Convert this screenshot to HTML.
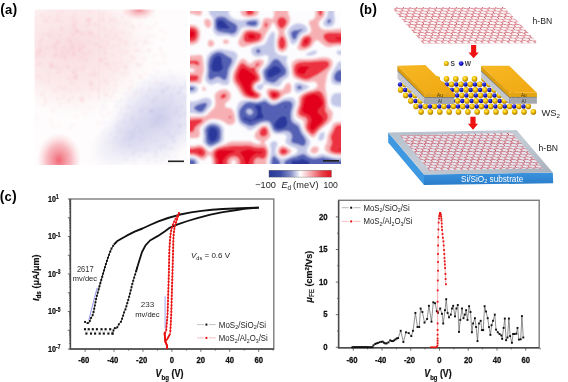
<!DOCTYPE html>
<html><head><meta charset="utf-8"><title>Figure</title>
<style>html,body{margin:0;padding:0;background:#fff;} svg{display:block;}</style></head>
<body><svg width="568" height="382" viewBox="0 0 568 382" font-family="'Liberation Sans', Arial, sans-serif">
<defs>
<linearGradient id="cbar" x1="0" x2="1" y1="0" y2="0">
 <stop offset="0" stop-color="#283896"/>
 <stop offset="0.18" stop-color="#3a4aa4"/>
 <stop offset="0.35" stop-color="#8890c8"/>
 <stop offset="0.5" stop-color="#ffffff"/>
 <stop offset="0.68" stop-color="#f4a4a8"/>
 <stop offset="0.85" stop-color="#e84048"/>
 <stop offset="1" stop-color="#e0101c"/>
</linearGradient>
<radialGradient id="lmRed1" cx="0.5" cy="0.5" r="0.5">
 <stop offset="0" stop-color="#ec3446" stop-opacity="0.75"/>
 <stop offset="0.55" stop-color="#f06070" stop-opacity="0.42"/>
 <stop offset="1" stop-color="#f6a0a8" stop-opacity="0"/>
</radialGradient>
<radialGradient id="lmRed2" cx="0.5" cy="0.5" r="0.5">
 <stop offset="0" stop-color="#e84050" stop-opacity="0.6"/>
 <stop offset="1" stop-color="#f6a0a8" stop-opacity="0"/>
</radialGradient>
<radialGradient id="lmBlue" cx="0.5" cy="0.5" r="0.5">
 <stop offset="0" stop-color="#b0b0e0" stop-opacity="0.62"/>
 <stop offset="0.6" stop-color="#c6c6ea" stop-opacity="0.4"/>
 <stop offset="1" stop-color="#d8d8f0" stop-opacity="0"/>
</radialGradient>
<radialGradient id="lmPinkR" cx="0.5" cy="0.5" r="0.5">
 <stop offset="0" stop-color="#f8d6da" stop-opacity="0.85"/>
 <stop offset="0.6" stop-color="#fadfe2" stop-opacity="0.6"/>
 <stop offset="1" stop-color="#fdf0f0" stop-opacity="0"/>
</radialGradient>
<linearGradient id="lmPink" x1="0" y1="0" x2="1" y2="1">
 <stop offset="0" stop-color="#f8d8dc"/>
 <stop offset="0.45" stop-color="#fcecee"/>
 <stop offset="0.6" stop-color="#ffffff" stop-opacity="0"/>
</linearGradient>
<filter id="blur2" x="-5%" y="-5%" width="110%" height="110%"><feGaussianBlur stdDeviation="3.2"/></filter>
<filter id="blurM" x="-5%" y="-5%" width="110%" height="110%"><feGaussianBlur stdDeviation="0.9"/></filter>
<filter id="blur1"><feGaussianBlur stdDeviation="1"/></filter>
<clipPath id="rmClip"><rect x="190" y="11" width="151" height="153"/></clipPath>
<clipPath id="lmClip"><rect x="34.5" y="9.5" width="152" height="155.5"/></clipPath>

<pattern id="hexTop" patternUnits="userSpaceOnUse" width="6.6" height="5.4" patternTransform="translate(394 8) skewX(40)">
 <rect width="6.6" height="5.4" fill="#fbf4f5"/>
 <path d="M0,0.9 L3.3,0 L6.6,0.9 M0,0.9 L0,2.7 M6.6,0.9 L6.6,2.7 M0,2.7 L3.3,3.6 L6.6,2.7 M3.3,3.6 L3.3,5.4" fill="none" stroke="#c43444" stroke-width="0.6"/>
</pattern>
<pattern id="hexSub" patternUnits="userSpaceOnUse" width="6.6" height="5.4" patternTransform="translate(400 135) skewX(40)">
 <rect width="6.6" height="5.4" fill="#e6e4ec"/>
 <path d="M0,0.9 L3.3,0 L6.6,0.9 M0,0.9 L0,2.7 M6.6,0.9 L6.6,2.7 M0,2.7 L3.3,3.6 L6.6,2.7 M3.3,3.6 L3.3,5.4" fill="none" stroke="#bc3040" stroke-width="0.6"/>
</pattern>
<radialGradient id="ballS" cx="0.4" cy="0.35" r="0.65">
 <stop offset="0" stop-color="#fff27a"/>
 <stop offset="0.45" stop-color="#f5c400"/>
 <stop offset="1" stop-color="#a87800"/>
</radialGradient>
<radialGradient id="ballW" cx="0.4" cy="0.35" r="0.65">
 <stop offset="0" stop-color="#6060ff"/>
 <stop offset="0.5" stop-color="#1a1ad0"/>
 <stop offset="1" stop-color="#080870"/>
</radialGradient>
<linearGradient id="goldTop" x1="0" y1="0" x2="1" y2="1">
 <stop offset="0" stop-color="#f7b824"/>
 <stop offset="1" stop-color="#f0a812"/>
</linearGradient>
<linearGradient id="subTop" x1="0" y1="0" x2="1" y2="1">
 <stop offset="0" stop-color="#b4c0cc"/>
 <stop offset="0.5" stop-color="#c4ccd6"/>
 <stop offset="1" stop-color="#a8b0bc"/>
</linearGradient>
<linearGradient id="subFront" x1="0" y1="0" x2="0" y2="1">
 <stop offset="0" stop-color="#3a94e0"/>
 <stop offset="1" stop-color="#2a7cc8"/>
</linearGradient>
</defs>
<rect width="568" height="382" fill="#fff"/>
<text x="0.2" y="14.2" font-size="13" font-weight="bold"><tspan font-size="14.1">(</tspan>a<tspan font-size="14.1" dx="0.3">)</tspan></text>
<text x="359.4" y="13.8" font-size="13" font-weight="bold"><tspan font-size="14.1">(</tspan>b<tspan font-size="14.1" dx="0.3">)</tspan></text>
<text x="-0.3" y="201.3" font-size="13" font-weight="bold"><tspan font-size="14.1">(</tspan>c<tspan font-size="14.1" dx="0.3">)</tspan></text>
<g clip-path="url(#lmClip)">
<rect x="34.5" y="9.5" width="153.0" height="155.5" fill="#fefcfc"/>
<ellipse cx="72" cy="48" rx="85" ry="70" fill="url(#lmPinkR)"/>
<ellipse cx="158" cy="118" rx="56" ry="44" fill="url(#lmBlue)" transform="rotate(-40 158 118)"/>
<ellipse cx="125" cy="140" rx="40" ry="26" fill="url(#lmBlue)" opacity="0.55" transform="rotate(-35 125 140)"/>
<g filter="url(#blur1)"><rect x="84.0" y="33.0" width="3" height="3" fill="#f09aa2" opacity="0.09"/><rect x="116.5" y="66.4" width="3" height="3" fill="#f09aa2" opacity="0.12"/><rect x="40.2" y="76.9" width="3" height="3" fill="#f09aa2" opacity="0.09"/><rect x="53.4" y="44.2" width="3" height="3" fill="#f09aa2" opacity="0.20"/><rect x="78.8" y="31.9" width="3" height="3" fill="#f09aa2" opacity="0.12"/><rect x="44.1" y="18.8" width="3" height="3" fill="#f09aa2" opacity="0.14"/><rect x="99.9" y="58.3" width="3" height="3" fill="#f09aa2" opacity="0.13"/><rect x="57.8" y="85.5" width="3" height="3" fill="#f09aa2" opacity="0.13"/><rect x="107.0" y="112.8" width="3" height="3" fill="#f09aa2" opacity="0.09"/><rect x="60.2" y="27.7" width="3" height="3" fill="#f09aa2" opacity="0.17"/><rect x="54.3" y="48.0" width="3" height="3" fill="#f09aa2" opacity="0.19"/><rect x="46.8" y="79.3" width="3" height="3" fill="#f09aa2" opacity="0.15"/><rect x="159.8" y="143.8" width="2.5" height="2.5" fill="#a8a8dc" opacity="0.13"/><rect x="61.5" y="45.6" width="3" height="3" fill="#f09aa2" opacity="0.15"/><rect x="124.6" y="50.4" width="3" height="3" fill="#f09aa2" opacity="0.11"/><rect x="140.1" y="89.7" width="2.5" height="2.5" fill="#a8a8dc" opacity="0.10"/><rect x="156.6" y="70.5" width="2.5" height="2.5" fill="#a8a8dc" opacity="0.10"/><rect x="44.0" y="20.0" width="3" height="3" fill="#f09aa2" opacity="0.09"/><rect x="86.5" y="17.7" width="3" height="3" fill="#f09aa2" opacity="0.09"/><rect x="50.0" y="66.0" width="3" height="3" fill="#f09aa2" opacity="0.17"/><rect x="128.5" y="32.6" width="3" height="3" fill="#f09aa2" opacity="0.10"/><rect x="186.4" y="82.0" width="2.5" height="2.5" fill="#a8a8dc" opacity="0.10"/><rect x="50.1" y="62.8" width="3" height="3" fill="#f09aa2" opacity="0.17"/><rect x="115.3" y="32.3" width="3" height="3" fill="#f09aa2" opacity="0.08"/><rect x="166.6" y="117.8" width="2.5" height="2.5" fill="#a8a8dc" opacity="0.15"/><rect x="116.0" y="130.6" width="2.5" height="2.5" fill="#a8a8dc" opacity="0.11"/><rect x="69.2" y="90.0" width="3" height="3" fill="#f09aa2" opacity="0.08"/><rect x="38.8" y="52.9" width="3" height="3" fill="#f09aa2" opacity="0.15"/><rect x="185.7" y="158.0" width="2.5" height="2.5" fill="#a8a8dc" opacity="0.10"/><rect x="69.2" y="40.1" width="3" height="3" fill="#f09aa2" opacity="0.17"/><rect x="172.2" y="140.2" width="2.5" height="2.5" fill="#a8a8dc" opacity="0.15"/><rect x="145.4" y="35.9" width="3" height="3" fill="#f09aa2" opacity="0.09"/><rect x="172.9" y="134.9" width="2.5" height="2.5" fill="#a8a8dc" opacity="0.17"/><rect x="184.5" y="111.7" width="2.5" height="2.5" fill="#a8a8dc" opacity="0.14"/><rect x="133.9" y="91.4" width="2.5" height="2.5" fill="#a8a8dc" opacity="0.14"/><rect x="79.3" y="46.9" width="3" height="3" fill="#f09aa2" opacity="0.12"/><rect x="88.6" y="80.7" width="3" height="3" fill="#f09aa2" opacity="0.16"/><rect x="111.3" y="92.2" width="2.5" height="2.5" fill="#a8a8dc" opacity="0.10"/><rect x="119.6" y="60.2" width="3" height="3" fill="#f09aa2" opacity="0.12"/><rect x="72.5" y="52.6" width="3" height="3" fill="#f09aa2" opacity="0.16"/><rect x="102.3" y="104.7" width="2.5" height="2.5" fill="#a8a8dc" opacity="0.10"/><rect x="103.7" y="92.4" width="3" height="3" fill="#f09aa2" opacity="0.13"/><rect x="163.0" y="30.8" width="3" height="3" fill="#f09aa2" opacity="0.08"/><rect x="45.6" y="46.9" width="3" height="3" fill="#f09aa2" opacity="0.16"/><rect x="154.4" y="149.0" width="2.5" height="2.5" fill="#a8a8dc" opacity="0.14"/><rect x="113.4" y="62.2" width="3" height="3" fill="#f09aa2" opacity="0.11"/><rect x="101.9" y="12.3" width="3" height="3" fill="#f09aa2" opacity="0.13"/><rect x="155.1" y="160.6" width="2.5" height="2.5" fill="#a8a8dc" opacity="0.11"/><rect x="75.9" y="29.6" width="3" height="3" fill="#f09aa2" opacity="0.19"/><rect x="159.8" y="49.7" width="3" height="3" fill="#f09aa2" opacity="0.09"/><rect x="121.8" y="118.4" width="2.5" height="2.5" fill="#a8a8dc" opacity="0.10"/><rect x="139.8" y="75.6" width="3" height="3" fill="#f09aa2" opacity="0.11"/><rect x="131.6" y="134.2" width="2.5" height="2.5" fill="#a8a8dc" opacity="0.16"/><rect x="103.9" y="62.2" width="3" height="3" fill="#f09aa2" opacity="0.17"/><rect x="75.5" y="29.6" width="3" height="3" fill="#f09aa2" opacity="0.11"/><rect x="51.2" y="34.6" width="3" height="3" fill="#f09aa2" opacity="0.10"/><rect x="82.2" y="56.9" width="3" height="3" fill="#f09aa2" opacity="0.12"/><rect x="111.0" y="37.2" width="3" height="3" fill="#f09aa2" opacity="0.08"/><rect x="118.8" y="39.0" width="3" height="3" fill="#f09aa2" opacity="0.15"/><rect x="161.8" y="119.4" width="2.5" height="2.5" fill="#a8a8dc" opacity="0.16"/><rect x="87.7" y="18.0" width="3" height="3" fill="#f09aa2" opacity="0.09"/><rect x="147.9" y="49.2" width="3" height="3" fill="#f09aa2" opacity="0.08"/><rect x="163.2" y="144.9" width="2.5" height="2.5" fill="#a8a8dc" opacity="0.12"/><rect x="71.6" y="55.1" width="3" height="3" fill="#f09aa2" opacity="0.10"/><rect x="183.3" y="94.6" width="2.5" height="2.5" fill="#a8a8dc" opacity="0.15"/><rect x="81.9" y="64.9" width="3" height="3" fill="#f09aa2" opacity="0.13"/><rect x="107.1" y="87.7" width="3" height="3" fill="#f09aa2" opacity="0.11"/><rect x="35.3" y="50.6" width="3" height="3" fill="#f09aa2" opacity="0.12"/><rect x="40.9" y="13.0" width="3" height="3" fill="#f09aa2" opacity="0.10"/><rect x="124.1" y="91.8" width="2.5" height="2.5" fill="#a8a8dc" opacity="0.12"/><rect x="169.0" y="70.1" width="2.5" height="2.5" fill="#a8a8dc" opacity="0.10"/><rect x="139.0" y="117.3" width="2.5" height="2.5" fill="#a8a8dc" opacity="0.10"/><rect x="54.9" y="65.6" width="3" height="3" fill="#f09aa2" opacity="0.18"/><rect x="120.0" y="107.1" width="2.5" height="2.5" fill="#a8a8dc" opacity="0.12"/><rect x="149.0" y="87.7" width="2.5" height="2.5" fill="#a8a8dc" opacity="0.10"/><rect x="147.2" y="48.7" width="3" height="3" fill="#f09aa2" opacity="0.09"/><rect x="183.8" y="86.3" width="2.5" height="2.5" fill="#a8a8dc" opacity="0.12"/><rect x="139.1" y="128.8" width="2.5" height="2.5" fill="#a8a8dc" opacity="0.16"/><rect x="46.4" y="32.4" width="3" height="3" fill="#f09aa2" opacity="0.16"/><rect x="81.1" y="97.8" width="3" height="3" fill="#f09aa2" opacity="0.08"/><rect x="105.6" y="82.0" width="3" height="3" fill="#f09aa2" opacity="0.14"/><rect x="103.3" y="51.3" width="3" height="3" fill="#f09aa2" opacity="0.18"/><rect x="66.7" y="99.9" width="3" height="3" fill="#f09aa2" opacity="0.11"/><rect x="108.9" y="13.4" width="3" height="3" fill="#f09aa2" opacity="0.11"/><rect x="103.5" y="56.5" width="3" height="3" fill="#f09aa2" opacity="0.12"/><rect x="143.6" y="149.7" width="2.5" height="2.5" fill="#a8a8dc" opacity="0.12"/><rect x="124.6" y="65.6" width="3" height="3" fill="#f09aa2" opacity="0.10"/><rect x="72.6" y="50.8" width="3" height="3" fill="#f09aa2" opacity="0.11"/><rect x="169.8" y="135.8" width="2.5" height="2.5" fill="#a8a8dc" opacity="0.18"/><rect x="149.7" y="109.7" width="2.5" height="2.5" fill="#a8a8dc" opacity="0.11"/><rect x="106.7" y="62.9" width="3" height="3" fill="#f09aa2" opacity="0.15"/><rect x="94.8" y="35.5" width="3" height="3" fill="#f09aa2" opacity="0.10"/><rect x="173.1" y="86.8" width="2.5" height="2.5" fill="#a8a8dc" opacity="0.14"/><rect x="187.0" y="79.5" width="2.5" height="2.5" fill="#a8a8dc" opacity="0.10"/><rect x="48.4" y="62.7" width="3" height="3" fill="#f09aa2" opacity="0.11"/><rect x="149.2" y="73.7" width="2.5" height="2.5" fill="#a8a8dc" opacity="0.11"/><rect x="86.2" y="19.2" width="3" height="3" fill="#f09aa2" opacity="0.17"/><rect x="72.5" y="71.7" width="3" height="3" fill="#f09aa2" opacity="0.19"/><rect x="164.3" y="145.2" width="2.5" height="2.5" fill="#a8a8dc" opacity="0.10"/><rect x="143.1" y="148.8" width="2.5" height="2.5" fill="#a8a8dc" opacity="0.13"/><rect x="72.5" y="26.5" width="3" height="3" fill="#f09aa2" opacity="0.14"/><rect x="133.5" y="128.4" width="2.5" height="2.5" fill="#a8a8dc" opacity="0.14"/><rect x="133.3" y="56.7" width="3" height="3" fill="#f09aa2" opacity="0.09"/><rect x="131.9" y="118.1" width="2.5" height="2.5" fill="#a8a8dc" opacity="0.11"/><rect x="114.7" y="100.1" width="2.5" height="2.5" fill="#a8a8dc" opacity="0.12"/><rect x="36.1" y="56.4" width="3" height="3" fill="#f09aa2" opacity="0.17"/><rect x="133.1" y="146.9" width="2.5" height="2.5" fill="#a8a8dc" opacity="0.11"/><rect x="142.3" y="57.3" width="3" height="3" fill="#f09aa2" opacity="0.10"/><rect x="137.7" y="74.8" width="3" height="3" fill="#f09aa2" opacity="0.10"/><rect x="39.7" y="62.1" width="3" height="3" fill="#f09aa2" opacity="0.15"/><rect x="147.6" y="88.0" width="3" height="3" fill="#f09aa2" opacity="0.09"/><rect x="69.8" y="43.9" width="3" height="3" fill="#f09aa2" opacity="0.12"/><rect x="180.1" y="86.6" width="2.5" height="2.5" fill="#a8a8dc" opacity="0.11"/><rect x="56.9" y="70.7" width="3" height="3" fill="#f09aa2" opacity="0.19"/><rect x="56.2" y="17.6" width="3" height="3" fill="#f09aa2" opacity="0.12"/><rect x="187.1" y="154.4" width="2.5" height="2.5" fill="#a8a8dc" opacity="0.10"/><rect x="177.7" y="125.6" width="2.5" height="2.5" fill="#a8a8dc" opacity="0.16"/><rect x="92.4" y="67.6" width="3" height="3" fill="#f09aa2" opacity="0.10"/><rect x="34.9" y="53.0" width="3" height="3" fill="#f09aa2" opacity="0.17"/><rect x="66.2" y="65.0" width="3" height="3" fill="#f09aa2" opacity="0.18"/><rect x="100.7" y="17.2" width="3" height="3" fill="#f09aa2" opacity="0.11"/><rect x="151.8" y="15.8" width="3" height="3" fill="#f09aa2" opacity="0.08"/><rect x="148.8" y="149.2" width="2.5" height="2.5" fill="#a8a8dc" opacity="0.11"/><rect x="181.0" y="105.4" width="2.5" height="2.5" fill="#a8a8dc" opacity="0.16"/><rect x="82.9" y="52.4" width="3" height="3" fill="#f09aa2" opacity="0.19"/><rect x="38.2" y="45.9" width="3" height="3" fill="#f09aa2" opacity="0.18"/><rect x="72.9" y="76.4" width="3" height="3" fill="#f09aa2" opacity="0.18"/><rect x="127.4" y="60.5" width="3" height="3" fill="#f09aa2" opacity="0.10"/><rect x="154.2" y="21.8" width="3" height="3" fill="#f09aa2" opacity="0.09"/><rect x="72.3" y="19.6" width="3" height="3" fill="#f09aa2" opacity="0.14"/><rect x="169.7" y="163.1" width="2.5" height="2.5" fill="#a8a8dc" opacity="0.10"/><rect x="102.9" y="45.9" width="3" height="3" fill="#f09aa2" opacity="0.15"/><rect x="79.4" y="97.7" width="3" height="3" fill="#f09aa2" opacity="0.12"/><rect x="65.0" y="48.0" width="3" height="3" fill="#f09aa2" opacity="0.10"/><rect x="169.8" y="99.4" width="2.5" height="2.5" fill="#a8a8dc" opacity="0.13"/><rect x="186.3" y="88.4" width="2.5" height="2.5" fill="#a8a8dc" opacity="0.13"/><rect x="134.5" y="163.6" width="2.5" height="2.5" fill="#a8a8dc" opacity="0.10"/><rect x="40.7" y="55.2" width="3" height="3" fill="#f09aa2" opacity="0.10"/><rect x="125.7" y="105.9" width="3" height="3" fill="#f09aa2" opacity="0.08"/><rect x="56.1" y="41.2" width="3" height="3" fill="#f09aa2" opacity="0.16"/><rect x="134.2" y="41.1" width="3" height="3" fill="#f09aa2" opacity="0.10"/><rect x="138.3" y="38.3" width="3" height="3" fill="#f09aa2" opacity="0.09"/><rect x="156.2" y="94.7" width="2.5" height="2.5" fill="#a8a8dc" opacity="0.11"/><rect x="48.4" y="35.0" width="3" height="3" fill="#f09aa2" opacity="0.13"/><rect x="82.3" y="97.6" width="3" height="3" fill="#f09aa2" opacity="0.10"/><rect x="166.7" y="164.5" width="2.5" height="2.5" fill="#a8a8dc" opacity="0.10"/><rect x="145.9" y="41.2" width="3" height="3" fill="#f09aa2" opacity="0.11"/><rect x="105.0" y="34.8" width="3" height="3" fill="#f09aa2" opacity="0.13"/><rect x="132.5" y="151.0" width="2.5" height="2.5" fill="#a8a8dc" opacity="0.12"/><rect x="91.2" y="87.9" width="3" height="3" fill="#f09aa2" opacity="0.10"/><rect x="183.8" y="84.6" width="2.5" height="2.5" fill="#a8a8dc" opacity="0.13"/><rect x="129.4" y="137.7" width="2.5" height="2.5" fill="#a8a8dc" opacity="0.14"/><rect x="161.4" y="38.0" width="3" height="3" fill="#f09aa2" opacity="0.08"/><rect x="113.7" y="69.1" width="3" height="3" fill="#f09aa2" opacity="0.10"/><rect x="145.4" y="149.0" width="2.5" height="2.5" fill="#a8a8dc" opacity="0.13"/><rect x="130.4" y="57.1" width="3" height="3" fill="#f09aa2" opacity="0.11"/><rect x="99.6" y="112.0" width="2.5" height="2.5" fill="#a8a8dc" opacity="0.10"/><rect x="129.2" y="85.6" width="3" height="3" fill="#f09aa2" opacity="0.11"/><rect x="153.8" y="80.8" width="3" height="3" fill="#f09aa2" opacity="0.08"/><rect x="50.9" y="29.5" width="3" height="3" fill="#f09aa2" opacity="0.09"/><rect x="102.1" y="88.8" width="3" height="3" fill="#f09aa2" opacity="0.12"/><rect x="112.8" y="17.9" width="3" height="3" fill="#f09aa2" opacity="0.11"/><rect x="155.1" y="154.2" width="2.5" height="2.5" fill="#a8a8dc" opacity="0.11"/><rect x="66.4" y="50.4" width="3" height="3" fill="#f09aa2" opacity="0.13"/><rect x="40.1" y="37.8" width="3" height="3" fill="#f09aa2" opacity="0.18"/><rect x="138.5" y="148.7" width="2.5" height="2.5" fill="#a8a8dc" opacity="0.14"/><rect x="119.4" y="99.7" width="2.5" height="2.5" fill="#a8a8dc" opacity="0.14"/><rect x="124.1" y="112.7" width="2.5" height="2.5" fill="#a8a8dc" opacity="0.10"/><rect x="112.9" y="148.8" width="2.5" height="2.5" fill="#a8a8dc" opacity="0.10"/><rect x="134.4" y="13.0" width="3" height="3" fill="#f09aa2" opacity="0.09"/><rect x="50.8" y="65.0" width="3" height="3" fill="#f09aa2" opacity="0.14"/><rect x="71.8" y="32.7" width="3" height="3" fill="#f09aa2" opacity="0.16"/><rect x="167.8" y="131.1" width="2.5" height="2.5" fill="#a8a8dc" opacity="0.13"/><rect x="177.9" y="123.6" width="2.5" height="2.5" fill="#a8a8dc" opacity="0.19"/><rect x="41.2" y="92.2" width="3" height="3" fill="#f09aa2" opacity="0.09"/><rect x="56.3" y="40.5" width="3" height="3" fill="#f09aa2" opacity="0.15"/><rect x="132.7" y="136.0" width="2.5" height="2.5" fill="#a8a8dc" opacity="0.12"/><rect x="154.3" y="120.7" width="2.5" height="2.5" fill="#a8a8dc" opacity="0.22"/><rect x="148.5" y="81.8" width="2.5" height="2.5" fill="#a8a8dc" opacity="0.11"/><rect x="50.6" y="45.6" width="3" height="3" fill="#f09aa2" opacity="0.12"/><rect x="101.2" y="132.1" width="2.5" height="2.5" fill="#a8a8dc" opacity="0.10"/><rect x="132.7" y="159.6" width="2.5" height="2.5" fill="#a8a8dc" opacity="0.11"/><rect x="36.8" y="50.0" width="3" height="3" fill="#f09aa2" opacity="0.15"/><rect x="179.0" y="125.5" width="2.5" height="2.5" fill="#a8a8dc" opacity="0.18"/><rect x="131.0" y="117.2" width="2.5" height="2.5" fill="#a8a8dc" opacity="0.18"/><rect x="106.3" y="140.1" width="2.5" height="2.5" fill="#a8a8dc" opacity="0.10"/><rect x="101.4" y="122.2" width="2.5" height="2.5" fill="#a8a8dc" opacity="0.10"/><rect x="56.6" y="13.7" width="3" height="3" fill="#f09aa2" opacity="0.16"/><rect x="87.3" y="31.6" width="3" height="3" fill="#f09aa2" opacity="0.08"/><rect x="140.5" y="108.1" width="2.5" height="2.5" fill="#a8a8dc" opacity="0.17"/><rect x="44.6" y="101.3" width="3" height="3" fill="#f09aa2" opacity="0.12"/><rect x="159.9" y="148.1" width="2.5" height="2.5" fill="#a8a8dc" opacity="0.15"/><rect x="174.4" y="156.3" width="2.5" height="2.5" fill="#a8a8dc" opacity="0.11"/><rect x="131.1" y="54.2" width="3" height="3" fill="#f09aa2" opacity="0.09"/><rect x="150.4" y="41.4" width="3" height="3" fill="#f09aa2" opacity="0.09"/><rect x="37.7" y="49.4" width="3" height="3" fill="#f09aa2" opacity="0.15"/><rect x="111.6" y="141.9" width="2.5" height="2.5" fill="#a8a8dc" opacity="0.10"/><rect x="60.6" y="9.7" width="3" height="3" fill="#f09aa2" opacity="0.14"/><rect x="62.7" y="86.4" width="3" height="3" fill="#f09aa2" opacity="0.15"/><rect x="77.9" y="42.9" width="3" height="3" fill="#f09aa2" opacity="0.15"/><rect x="51.3" y="108.5" width="3" height="3" fill="#f09aa2" opacity="0.11"/><rect x="141.2" y="131.9" width="2.5" height="2.5" fill="#a8a8dc" opacity="0.13"/><rect x="38.4" y="41.6" width="3" height="3" fill="#f09aa2" opacity="0.17"/><rect x="70.2" y="81.2" width="3" height="3" fill="#f09aa2" opacity="0.15"/><rect x="149.7" y="110.0" width="2.5" height="2.5" fill="#a8a8dc" opacity="0.14"/><rect x="135.8" y="124.9" width="2.5" height="2.5" fill="#a8a8dc" opacity="0.14"/><rect x="152.8" y="99.6" width="2.5" height="2.5" fill="#a8a8dc" opacity="0.14"/><rect x="63.8" y="56.4" width="3" height="3" fill="#f09aa2" opacity="0.20"/><rect x="58.2" y="33.8" width="3" height="3" fill="#f09aa2" opacity="0.12"/><rect x="114.4" y="34.5" width="3" height="3" fill="#f09aa2" opacity="0.10"/><rect x="183.7" y="122.8" width="2.5" height="2.5" fill="#a8a8dc" opacity="0.18"/><rect x="156.1" y="123.5" width="2.5" height="2.5" fill="#a8a8dc" opacity="0.13"/><rect x="132.1" y="26.1" width="3" height="3" fill="#f09aa2" opacity="0.10"/><rect x="140.6" y="87.3" width="2.5" height="2.5" fill="#a8a8dc" opacity="0.11"/><rect x="173.4" y="76.4" width="2.5" height="2.5" fill="#a8a8dc" opacity="0.11"/><rect x="98.9" y="45.0" width="3" height="3" fill="#f09aa2" opacity="0.18"/><rect x="138.5" y="109.3" width="2.5" height="2.5" fill="#a8a8dc" opacity="0.13"/><rect x="130.6" y="24.7" width="3" height="3" fill="#f09aa2" opacity="0.12"/><rect x="143.6" y="107.4" width="2.5" height="2.5" fill="#a8a8dc" opacity="0.14"/><rect x="104.1" y="106.2" width="2.5" height="2.5" fill="#a8a8dc" opacity="0.11"/><rect x="40.3" y="94.0" width="3" height="3" fill="#f09aa2" opacity="0.12"/><rect x="178.4" y="90.2" width="2.5" height="2.5" fill="#a8a8dc" opacity="0.13"/><rect x="117.3" y="121.0" width="2.5" height="2.5" fill="#a8a8dc" opacity="0.13"/><rect x="161.3" y="90.6" width="2.5" height="2.5" fill="#a8a8dc" opacity="0.16"/><rect x="88.9" y="18.3" width="3" height="3" fill="#f09aa2" opacity="0.12"/><rect x="36.5" y="74.6" width="3" height="3" fill="#f09aa2" opacity="0.14"/><rect x="88.4" y="50.7" width="3" height="3" fill="#f09aa2" opacity="0.18"/><rect x="178.3" y="91.5" width="2.5" height="2.5" fill="#a8a8dc" opacity="0.14"/><rect x="94.5" y="42.5" width="3" height="3" fill="#f09aa2" opacity="0.17"/><rect x="158.4" y="108.1" width="2.5" height="2.5" fill="#a8a8dc" opacity="0.17"/><rect x="159.4" y="82.3" width="2.5" height="2.5" fill="#a8a8dc" opacity="0.12"/><rect x="75.4" y="68.0" width="3" height="3" fill="#f09aa2" opacity="0.13"/><rect x="77.5" y="47.6" width="3" height="3" fill="#f09aa2" opacity="0.15"/><rect x="100.1" y="108.6" width="2.5" height="2.5" fill="#a8a8dc" opacity="0.10"/><rect x="131.4" y="11.8" width="3" height="3" fill="#f09aa2" opacity="0.11"/><rect x="134.9" y="48.4" width="3" height="3" fill="#f09aa2" opacity="0.09"/><rect x="127.6" y="131.0" width="2.5" height="2.5" fill="#a8a8dc" opacity="0.16"/><rect x="155.1" y="139.9" width="2.5" height="2.5" fill="#a8a8dc" opacity="0.16"/><rect x="115.7" y="124.9" width="2.5" height="2.5" fill="#a8a8dc" opacity="0.14"/><rect x="119.4" y="50.6" width="3" height="3" fill="#f09aa2" opacity="0.09"/><rect x="109.9" y="18.6" width="3" height="3" fill="#f09aa2" opacity="0.09"/><rect x="163.1" y="82.3" width="2.5" height="2.5" fill="#a8a8dc" opacity="0.13"/><rect x="132.0" y="108.4" width="3" height="3" fill="#f09aa2" opacity="0.08"/><rect x="138.9" y="154.3" width="2.5" height="2.5" fill="#a8a8dc" opacity="0.13"/><rect x="90.5" y="83.3" width="3" height="3" fill="#f09aa2" opacity="0.14"/><rect x="66.7" y="77.2" width="3" height="3" fill="#f09aa2" opacity="0.14"/><rect x="96.3" y="87.8" width="3" height="3" fill="#f09aa2" opacity="0.12"/><rect x="85.1" y="58.8" width="3" height="3" fill="#f09aa2" opacity="0.16"/><rect x="131.6" y="131.4" width="2.5" height="2.5" fill="#a8a8dc" opacity="0.15"/><rect x="170.0" y="94.3" width="2.5" height="2.5" fill="#a8a8dc" opacity="0.12"/><rect x="128.1" y="105.4" width="2.5" height="2.5" fill="#a8a8dc" opacity="0.14"/><rect x="104.6" y="128.1" width="2.5" height="2.5" fill="#a8a8dc" opacity="0.10"/><rect x="174.4" y="111.5" width="2.5" height="2.5" fill="#a8a8dc" opacity="0.19"/><rect x="154.8" y="96.9" width="2.5" height="2.5" fill="#a8a8dc" opacity="0.13"/><rect x="99.0" y="59.0" width="3" height="3" fill="#f09aa2" opacity="0.15"/><rect x="121.3" y="15.6" width="3" height="3" fill="#f09aa2" opacity="0.12"/><rect x="122.5" y="152.3" width="2.5" height="2.5" fill="#a8a8dc" opacity="0.10"/><rect x="184.6" y="83.4" width="2.5" height="2.5" fill="#a8a8dc" opacity="0.10"/><rect x="133.1" y="42.5" width="3" height="3" fill="#f09aa2" opacity="0.08"/><rect x="35.2" y="115.8" width="3" height="3" fill="#f09aa2" opacity="0.09"/><rect x="71.6" y="123.6" width="3" height="3" fill="#f09aa2" opacity="0.08"/><rect x="143.0" y="81.1" width="2.5" height="2.5" fill="#a8a8dc" opacity="0.13"/><rect x="144.2" y="11.3" width="3" height="3" fill="#f09aa2" opacity="0.09"/><rect x="108.9" y="18.8" width="3" height="3" fill="#f09aa2" opacity="0.12"/><rect x="101.6" y="114.8" width="3" height="3" fill="#f09aa2" opacity="0.09"/><rect x="179.1" y="131.5" width="2.5" height="2.5" fill="#a8a8dc" opacity="0.12"/><rect x="142.1" y="138.2" width="2.5" height="2.5" fill="#a8a8dc" opacity="0.15"/><rect x="184.0" y="138.8" width="2.5" height="2.5" fill="#a8a8dc" opacity="0.12"/><rect x="171.6" y="135.1" width="2.5" height="2.5" fill="#a8a8dc" opacity="0.10"/><rect x="74.7" y="75.2" width="3" height="3" fill="#f09aa2" opacity="0.17"/><rect x="87.6" y="22.7" width="3" height="3" fill="#f09aa2" opacity="0.16"/><rect x="105.7" y="41.6" width="3" height="3" fill="#f09aa2" opacity="0.16"/><rect x="155.6" y="81.0" width="3" height="3" fill="#f09aa2" opacity="0.08"/><rect x="171.7" y="147.1" width="2.5" height="2.5" fill="#a8a8dc" opacity="0.13"/><rect x="124.7" y="38.9" width="3" height="3" fill="#f09aa2" opacity="0.09"/><rect x="96.1" y="89.9" width="3" height="3" fill="#f09aa2" opacity="0.08"/><rect x="58.4" y="102.4" width="3" height="3" fill="#f09aa2" opacity="0.11"/><rect x="167.0" y="85.1" width="2.5" height="2.5" fill="#a8a8dc" opacity="0.11"/><rect x="159.8" y="159.3" width="2.5" height="2.5" fill="#a8a8dc" opacity="0.10"/><rect x="65.3" y="37.6" width="3" height="3" fill="#f09aa2" opacity="0.09"/><rect x="119.8" y="144.9" width="2.5" height="2.5" fill="#a8a8dc" opacity="0.12"/><rect x="126.0" y="71.3" width="3" height="3" fill="#f09aa2" opacity="0.14"/><rect x="180.8" y="113.6" width="2.5" height="2.5" fill="#a8a8dc" opacity="0.14"/><rect x="40.4" y="49.3" width="3" height="3" fill="#f09aa2" opacity="0.18"/><rect x="172.9" y="139.7" width="2.5" height="2.5" fill="#a8a8dc" opacity="0.16"/><rect x="178.2" y="114.8" width="2.5" height="2.5" fill="#a8a8dc" opacity="0.16"/><rect x="73.8" y="28.8" width="3" height="3" fill="#f09aa2" opacity="0.10"/><rect x="71.0" y="31.8" width="3" height="3" fill="#f09aa2" opacity="0.08"/><rect x="144.2" y="39.8" width="3" height="3" fill="#f09aa2" opacity="0.11"/><rect x="167.1" y="147.7" width="2.5" height="2.5" fill="#a8a8dc" opacity="0.13"/><rect x="163.4" y="107.2" width="2.5" height="2.5" fill="#a8a8dc" opacity="0.14"/><rect x="160.4" y="83.8" width="2.5" height="2.5" fill="#a8a8dc" opacity="0.11"/><rect x="75.3" y="73.5" width="3" height="3" fill="#f09aa2" opacity="0.11"/><rect x="163.0" y="61.5" width="3" height="3" fill="#f09aa2" opacity="0.08"/><rect x="78.3" y="49.6" width="3" height="3" fill="#f09aa2" opacity="0.13"/><rect x="158.0" y="62.5" width="3" height="3" fill="#f09aa2" opacity="0.08"/><rect x="161.8" y="91.4" width="2.5" height="2.5" fill="#a8a8dc" opacity="0.13"/><rect x="121.9" y="31.0" width="3" height="3" fill="#f09aa2" opacity="0.13"/><rect x="143.4" y="40.1" width="3" height="3" fill="#f09aa2" opacity="0.08"/><rect x="127.6" y="86.5" width="3" height="3" fill="#f09aa2" opacity="0.09"/><rect x="123.7" y="41.0" width="3" height="3" fill="#f09aa2" opacity="0.13"/><rect x="96.9" y="121.7" width="3" height="3" fill="#f09aa2" opacity="0.09"/><rect x="166.8" y="86.2" width="2.5" height="2.5" fill="#a8a8dc" opacity="0.15"/><rect x="75.2" y="38.4" width="3" height="3" fill="#f09aa2" opacity="0.13"/><rect x="59.5" y="67.2" width="3" height="3" fill="#f09aa2" opacity="0.08"/><rect x="114.0" y="78.8" width="3" height="3" fill="#f09aa2" opacity="0.09"/><rect x="180.5" y="86.4" width="2.5" height="2.5" fill="#a8a8dc" opacity="0.12"/><rect x="68.7" y="37.9" width="3" height="3" fill="#f09aa2" opacity="0.11"/><rect x="49.3" y="118.2" width="3" height="3" fill="#f09aa2" opacity="0.08"/><rect x="144.2" y="16.5" width="3" height="3" fill="#f09aa2" opacity="0.09"/><rect x="111.1" y="53.0" width="3" height="3" fill="#f09aa2" opacity="0.12"/><rect x="153.4" y="62.1" width="3" height="3" fill="#f09aa2" opacity="0.09"/><rect x="115.7" y="20.3" width="3" height="3" fill="#f09aa2" opacity="0.11"/><rect x="153.3" y="155.2" width="2.5" height="2.5" fill="#a8a8dc" opacity="0.13"/><rect x="169.8" y="147.1" width="2.5" height="2.5" fill="#a8a8dc" opacity="0.14"/><rect x="75.2" y="115.0" width="3" height="3" fill="#f09aa2" opacity="0.09"/><rect x="175.9" y="106.1" width="2.5" height="2.5" fill="#a8a8dc" opacity="0.15"/><rect x="78.5" y="57.0" width="3" height="3" fill="#f09aa2" opacity="0.10"/><rect x="125.4" y="158.2" width="2.5" height="2.5" fill="#a8a8dc" opacity="0.10"/><rect x="105.9" y="92.5" width="3" height="3" fill="#f09aa2" opacity="0.09"/><rect x="54.6" y="55.2" width="3" height="3" fill="#f09aa2" opacity="0.12"/><rect x="71.7" y="23.2" width="3" height="3" fill="#f09aa2" opacity="0.17"/><rect x="127.8" y="98.2" width="2.5" height="2.5" fill="#a8a8dc" opacity="0.14"/><rect x="105.0" y="94.7" width="2.5" height="2.5" fill="#a8a8dc" opacity="0.10"/><rect x="71.6" y="44.0" width="3" height="3" fill="#f09aa2" opacity="0.14"/><rect x="124.1" y="11.3" width="3" height="3" fill="#f09aa2" opacity="0.12"/><rect x="71.0" y="96.1" width="3" height="3" fill="#f09aa2" opacity="0.10"/><rect x="152.6" y="34.2" width="3" height="3" fill="#f09aa2" opacity="0.10"/><rect x="101.8" y="19.1" width="3" height="3" fill="#f09aa2" opacity="0.12"/><rect x="147.0" y="26.5" width="3" height="3" fill="#f09aa2" opacity="0.11"/><rect x="147.5" y="33.5" width="3" height="3" fill="#f09aa2" opacity="0.09"/><rect x="151.6" y="100.6" width="2.5" height="2.5" fill="#a8a8dc" opacity="0.19"/><rect x="168.0" y="103.9" width="2.5" height="2.5" fill="#a8a8dc" opacity="0.15"/><rect x="104.6" y="121.9" width="2.5" height="2.5" fill="#a8a8dc" opacity="0.11"/><rect x="164.5" y="87.2" width="2.5" height="2.5" fill="#a8a8dc" opacity="0.11"/><rect x="81.0" y="32.0" width="3" height="3" fill="#f09aa2" opacity="0.15"/><rect x="162.7" y="158.6" width="2.5" height="2.5" fill="#a8a8dc" opacity="0.11"/><rect x="175.3" y="129.8" width="2.5" height="2.5" fill="#a8a8dc" opacity="0.19"/><rect x="113.7" y="89.9" width="2.5" height="2.5" fill="#a8a8dc" opacity="0.10"/><rect x="138.0" y="91.2" width="3" height="3" fill="#f09aa2" opacity="0.09"/><rect x="169.1" y="159.5" width="2.5" height="2.5" fill="#a8a8dc" opacity="0.11"/><rect x="160.9" y="89.2" width="2.5" height="2.5" fill="#a8a8dc" opacity="0.16"/><rect x="170.4" y="74.9" width="2.5" height="2.5" fill="#a8a8dc" opacity="0.10"/><rect x="112.8" y="88.0" width="3" height="3" fill="#f09aa2" opacity="0.09"/><rect x="124.2" y="113.4" width="3" height="3" fill="#f09aa2" opacity="0.08"/><rect x="122.4" y="73.4" width="3" height="3" fill="#f09aa2" opacity="0.09"/><rect x="150.7" y="26.1" width="3" height="3" fill="#f09aa2" opacity="0.08"/><rect x="114.4" y="137.5" width="2.5" height="2.5" fill="#a8a8dc" opacity="0.12"/><rect x="60.4" y="51.0" width="3" height="3" fill="#f09aa2" opacity="0.21"/><rect x="123.6" y="63.8" width="3" height="3" fill="#f09aa2" opacity="0.11"/><rect x="123.6" y="158.7" width="2.5" height="2.5" fill="#a8a8dc" opacity="0.10"/><rect x="71.7" y="70.1" width="3" height="3" fill="#f09aa2" opacity="0.11"/><rect x="108.6" y="132.8" width="2.5" height="2.5" fill="#a8a8dc" opacity="0.10"/><rect x="79.0" y="96.8" width="3" height="3" fill="#f09aa2" opacity="0.11"/><rect x="93.5" y="72.2" width="3" height="3" fill="#f09aa2" opacity="0.09"/><rect x="63.8" y="53.6" width="3" height="3" fill="#f09aa2" opacity="0.08"/><rect x="136.1" y="62.6" width="3" height="3" fill="#f09aa2" opacity="0.11"/><rect x="111.7" y="44.8" width="3" height="3" fill="#f09aa2" opacity="0.09"/><rect x="124.4" y="66.7" width="3" height="3" fill="#f09aa2" opacity="0.12"/><rect x="53.3" y="89.3" width="3" height="3" fill="#f09aa2" opacity="0.10"/><rect x="152.6" y="69.3" width="2.5" height="2.5" fill="#a8a8dc" opacity="0.10"/><rect x="94.2" y="22.9" width="3" height="3" fill="#f09aa2" opacity="0.16"/><rect x="83.6" y="112.6" width="3" height="3" fill="#f09aa2" opacity="0.10"/><rect x="89.8" y="87.3" width="3" height="3" fill="#f09aa2" opacity="0.09"/><rect x="82.1" y="44.7" width="3" height="3" fill="#f09aa2" opacity="0.18"/><rect x="54.7" y="52.5" width="3" height="3" fill="#f09aa2" opacity="0.17"/><rect x="136.0" y="64.1" width="3" height="3" fill="#f09aa2" opacity="0.11"/><rect x="88.4" y="107.3" width="3" height="3" fill="#f09aa2" opacity="0.08"/><rect x="40.7" y="15.7" width="3" height="3" fill="#f09aa2" opacity="0.10"/><rect x="80.9" y="68.7" width="3" height="3" fill="#f09aa2" opacity="0.12"/><rect x="121.7" y="120.9" width="2.5" height="2.5" fill="#a8a8dc" opacity="0.13"/><rect x="139.2" y="63.8" width="3" height="3" fill="#f09aa2" opacity="0.12"/><rect x="153.3" y="54.0" width="3" height="3" fill="#f09aa2" opacity="0.10"/><rect x="127.4" y="16.9" width="3" height="3" fill="#f09aa2" opacity="0.09"/><rect x="161.3" y="53.2" width="3" height="3" fill="#f09aa2" opacity="0.09"/><rect x="130.6" y="79.9" width="3" height="3" fill="#f09aa2" opacity="0.11"/><rect x="132.0" y="94.1" width="3" height="3" fill="#f09aa2" opacity="0.08"/><rect x="89.2" y="73.5" width="3" height="3" fill="#f09aa2" opacity="0.11"/><rect x="70.9" y="47.1" width="3" height="3" fill="#f09aa2" opacity="0.15"/><rect x="56.2" y="97.1" width="3" height="3" fill="#f09aa2" opacity="0.13"/><rect x="118.4" y="127.8" width="2.5" height="2.5" fill="#a8a8dc" opacity="0.13"/><rect x="52.0" y="54.5" width="3" height="3" fill="#f09aa2" opacity="0.11"/><rect x="43.7" y="53.2" width="3" height="3" fill="#f09aa2" opacity="0.16"/><rect x="103.0" y="27.1" width="3" height="3" fill="#f09aa2" opacity="0.12"/><rect x="90.0" y="35.6" width="3" height="3" fill="#f09aa2" opacity="0.08"/><rect x="186.3" y="126.2" width="2.5" height="2.5" fill="#a8a8dc" opacity="0.15"/><rect x="184.5" y="97.1" width="2.5" height="2.5" fill="#a8a8dc" opacity="0.13"/><rect x="100.9" y="39.0" width="3" height="3" fill="#f09aa2" opacity="0.08"/><rect x="175.2" y="109.7" width="2.5" height="2.5" fill="#a8a8dc" opacity="0.19"/><rect x="134.3" y="48.6" width="3" height="3" fill="#f09aa2" opacity="0.09"/><rect x="163.0" y="55.6" width="3" height="3" fill="#f09aa2" opacity="0.08"/><rect x="163.9" y="153.6" width="2.5" height="2.5" fill="#a8a8dc" opacity="0.13"/><rect x="161.6" y="124.9" width="2.5" height="2.5" fill="#a8a8dc" opacity="0.12"/><rect x="71.1" y="15.9" width="3" height="3" fill="#f09aa2" opacity="0.14"/><rect x="179.1" y="86.4" width="2.5" height="2.5" fill="#a8a8dc" opacity="0.11"/><rect x="80.3" y="99.9" width="3" height="3" fill="#f09aa2" opacity="0.12"/><rect x="48.2" y="15.7" width="3" height="3" fill="#f09aa2" opacity="0.10"/><rect x="165.4" y="131.9" width="2.5" height="2.5" fill="#a8a8dc" opacity="0.13"/><rect x="135.7" y="89.5" width="2.5" height="2.5" fill="#a8a8dc" opacity="0.12"/><rect x="59.7" y="55.5" width="3" height="3" fill="#f09aa2" opacity="0.16"/><rect x="87.8" y="39.9" width="3" height="3" fill="#f09aa2" opacity="0.12"/><rect x="108.1" y="110.2" width="3" height="3" fill="#f09aa2" opacity="0.09"/><rect x="120.9" y="71.1" width="3" height="3" fill="#f09aa2" opacity="0.09"/><rect x="170.7" y="94.7" width="2.5" height="2.5" fill="#a8a8dc" opacity="0.16"/><rect x="73.3" y="24.3" width="3" height="3" fill="#f09aa2" opacity="0.11"/><rect x="109.4" y="95.7" width="3" height="3" fill="#f09aa2" opacity="0.11"/><rect x="46.8" y="72.9" width="3" height="3" fill="#f09aa2" opacity="0.12"/><rect x="120.6" y="130.0" width="2.5" height="2.5" fill="#a8a8dc" opacity="0.14"/><rect x="43.3" y="46.3" width="3" height="3" fill="#f09aa2" opacity="0.08"/><rect x="125.4" y="42.6" width="3" height="3" fill="#f09aa2" opacity="0.13"/><rect x="129.5" y="145.1" width="2.5" height="2.5" fill="#a8a8dc" opacity="0.14"/><rect x="138.6" y="137.9" width="2.5" height="2.5" fill="#a8a8dc" opacity="0.13"/><rect x="41.2" y="103.4" width="3" height="3" fill="#f09aa2" opacity="0.10"/><rect x="137.8" y="49.1" width="3" height="3" fill="#f09aa2" opacity="0.10"/><rect x="162.7" y="99.9" width="2.5" height="2.5" fill="#a8a8dc" opacity="0.10"/><rect x="62.8" y="95.7" width="3" height="3" fill="#f09aa2" opacity="0.12"/><rect x="36.6" y="62.7" width="3" height="3" fill="#f09aa2" opacity="0.13"/><rect x="168.1" y="134.0" width="2.5" height="2.5" fill="#a8a8dc" opacity="0.12"/><rect x="159.7" y="115.2" width="2.5" height="2.5" fill="#a8a8dc" opacity="0.17"/><rect x="128.0" y="21.3" width="3" height="3" fill="#f09aa2" opacity="0.09"/><rect x="171.3" y="101.1" width="2.5" height="2.5" fill="#a8a8dc" opacity="0.12"/><rect x="89.7" y="82.2" width="3" height="3" fill="#f09aa2" opacity="0.11"/><rect x="88.6" y="10.4" width="3" height="3" fill="#f09aa2" opacity="0.11"/><rect x="41.4" y="32.2" width="3" height="3" fill="#f09aa2" opacity="0.11"/><rect x="76.3" y="87.3" width="3" height="3" fill="#f09aa2" opacity="0.13"/><rect x="153.0" y="107.9" width="2.5" height="2.5" fill="#a8a8dc" opacity="0.14"/><rect x="168.0" y="155.5" width="2.5" height="2.5" fill="#a8a8dc" opacity="0.11"/><rect x="151.3" y="124.5" width="2.5" height="2.5" fill="#a8a8dc" opacity="0.18"/><rect x="88.1" y="95.1" width="3" height="3" fill="#f09aa2" opacity="0.08"/><rect x="108.2" y="66.6" width="3" height="3" fill="#f09aa2" opacity="0.10"/><rect x="87.9" y="30.6" width="3" height="3" fill="#f09aa2" opacity="0.18"/><rect x="103.8" y="78.8" width="3" height="3" fill="#f09aa2" opacity="0.10"/><rect x="60.3" y="19.8" width="3" height="3" fill="#f09aa2" opacity="0.11"/><rect x="145.7" y="95.2" width="2.5" height="2.5" fill="#a8a8dc" opacity="0.17"/><rect x="123.8" y="21.9" width="3" height="3" fill="#f09aa2" opacity="0.11"/><rect x="153.0" y="76.1" width="2.5" height="2.5" fill="#a8a8dc" opacity="0.11"/><rect x="73.9" y="13.1" width="3" height="3" fill="#f09aa2" opacity="0.10"/><rect x="142.3" y="43.4" width="3" height="3" fill="#f09aa2" opacity="0.09"/><rect x="126.7" y="143.9" width="2.5" height="2.5" fill="#a8a8dc" opacity="0.11"/><rect x="146.8" y="159.3" width="2.5" height="2.5" fill="#a8a8dc" opacity="0.10"/><rect x="158.3" y="145.6" width="2.5" height="2.5" fill="#a8a8dc" opacity="0.11"/><rect x="132.4" y="153.0" width="2.5" height="2.5" fill="#a8a8dc" opacity="0.11"/><rect x="149.1" y="110.4" width="2.5" height="2.5" fill="#a8a8dc" opacity="0.18"/><rect x="86.2" y="18.4" width="3" height="3" fill="#f09aa2" opacity="0.08"/><rect x="126.0" y="49.5" width="3" height="3" fill="#f09aa2" opacity="0.08"/><rect x="84.9" y="24.0" width="3" height="3" fill="#f09aa2" opacity="0.10"/><rect x="119.4" y="111.7" width="2.5" height="2.5" fill="#a8a8dc" opacity="0.14"/><rect x="184.0" y="80.0" width="2.5" height="2.5" fill="#a8a8dc" opacity="0.11"/><rect x="69.4" y="127.1" width="3" height="3" fill="#f09aa2" opacity="0.08"/><rect x="55.0" y="18.9" width="3" height="3" fill="#f09aa2" opacity="0.13"/><rect x="90.4" y="32.7" width="3" height="3" fill="#f09aa2" opacity="0.17"/><rect x="51.0" y="123.5" width="3" height="3" fill="#f09aa2" opacity="0.08"/><rect x="43.7" y="97.2" width="3" height="3" fill="#f09aa2" opacity="0.13"/><rect x="179.1" y="107.0" width="2.5" height="2.5" fill="#a8a8dc" opacity="0.12"/><rect x="74.6" y="77.0" width="3" height="3" fill="#f09aa2" opacity="0.10"/><rect x="150.7" y="109.4" width="2.5" height="2.5" fill="#a8a8dc" opacity="0.22"/><rect x="67.6" y="98.1" width="3" height="3" fill="#f09aa2" opacity="0.13"/><rect x="149.5" y="137.5" width="2.5" height="2.5" fill="#a8a8dc" opacity="0.13"/><rect x="103.8" y="99.6" width="2.5" height="2.5" fill="#a8a8dc" opacity="0.10"/><rect x="166.7" y="164.2" width="2.5" height="2.5" fill="#a8a8dc" opacity="0.10"/><rect x="57.6" y="124.0" width="3" height="3" fill="#f09aa2" opacity="0.08"/><rect x="139.0" y="23.5" width="3" height="3" fill="#f09aa2" opacity="0.11"/><rect x="69.9" y="76.4" width="3" height="3" fill="#f09aa2" opacity="0.08"/><rect x="109.1" y="30.6" width="3" height="3" fill="#f09aa2" opacity="0.10"/><rect x="111.1" y="27.0" width="3" height="3" fill="#f09aa2" opacity="0.12"/><rect x="169.6" y="123.2" width="2.5" height="2.5" fill="#a8a8dc" opacity="0.12"/><rect x="75.0" y="20.2" width="3" height="3" fill="#f09aa2" opacity="0.13"/><rect x="96.9" y="96.1" width="3" height="3" fill="#f09aa2" opacity="0.08"/><rect x="139.8" y="111.1" width="2.5" height="2.5" fill="#a8a8dc" opacity="0.15"/><rect x="144.3" y="71.6" width="3" height="3" fill="#f09aa2" opacity="0.09"/><rect x="93.5" y="73.3" width="3" height="3" fill="#f09aa2" opacity="0.18"/><rect x="73.5" y="104.5" width="3" height="3" fill="#f09aa2" opacity="0.09"/><rect x="154.4" y="150.8" width="2.5" height="2.5" fill="#a8a8dc" opacity="0.14"/><rect x="165.1" y="88.8" width="2.5" height="2.5" fill="#a8a8dc" opacity="0.16"/><rect x="115.0" y="104.8" width="2.5" height="2.5" fill="#a8a8dc" opacity="0.12"/><rect x="117.6" y="44.2" width="3" height="3" fill="#f09aa2" opacity="0.10"/><rect x="114.4" y="83.6" width="3" height="3" fill="#f09aa2" opacity="0.09"/><rect x="176.4" y="91.7" width="2.5" height="2.5" fill="#a8a8dc" opacity="0.13"/><rect x="158.9" y="46.6" width="3" height="3" fill="#f09aa2" opacity="0.09"/><rect x="159.6" y="28.6" width="3" height="3" fill="#f09aa2" opacity="0.08"/></g>
<rect x="98.5" y="9.5" width="1.5" height="90" fill="#f2b8bc" opacity="0.1"/>
<ellipse cx="59" cy="160" rx="22" ry="27" fill="url(#lmRed1)"/>
<ellipse cx="139" cy="10" rx="18" ry="10.5" fill="url(#lmRed2)"/>
</g>
<rect x="168" y="160.5" width="16" height="1.6" fill="#222"/>
<g clip-path="url(#rmClip)">
<rect x="180" y="1" width="171" height="173" fill="#fcfcfe"/>
<g filter="url(#blurM)"><path d="M219.1 19.4L220.4 19.3L221.6 19.5L222.8 19.9L222.9 19.9L224.2 20.8L224.6 21.1L225.4 22.1L225.8 22.4L226.7 23.6L226.8 23.7L227.9 25.0L228.0 25.2L229.2 26.3L229.3 26.4L230.5 27.5L230.6 27.6L230.8 28.9L230.5 29.0L229.3 29.3L228.0 29.3L226.7 29.3L225.4 29.3L224.2 29.4L222.9 29.5L221.6 29.4L220.4 29.2L219.4 28.9L219.1 28.8L217.8 27.9L217.6 27.6L216.9 26.3L216.5 25.3L216.5 25.0L216.4 23.7L216.5 22.4L216.5 22.2L217.0 21.1L217.8 20.1L218.2 19.9ZM215.3 55.9L216.5 55.2L217.8 54.9L219.1 55.1L220.4 55.6L220.8 55.9L221.6 57.0L221.8 57.2L222.3 58.5L222.6 59.8L222.7 61.1L222.7 62.4L222.8 63.7L222.9 65.0L222.9 65.5L223.0 66.2L223.0 67.5L223.0 68.8L222.9 69.3L222.7 70.1L221.7 71.4L221.6 71.4L220.4 71.8L219.1 71.9L217.8 72.0L216.5 72.3L215.3 72.6L214.6 72.7L214.0 72.8L213.5 72.7L212.7 72.5L211.8 71.4L211.5 70.5L211.4 70.1L211.2 68.8L211.0 67.5L211.0 66.2L211.1 65.0L211.2 63.7L211.5 62.4L211.5 62.4L211.9 61.1L212.4 59.8L212.7 59.1L213.0 58.5L213.9 57.2L214.0 57.1L215.2 55.9ZM273.8 65.5L275.0 65.1L276.3 65.2L277.6 65.7L278.4 66.2L278.9 66.5L280.1 67.5L280.1 67.6L281.2 68.8L281.4 69.1L281.9 70.1L282.0 71.4L281.4 72.6L281.4 72.7L280.1 73.6L279.6 74.0L278.9 74.4L277.6 75.0L277.0 75.3L276.3 75.6L275.0 76.2L274.5 76.5L273.8 76.9L272.5 77.6L272.0 77.8L271.2 78.1L270.0 78.3L268.7 78.0L268.4 77.8L267.4 77.0L267.1 76.5L266.5 75.3L266.3 74.0L266.5 72.7L267.1 71.4L267.4 71.0L268.2 70.1L268.7 69.7L269.6 68.8L270.0 68.5L271.0 67.5L271.2 67.3L272.5 66.3L272.5 66.2ZM256.0 104.9L257.2 104.8L258.5 104.8L259.8 104.9L260.1 104.9L261.0 105.1L262.3 105.9L262.6 106.2L262.6 107.5L262.3 108.8L262.3 108.8L262.0 110.0L261.8 111.3L262.2 112.6L262.3 112.8L263.1 113.9L263.6 114.6L264.1 115.2L264.7 116.5L264.3 117.8L263.6 118.2L262.3 118.9L262.0 119.1L261.0 119.3L259.8 119.6L258.5 120.0L257.3 120.4L257.2 120.4L256.0 120.6L254.7 121.0L253.4 121.4L252.7 121.6L252.1 121.7L250.9 121.9L249.6 121.9L248.3 121.7L248.0 121.6L247.1 121.3L245.8 120.9L244.6 120.4L244.5 120.3L243.2 119.2L243.2 119.1L242.7 117.8L242.7 116.5L243.2 115.8L244.5 116.3L244.7 116.5L245.8 117.3L246.8 117.8L247.1 118.0L248.3 118.6L249.6 118.9L250.9 118.9L252.1 118.7L253.4 118.2L254.0 117.8L254.7 117.2L255.3 116.5L256.0 115.4L256.1 115.2L256.6 113.9L256.9 112.6L256.8 111.3L256.3 110.0L256.0 109.6L255.4 108.8L254.7 107.8L254.4 107.5L253.5 106.2L254.7 105.0L255.3 104.9ZM285.2 104.9L285.4 104.9L286.5 105.4L287.2 106.2L287.1 107.5L286.5 108.2L285.2 108.1L284.2 107.5L283.9 107.2L283.3 106.2L283.9 105.4L285.0 104.9ZM281.4 116.1L282.7 115.7L283.9 115.4L285.2 115.4L286.5 116.3L286.6 116.5L287.1 117.8L287.4 119.1L287.7 120.4L287.8 120.8L287.9 121.6L287.9 122.9L287.8 124.2L287.8 124.5L287.5 125.5L286.7 126.8L286.5 127.0L285.2 128.0L285.1 128.1L283.9 128.6L282.7 129.1L281.8 129.4L281.4 129.5L280.1 129.7L278.9 129.8L277.6 129.7L276.5 129.4L276.3 129.3L275.0 128.4L274.8 128.1L274.2 126.8L273.9 125.5L273.9 124.2L274.2 122.9L274.9 121.6L275.0 121.4L275.8 120.4L276.3 119.7L277.0 119.1L277.6 118.4L278.4 117.8L278.9 117.4L280.1 116.7L280.6 116.5ZM212.7 126.8L213.0 126.8L214.0 127.0L215.3 127.4L216.3 128.1L216.5 128.3L217.4 129.4L217.8 130.2L218.0 130.7L218.2 132.0L218.3 133.2L218.3 134.5L218.1 135.8L217.9 137.1L217.8 137.6L217.6 138.4L216.9 139.7L216.5 140.1L215.7 141.0L215.3 141.3L214.0 142.1L213.5 142.3L212.7 142.5L211.5 142.7L210.2 142.4L210.0 142.3L208.9 141.0L208.9 141.0L208.5 139.7L208.2 138.4L208.1 137.1L207.9 135.8L207.8 134.5L207.6 133.4L207.6 133.2L207.6 132.0L207.6 131.1L207.7 130.7L208.1 129.4L208.9 128.1L209.0 128.1L210.2 127.3L211.5 126.9L212.3 126.8ZM300.5 159.0L301.7 158.9L303.0 158.9L304.3 159.0L304.3 159.0L305.6 159.4L306.8 159.9L307.8 160.3L308.1 160.5L309.4 161.2L310.1 161.6L310.6 162.7L310.7 162.9L310.6 163.0L309.8 164.2L309.4 164.6L308.5 165.4L308.1 166.0L307.5 166.7L307.1 168.0L306.8 168.0L305.6 168.0L304.3 168.0L303.0 168.0L301.7 168.0L300.5 168.0L299.2 168.0L297.9 168.0L296.7 168.0L295.4 168.0L294.1 168.0L293.7 168.0L292.9 166.7L292.8 166.7L291.6 165.4L291.6 165.4L290.6 164.2L290.3 163.6L290.1 162.9L290.3 161.9L290.4 161.6L291.6 160.8L292.5 160.3L292.8 160.2L294.1 159.9L295.4 159.8L296.7 159.6L297.9 159.4L299.2 159.2L300.3 159.0Z" fill="#2a389c" fill-rule="evenodd"/><path d="M217.8 16.7L219.1 16.4L220.4 16.3L221.6 16.3L222.9 16.4L224.2 16.7L225.3 17.3L225.4 17.3L226.7 18.2L227.2 18.6L228.0 19.2L228.8 19.9L229.3 20.2L230.5 21.0L230.8 21.1L231.8 21.7L233.1 22.3L233.4 22.4L234.3 22.9L235.6 23.7L235.7 23.7L236.9 24.8L237.1 25.0L237.6 26.3L237.7 27.6L237.6 28.9L237.2 30.2L236.9 30.9L236.6 31.5L235.6 32.7L235.6 32.7L234.3 33.6L233.1 34.0L232.7 34.0L231.8 34.1L231.3 34.0L230.5 34.0L229.3 33.7L228.0 33.5L226.7 33.2L225.4 33.0L224.2 32.9L222.9 32.7L222.8 32.7L221.6 32.6L220.4 32.4L219.1 32.1L217.8 31.5L217.7 31.5L216.5 30.5L216.3 30.2L215.5 28.9L215.3 28.4L215.0 27.6L214.8 26.3L214.7 25.0L214.6 23.7L214.6 22.4L214.8 21.1L215.0 19.9L215.3 19.1L215.5 18.6L216.5 17.4L216.7 17.3ZM218.2 19.9L217.8 20.1L217.0 21.1L216.5 22.2L216.5 22.4L216.4 23.7L216.5 25.0L216.5 25.3L216.9 26.3L217.6 27.6L217.8 27.9L219.1 28.8L219.4 28.9L220.4 29.2L221.6 29.4L222.9 29.5L224.2 29.4L225.4 29.3L226.7 29.3L228.0 29.3L229.3 29.3L230.5 29.0L230.8 28.9L230.6 27.6L230.5 27.5L229.3 26.4L229.2 26.3L228.0 25.2L227.9 25.0L226.8 23.7L226.7 23.6L225.8 22.4L225.4 22.1L224.6 21.1L224.2 20.8L222.9 19.9L222.8 19.9L221.6 19.5L220.4 19.3L219.1 19.4ZM329.7 18.4L330.0 18.6L331.0 19.7L331.0 19.9L331.1 21.1L331.0 21.7L330.7 22.4L329.7 23.4L328.6 23.7L328.4 23.7L328.4 23.7L327.2 22.9L326.9 22.4L327.1 21.1L327.2 21.0L327.9 19.9L328.4 19.1L329.4 18.6ZM248.3 21.1L249.6 20.8L250.9 20.6L252.1 20.4L253.4 20.3L254.7 20.3L256.0 20.6L257.0 21.1L257.2 21.4L257.7 22.4L257.7 23.7L257.2 24.8L257.1 25.0L256.0 25.8L254.7 26.2L253.8 26.3L253.4 26.3L253.0 26.3L252.1 26.2L250.9 26.1L249.6 25.8L248.3 25.4L247.1 25.0L247.1 25.0L245.8 24.0L245.5 23.7L245.8 22.7L245.9 22.4L247.1 21.7L248.2 21.1ZM300.5 28.8L301.7 28.7L302.4 28.9L303.0 29.7L303.1 30.2L303.0 30.3L301.7 31.1L301.1 31.5L300.5 31.7L299.2 32.7L299.2 32.8L298.3 34.0L297.9 34.9L297.7 35.3L297.2 36.6L296.7 37.8L296.6 37.9L295.6 39.2L295.4 39.4L294.1 39.9L292.8 39.4L292.7 39.2L291.9 37.9L291.6 37.2L291.4 36.6L291.1 35.3L290.9 34.0L290.9 32.7L291.5 31.5L291.6 31.4L292.8 30.5L294.0 30.2L294.1 30.1L295.4 30.0L296.7 30.0L297.9 29.8L299.2 29.4L300.3 28.9ZM271.2 43.1L271.3 44.3L271.2 45.6L271.2 45.6L270.0 45.6L270.0 45.6L270.0 45.6L270.1 44.3ZM257.2 49.1L258.5 49.0L259.8 49.3L260.2 49.5L260.9 50.8L260.6 52.1L259.8 52.9L258.9 53.4L258.5 53.5L257.2 53.4L257.1 53.4L256.0 52.3L255.8 52.1L255.6 50.8L256.0 50.1L256.5 49.5ZM216.5 52.0L217.8 51.8L219.1 51.7L220.4 51.9L221.2 52.1L221.6 52.2L222.9 52.7L224.1 53.4L224.2 53.4L225.4 54.4L225.9 54.6L226.7 55.3L227.7 55.9L228.0 56.1L229.3 56.8L230.3 57.2L230.5 57.3L231.8 58.3L232.0 58.5L232.5 59.8L232.5 61.1L232.2 62.4L231.8 63.6L231.8 63.7L231.0 65.0L230.5 65.8L230.3 66.2L229.6 67.5L229.3 68.3L229.0 68.8L228.6 70.1L228.3 71.4L228.1 72.7L228.0 73.4L227.9 74.0L227.7 75.3L227.4 76.5L227.1 77.8L226.7 79.1L226.7 79.1L225.4 80.4L225.2 80.4L224.2 80.4L224.1 80.4L222.9 79.9L221.8 79.1L221.6 79.0L220.4 78.2L219.7 77.8L219.1 77.5L217.8 77.3L216.5 77.5L215.7 77.8L215.3 78.0L214.0 78.8L213.5 79.1L212.7 79.6L211.5 80.1L210.2 80.2L208.9 79.4L208.7 79.1L208.1 77.8L208.0 76.5L208.0 75.3L208.1 74.0L208.1 72.7L208.2 71.4L208.2 70.1L208.2 68.8L208.2 67.5L208.1 66.2L208.2 65.0L208.2 63.7L208.4 62.4L208.6 61.1L208.9 60.0L209.0 59.8L209.4 58.5L210.1 57.2L210.2 57.0L210.9 55.9L211.5 55.2L212.0 54.6L212.7 54.0L213.6 53.4L214.0 53.1L215.3 52.5L216.4 52.1ZM215.2 55.9L214.0 57.1L213.9 57.2L213.0 58.5L212.7 59.1L212.4 59.8L211.9 61.1L211.5 62.4L211.5 62.4L211.2 63.7L211.1 65.0L211.0 66.2L211.0 67.5L211.2 68.8L211.4 70.1L211.5 70.5L211.8 71.4L212.7 72.5L213.5 72.7L214.0 72.8L214.6 72.7L215.3 72.6L216.5 72.3L217.8 72.0L219.1 71.9L220.4 71.8L221.6 71.4L221.7 71.4L222.7 70.1L222.9 69.3L223.0 68.8L223.0 67.5L223.0 66.2L222.9 65.5L222.9 65.0L222.8 63.7L222.7 62.4L222.7 61.1L222.6 59.8L222.3 58.5L221.8 57.2L221.6 57.0L220.8 55.9L220.4 55.6L219.1 55.1L217.8 54.9L216.5 55.2L215.3 55.9ZM273.8 59.2L275.0 58.8L276.3 58.8L277.6 59.1L278.9 59.8L278.9 59.8L280.1 60.9L280.3 61.1L281.3 62.4L281.4 62.5L282.2 63.7L282.7 64.1L283.3 65.0L283.9 65.7L284.4 66.2L285.2 67.4L285.3 67.5L286.0 68.8L286.4 70.1L286.5 70.3L286.6 71.4L286.5 72.7L286.5 72.8L286.0 74.0L285.2 75.0L285.0 75.3L283.9 76.0L283.1 76.5L282.7 76.8L281.4 77.5L280.9 77.8L280.1 78.3L279.0 79.1L278.9 79.2L277.7 80.4L277.6 80.5L276.5 81.7L276.3 81.9L275.0 82.6L273.8 82.9L272.5 82.9L271.2 82.7L270.0 82.4L268.7 82.1L267.7 81.7L267.4 81.6L266.1 80.7L265.9 80.4L265.1 79.1L264.9 78.7L264.6 77.8L264.2 76.5L263.8 75.3L263.6 74.1L263.6 74.0L263.5 72.7L263.6 72.1L263.7 71.4L264.4 70.1L264.9 69.5L265.5 68.8L266.1 68.1L266.7 67.5L267.4 66.8L267.9 66.2L268.7 65.3L269.0 65.0L270.0 63.7L270.0 63.7L270.9 62.4L271.2 61.9L271.9 61.1L272.5 60.3L273.1 59.8ZM272.5 66.2L272.5 66.3L271.2 67.3L271.0 67.5L270.0 68.5L269.6 68.8L268.7 69.7L268.2 70.1L267.4 71.0L267.1 71.4L266.5 72.7L266.3 74.0L266.5 75.3L267.1 76.5L267.4 77.0L268.4 77.8L268.7 78.0L270.0 78.3L271.2 78.1L272.0 77.8L272.5 77.6L273.8 76.9L274.5 76.5L275.0 76.2L276.3 75.6L277.0 75.3L277.6 75.0L278.9 74.4L279.6 74.0L280.1 73.6L281.4 72.7L281.4 72.6L282.0 71.4L281.9 70.1L281.4 69.1L281.2 68.8L280.1 67.6L280.1 67.5L278.9 66.5L278.4 66.2L277.6 65.7L276.3 65.2L275.0 65.1L273.8 65.5ZM338.6 69.9L339.9 69.8L341.2 70.0L341.6 70.1L342.4 70.3L343.7 70.6L345.0 70.8L345.0 71.4L345.0 72.7L345.0 74.0L345.0 75.3L345.0 76.5L345.0 77.8L345.0 79.1L345.0 80.4L345.0 81.7L345.0 81.9L343.7 82.0L342.4 82.1L341.2 82.2L339.9 82.2L338.6 82.2L337.3 82.0L336.3 81.7L336.1 81.6L334.8 80.6L334.6 80.4L334.0 79.1L333.8 77.8L333.8 76.5L334.1 75.3L334.6 74.0L334.8 73.6L335.4 72.7L336.1 71.7L336.4 71.4L337.3 70.5L338.3 70.1ZM297.9 85.4L299.2 85.2L300.5 85.4L300.8 85.6L301.7 86.2L302.6 86.9L302.4 88.1L301.7 88.7L300.5 89.4L300.5 89.4L299.2 89.7L298.0 89.4L297.9 89.4L297.0 88.1L296.9 86.9L297.7 85.6ZM188.6 86.8L189.8 86.6L191.1 86.6L192.4 86.6L193.5 86.9L193.7 86.9L194.9 88.1L194.7 89.4L193.7 90.3L192.6 90.7L192.4 90.8L191.1 90.8L189.8 90.8L189.6 90.7L188.6 90.5L187.3 90.2L186.0 90.1L186.0 89.4L186.0 88.1L186.0 87.2L187.3 87.0L187.9 86.9ZM263.6 100.8L264.9 100.7L265.9 101.0L266.1 101.1L267.4 102.1L267.7 102.3L268.7 103.1L269.6 103.6L270.0 103.9L271.2 104.4L272.5 104.6L273.8 104.7L275.0 104.5L276.3 104.2L277.6 103.6L277.6 103.6L278.9 103.1L280.1 102.4L280.3 102.3L281.4 101.8L282.7 101.2L283.3 101.0L283.9 100.8L285.2 100.5L286.5 100.4L287.8 100.4L289.0 100.6L290.3 100.9L290.5 101.0L291.6 101.7L292.1 102.3L292.8 103.6L292.8 104.2L292.9 104.9L292.8 105.4L292.8 106.2L292.5 107.5L292.1 108.8L291.8 110.0L291.6 111.3L291.6 111.3L291.3 112.6L291.2 113.9L291.1 115.2L291.1 116.5L291.2 117.8L291.4 119.1L291.6 119.6L291.8 120.4L292.5 121.6L292.8 122.0L293.9 122.9L294.1 123.0L295.4 123.7L296.3 124.2L296.7 124.4L297.9 125.3L298.2 125.5L299.1 126.8L299.2 126.9L299.7 128.1L300.2 129.4L300.5 130.1L300.7 130.7L301.2 132.0L301.7 133.0L301.9 133.2L302.8 134.5L303.0 134.9L303.7 135.8L304.3 136.6L304.6 137.1L305.4 138.4L305.6 138.8L305.9 139.7L306.2 141.0L306.3 142.3L306.0 143.5L305.6 144.5L305.3 144.8L304.3 145.9L303.6 146.1L303.0 146.4L301.7 146.2L301.5 146.1L300.5 145.7L299.2 145.2L298.3 144.8L297.9 144.7L296.7 144.3L295.4 144.0L294.1 143.7L293.3 143.5L292.8 143.4L291.6 142.6L291.1 142.3L290.7 141.0L291.0 139.7L291.4 138.4L291.6 137.7L291.7 137.1L291.7 135.8L291.6 135.4L291.3 134.5L290.6 133.2L290.3 132.8L289.3 132.0L289.0 131.7L287.8 131.3L286.5 131.3L285.2 131.3L283.9 131.5L282.7 131.6L281.4 131.8L280.1 131.9L279.4 132.0L278.9 132.0L277.6 132.0L277.3 132.0L276.3 131.8L275.0 131.4L274.0 130.7L273.8 130.5L272.9 129.4L272.5 128.6L272.3 128.1L271.8 126.8L271.4 125.5L271.2 124.9L270.9 124.2L270.2 122.9L270.0 122.6L268.7 121.8L268.2 121.6L267.4 121.5L266.1 121.4L264.9 121.5L263.7 121.6L263.6 121.7L262.3 121.9L261.0 122.2L259.8 122.7L259.2 122.9L258.5 123.3L257.2 123.9L256.7 124.2L256.0 124.6L254.7 125.3L254.1 125.5L253.4 125.8L252.1 126.2L250.9 126.3L249.6 126.2L248.3 125.8L247.6 125.5L247.1 125.3L245.8 124.7L244.8 124.2L244.5 124.1L243.2 123.4L242.6 122.9L242.0 122.5L241.1 121.6L240.7 121.2L240.2 120.4L239.7 119.1L239.4 118.3L239.3 117.8L239.1 116.5L238.9 115.2L238.9 113.9L238.9 112.6L239.0 111.3L239.3 110.0L239.4 109.8L239.9 108.8L240.7 107.5L240.7 107.5L241.8 106.2L242.0 106.0L243.0 104.9L243.2 104.6L244.2 103.6L244.5 103.4L245.8 102.7L246.8 102.3L247.1 102.2L248.3 102.1L249.6 102.0L250.9 102.1L252.1 102.2L253.4 102.3L253.9 102.3L254.7 102.4L256.0 102.5L257.2 102.5L258.5 102.3L258.5 102.3L259.8 102.1L261.0 101.7L262.3 101.3L263.0 101.0ZM255.3 104.9L254.7 105.0L253.5 106.2L254.4 107.5L254.7 107.8L255.4 108.8L256.0 109.6L256.3 110.0L256.8 111.3L256.9 112.6L256.6 113.9L256.1 115.2L256.0 115.4L255.3 116.5L254.7 117.2L254.0 117.8L253.4 118.2L252.1 118.7L250.9 118.9L249.6 118.9L248.3 118.6L247.1 118.0L246.8 117.8L245.8 117.3L244.7 116.5L244.5 116.3L243.2 115.8L242.7 116.5L242.7 117.8L243.2 119.1L243.2 119.2L244.5 120.3L244.6 120.4L245.8 120.9L247.1 121.3L248.0 121.6L248.3 121.7L249.6 121.9L250.9 121.9L252.1 121.7L252.7 121.6L253.4 121.4L254.7 121.0L256.0 120.6L257.2 120.4L257.3 120.4L258.5 120.0L259.8 119.6L261.0 119.3L262.0 119.1L262.3 118.9L263.6 118.2L264.3 117.8L264.7 116.5L264.1 115.2L263.6 114.6L263.1 113.9L262.3 112.8L262.2 112.6L261.8 111.3L262.0 110.0L262.3 108.8L262.3 108.8L262.6 107.5L262.6 106.2L262.3 105.9L261.0 105.1L260.1 104.9L259.8 104.9L258.5 104.8L257.2 104.8L256.0 104.9ZM285.0 104.9L283.9 105.4L283.3 106.2L283.9 107.2L284.2 107.5L285.2 108.1L286.5 108.2L287.1 107.5L287.2 106.2L286.5 105.4L285.4 104.9L285.2 104.9ZM246.8 110.0L246.4 111.3L246.8 112.6L247.1 112.9L248.0 113.9L248.3 114.2L249.6 114.6L250.9 114.5L251.8 113.9L252.1 113.5L252.6 112.6L252.5 111.3L252.1 110.8L251.5 110.0L250.9 109.6L249.6 109.1L248.3 109.1L247.1 109.7ZM280.6 116.5L280.1 116.7L278.9 117.4L278.4 117.8L277.6 118.4L277.0 119.1L276.3 119.7L275.8 120.4L275.0 121.4L274.9 121.6L274.2 122.9L273.9 124.2L273.9 125.5L274.2 126.8L274.8 128.1L275.0 128.4L276.3 129.3L276.5 129.4L277.6 129.7L278.9 129.8L280.1 129.7L281.4 129.5L281.8 129.4L282.7 129.1L283.9 128.6L285.1 128.1L285.2 128.0L286.5 127.0L286.7 126.8L287.5 125.5L287.8 124.5L287.8 124.2L287.9 122.9L287.9 121.6L287.8 120.8L287.7 120.4L287.4 119.1L287.1 117.8L286.6 116.5L286.5 116.3L285.2 115.4L283.9 115.4L282.7 115.7L281.4 116.1ZM201.3 103.3L202.6 102.9L203.8 102.6L205.1 102.4L206.4 102.6L207.3 103.6L207.2 104.9L206.7 106.2L206.4 106.7L206.0 107.5L205.3 108.8L205.1 109.0L204.4 110.0L203.8 110.7L203.1 111.3L202.6 111.7L201.3 112.1L200.0 112.1L198.7 111.9L197.5 111.5L197.0 111.3L196.2 110.8L195.1 110.0L194.9 109.8L193.9 108.8L193.7 107.5L194.7 106.2L194.9 106.1L196.2 105.3L196.9 104.9L197.5 104.6L198.7 104.1L200.0 103.7L200.2 103.6ZM187.3 107.3L187.7 107.5L187.3 107.9L186.0 108.7L186.0 107.5L186.0 107.1ZM208.9 125.1L210.2 124.6L211.5 124.3L212.7 124.2L214.0 124.3L215.3 124.6L216.5 125.0L217.5 125.5L217.8 125.7L219.1 126.6L219.3 126.8L220.2 128.1L220.4 128.4L220.7 129.4L221.0 130.7L221.1 132.0L221.1 133.2L221.1 134.5L221.0 135.8L221.0 137.1L220.8 138.4L220.5 139.7L220.4 140.0L219.8 141.0L219.1 141.8L218.6 142.3L217.8 142.8L216.7 143.5L216.5 143.6L215.3 144.2L214.0 144.8L214.0 144.9L212.7 145.3L211.5 145.7L210.2 145.8L208.9 145.4L208.1 144.8L207.6 144.5L206.8 143.5L206.4 142.9L206.0 142.3L205.7 141.0L205.5 139.7L205.5 138.4L205.5 137.1L205.5 135.8L205.4 134.5L205.2 133.2L205.1 132.2L205.1 132.0L205.0 130.7L205.1 130.2L205.2 129.4L205.7 128.1L206.4 127.2L206.7 126.8L207.6 126.0L208.3 125.5ZM212.3 126.8L211.5 126.9L210.2 127.3L209.0 128.1L208.9 128.1L208.1 129.4L207.7 130.7L207.6 131.1L207.6 132.0L207.6 133.2L207.6 133.4L207.8 134.5L207.9 135.8L208.1 137.1L208.2 138.4L208.5 139.7L208.9 141.0L208.9 141.0L210.0 142.3L210.2 142.4L211.5 142.7L212.7 142.5L213.5 142.3L214.0 142.1L215.3 141.3L215.7 141.0L216.5 140.1L216.9 139.7L217.6 138.4L217.8 137.6L217.9 137.1L218.1 135.8L218.3 134.5L218.3 133.2L218.2 132.0L218.0 130.7L217.8 130.2L217.4 129.4L216.5 128.3L216.3 128.1L215.3 127.4L214.0 127.0L213.0 126.8L212.7 126.8ZM303.0 153.7L303.6 153.9L304.3 154.0L305.6 154.7L306.1 155.1L306.8 155.7L308.0 156.4L308.1 156.5L309.4 157.1L310.6 157.6L311.0 157.7L311.9 158.0L313.2 158.2L314.5 158.3L315.7 158.2L317.0 158.1L318.3 157.8L318.7 157.7L319.5 157.5L320.8 157.3L322.1 157.1L323.4 157.1L324.6 157.2L325.9 157.4L327.2 157.7L327.4 157.7L328.4 157.9L329.7 158.2L331.0 158.5L332.3 158.7L333.5 159.0L333.7 159.0L334.8 159.3L336.1 159.5L337.3 159.7L338.6 159.8L339.9 159.8L341.2 159.8L342.4 159.8L343.7 159.7L345.0 159.7L345.0 160.3L345.0 161.6L345.0 162.9L345.0 164.2L345.0 165.4L345.0 166.7L345.0 168.0L343.7 168.0L342.4 168.0L341.2 168.0L339.9 168.0L338.6 168.0L337.3 168.0L336.1 168.0L334.8 168.0L333.5 168.0L332.3 168.0L331.0 168.0L329.7 168.0L328.4 168.0L327.2 168.0L325.9 168.0L324.6 168.0L323.4 168.0L322.1 168.0L320.8 168.0L319.5 168.0L318.3 168.0L317.0 168.0L315.7 168.0L314.5 168.0L313.2 168.0L311.9 168.0L310.6 168.0L309.4 168.0L308.1 168.0L307.1 168.0L307.5 166.7L308.1 166.0L308.5 165.4L309.4 164.6L309.8 164.2L310.6 163.0L310.7 162.9L310.6 162.7L310.1 161.6L309.4 161.2L308.1 160.5L307.8 160.3L306.8 159.9L305.6 159.4L304.3 159.0L304.3 159.0L303.0 158.9L301.7 158.9L300.5 159.0L300.3 159.0L299.2 159.2L297.9 159.4L296.7 159.6L295.4 159.8L294.1 159.9L292.8 160.2L292.5 160.3L291.6 160.8L290.4 161.6L290.3 161.9L290.1 162.9L290.3 163.6L290.6 164.2L291.6 165.4L291.6 165.4L292.8 166.7L292.9 166.7L293.7 168.0L292.8 168.0L291.6 168.0L290.3 168.0L289.0 168.0L287.8 168.0L286.5 168.0L286.1 168.0L285.8 166.7L285.2 165.5L285.2 165.4L284.4 164.2L283.9 163.0L283.9 162.9L283.9 162.7L284.2 161.6L285.2 160.7L285.6 160.3L286.5 159.8L287.8 159.0L287.8 159.0L289.0 158.4L290.3 157.9L290.8 157.7L291.6 157.5L292.8 157.1L294.1 156.8L295.4 156.4L295.4 156.4L296.7 156.1L297.9 155.6L299.1 155.1L299.2 155.1L300.5 154.5L301.7 154.0L302.4 153.9ZM273.8 155.5L275.0 156.2L275.2 156.4L276.3 157.4L276.6 157.7L277.6 158.7L277.9 159.0L278.9 160.0L279.2 160.3L280.1 161.5L280.2 161.6L280.6 162.9L280.1 164.0L280.1 164.2L279.6 165.4L279.1 166.7L278.9 168.0L278.9 168.0L277.6 168.0L276.3 168.0L275.0 168.0L273.8 168.0L272.5 168.0L271.3 168.0L271.3 166.7L271.2 165.4L271.2 165.2L271.2 164.2L271.1 162.9L271.2 161.6L271.2 160.9L271.3 160.3L271.6 159.0L272.0 157.7L272.5 156.5L272.5 156.4ZM187.3 159.7L188.6 159.5L189.8 159.3L191.1 159.2L192.4 159.3L193.7 159.6L194.9 160.3L194.9 160.4L195.6 161.6L195.8 162.9L195.6 164.2L195.2 165.4L194.9 166.2L194.7 166.7L194.4 168.0L193.7 168.0L192.4 168.0L191.1 168.0L189.8 168.0L188.6 168.0L187.3 168.0L186.0 168.0L186.0 166.7L186.0 165.4L186.0 164.2L186.0 162.9L186.0 161.6L186.0 160.3L186.0 159.7Z" fill="#5260b4" fill-rule="evenodd"/><path d="M210.2 7.8L210.3 7.0L211.5 7.0L212.7 7.0L214.0 7.0L215.3 7.0L216.5 7.0L217.8 7.0L219.1 7.0L220.4 7.0L221.6 7.0L222.9 7.0L224.2 7.0L225.4 7.0L226.7 7.0L228.0 7.0L229.3 7.0L229.5 7.0L229.4 8.3L229.3 8.9L229.1 9.6L228.9 10.8L228.7 12.1L228.8 13.4L229.3 14.6L229.3 14.7L230.2 16.0L230.5 16.4L231.5 17.3L231.8 17.5L233.1 18.3L233.6 18.6L234.3 18.9L235.6 19.3L236.9 19.7L237.6 19.9L238.2 20.0L239.4 20.2L240.7 20.2L242.0 20.1L243.2 19.9L243.5 19.9L244.5 19.7L245.8 19.6L247.1 19.4L248.3 19.3L249.6 19.1L250.9 18.9L252.1 18.8L253.4 18.6L254.0 18.6L254.7 18.5L256.0 18.5L257.2 18.6L257.2 18.6L258.5 19.1L259.2 19.9L259.7 21.1L259.8 21.6L259.9 22.4L259.8 23.4L259.7 23.7L259.4 25.0L258.7 26.3L258.5 26.5L257.2 27.5L256.9 27.6L256.0 27.8L254.7 27.9L253.4 27.9L252.1 27.8L250.9 27.7L250.2 27.6L249.6 27.5L248.3 27.4L247.1 27.3L245.8 27.2L244.5 27.2L243.2 27.4L242.9 27.6L242.0 28.1L241.2 28.9L240.7 29.5L240.3 30.2L239.6 31.5L239.4 31.9L238.9 32.7L238.2 34.0L238.1 34.0L237.0 35.3L236.9 35.4L235.6 36.3L234.8 36.6L234.3 36.8L233.1 36.9L231.8 36.7L231.3 36.6L230.5 36.5L229.3 36.1L228.0 35.8L226.7 35.6L225.4 35.4L224.2 35.4L222.9 35.4L221.6 35.5L220.4 35.7L219.1 35.7L217.8 35.5L217.4 35.3L216.5 34.9L215.4 34.0L215.3 33.9L214.2 32.7L214.0 32.4L213.5 31.5L213.2 30.2L213.1 28.9L213.1 27.6L213.2 26.3L213.2 25.0L213.2 23.7L213.2 22.4L213.1 21.1L213.0 19.9L212.8 18.6L212.7 18.2L212.4 17.3L211.5 16.0L211.5 16.0L210.2 14.9L210.0 14.7L209.2 13.4L209.0 12.1L209.2 10.8L209.7 9.6L210.1 8.3ZM216.7 17.3L216.5 17.4L215.5 18.6L215.3 19.1L215.0 19.9L214.8 21.1L214.6 22.4L214.6 23.7L214.7 25.0L214.8 26.3L215.0 27.6L215.3 28.4L215.5 28.9L216.3 30.2L216.5 30.5L217.7 31.5L217.8 31.5L219.1 32.1L220.4 32.4L221.6 32.6L222.8 32.7L222.9 32.7L224.2 32.9L225.4 33.0L226.7 33.2L228.0 33.5L229.3 33.7L230.5 34.0L231.3 34.0L231.8 34.1L232.7 34.0L233.1 34.0L234.3 33.6L235.6 32.7L235.6 32.7L236.6 31.5L236.9 30.9L237.2 30.2L237.6 28.9L237.7 27.6L237.6 26.3L237.1 25.0L236.9 24.8L235.7 23.7L235.6 23.7L234.3 22.9L233.4 22.4L233.1 22.3L231.8 21.7L230.8 21.1L230.5 21.0L229.3 20.2L228.8 19.9L228.0 19.2L227.2 18.6L226.7 18.2L225.4 17.3L225.3 17.3L224.2 16.7L222.9 16.4L221.6 16.3L220.4 16.3L219.1 16.4L217.8 16.7ZM248.2 21.1L247.1 21.7L245.9 22.4L245.8 22.7L245.5 23.7L245.8 24.0L247.1 25.0L247.1 25.0L248.3 25.4L249.6 25.8L250.9 26.1L252.1 26.2L253.0 26.3L253.4 26.3L253.8 26.3L254.7 26.2L256.0 25.8L257.1 25.0L257.2 24.8L257.7 23.7L257.7 22.4L257.2 21.4L257.0 21.1L256.0 20.6L254.7 20.3L253.4 20.3L252.1 20.4L250.9 20.6L249.6 20.8L248.3 21.1ZM328.4 7.0L329.7 7.0L331.0 7.0L332.3 7.0L333.5 7.0L334.1 7.0L334.1 8.3L334.1 9.6L334.0 10.8L334.0 12.1L334.0 13.4L334.1 14.7L334.3 16.0L334.5 17.3L334.6 18.6L334.7 19.9L334.7 21.1L334.5 22.4L334.0 23.7L333.5 24.5L333.2 25.0L332.3 25.7L331.2 26.3L331.0 26.4L329.7 26.7L328.4 26.8L327.2 26.7L325.9 26.4L325.7 26.3L324.6 25.7L323.8 25.0L323.4 24.0L323.2 23.7L323.3 22.4L323.4 22.4L323.9 21.1L324.6 19.9L324.6 19.9L325.5 18.6L325.9 17.9L326.3 17.3L326.9 16.0L327.2 15.3L327.4 14.7L327.7 13.4L327.7 12.1L327.6 10.8L327.5 9.6L327.4 8.3L327.3 7.0ZM329.4 18.6L328.4 19.1L327.9 19.9L327.2 21.0L327.1 21.1L326.9 22.4L327.2 22.9L328.4 23.7L328.4 23.7L328.6 23.7L329.7 23.4L330.7 22.4L331.0 21.7L331.1 21.1L331.0 19.9L331.0 19.7L330.0 18.6L329.7 18.4ZM296.7 23.6L297.9 23.4L299.2 23.5L300.1 23.7L300.5 23.8L301.7 24.1L303.0 24.5L304.1 25.0L304.3 25.1L305.6 26.0L305.9 26.3L306.8 27.4L306.9 27.6L307.4 28.9L307.5 30.2L306.9 31.5L306.8 31.5L305.6 32.4L305.0 32.7L304.3 33.0L303.0 33.6L302.4 34.0L301.7 34.4L300.7 35.3L300.5 35.6L299.7 36.6L299.2 37.6L299.0 37.9L298.4 39.2L297.9 40.1L297.7 40.5L296.9 41.8L296.7 42.1L295.7 43.0L295.4 43.4L294.1 44.1L293.1 44.3L292.8 44.4L292.6 44.3L291.6 43.9L291.0 43.0L290.4 41.8L290.3 41.6L289.9 40.5L289.5 39.2L289.0 37.9L289.0 37.8L288.6 36.6L288.2 35.3L287.8 34.0L287.8 33.6L287.6 32.7L287.7 31.5L287.8 31.3L288.2 30.2L288.9 28.9L289.0 28.7L290.0 27.6L290.3 27.3L291.4 26.3L291.6 26.2L292.8 25.2L293.3 25.0L294.1 24.4L295.4 23.9L296.0 23.7ZM300.3 28.9L299.2 29.4L297.9 29.8L296.7 30.0L295.4 30.0L294.1 30.1L294.0 30.2L292.8 30.5L291.6 31.4L291.5 31.5L290.9 32.7L290.9 34.0L291.1 35.3L291.4 36.6L291.6 37.2L291.9 37.9L292.7 39.2L292.8 39.4L294.1 39.9L295.4 39.4L295.6 39.2L296.6 37.9L296.7 37.8L297.2 36.6L297.7 35.3L297.9 34.9L298.3 34.0L299.2 32.8L299.2 32.7L300.5 31.7L301.1 31.5L301.7 31.1L303.0 30.3L303.1 30.2L303.0 29.7L302.4 28.9L301.7 28.7L300.5 28.8ZM271.2 32.7L272.5 31.7L273.8 31.8L274.3 32.7L274.7 34.0L274.9 35.3L274.9 36.6L274.8 37.9L274.8 39.2L274.7 40.5L274.7 41.8L274.7 43.0L274.7 44.3L274.7 45.6L274.7 46.9L274.8 48.2L274.9 49.5L275.0 50.2L275.2 50.8L275.6 52.1L276.3 53.0L276.6 53.4L277.6 54.1L278.6 54.6L278.9 54.7L280.1 55.2L281.4 55.5L282.7 55.7L283.9 55.8L285.2 55.8L286.5 55.8L287.2 55.9L287.4 57.2L286.9 58.5L286.6 59.8L286.5 60.4L286.4 61.1L286.4 62.4L286.5 62.6L286.7 63.7L287.3 65.0L287.8 66.1L287.8 66.2L288.3 67.5L288.7 68.8L289.0 70.1L289.0 70.1L289.2 71.4L289.3 72.7L289.2 74.0L289.0 74.9L288.9 75.3L288.3 76.5L287.8 77.2L287.0 77.8L286.5 78.2L285.2 79.0L285.0 79.1L283.9 79.9L283.2 80.4L282.7 81.0L282.1 81.7L281.4 83.0L281.4 83.0L280.7 84.3L280.1 85.2L279.8 85.6L278.9 86.1L277.6 86.4L276.3 86.4L275.0 86.3L273.8 86.1L272.5 85.9L271.4 85.6L271.2 85.5L270.0 85.2L268.7 84.8L267.4 84.5L266.1 84.3L265.5 84.3L264.9 84.2L264.5 84.3L263.6 85.0L263.5 85.6L263.3 86.9L262.9 88.1L262.3 89.1L262.0 89.4L261.0 89.9L259.8 90.0L258.5 89.8L257.9 89.4L257.2 89.0L256.6 88.1L256.3 86.9L257.1 85.6L257.2 85.4L258.5 84.7L259.8 84.3L259.9 84.3L261.0 84.1L262.3 83.9L263.3 83.0L263.3 81.7L263.3 80.4L263.1 79.1L262.8 77.8L262.5 76.5L262.3 75.9L262.2 75.3L261.8 74.0L261.6 72.7L261.6 71.4L262.1 70.1L262.3 69.7L262.9 68.8L263.6 68.0L264.1 67.5L264.9 66.6L265.2 66.2L266.1 65.1L266.2 65.0L267.1 63.7L267.4 62.9L267.7 62.4L268.1 61.1L268.4 59.8L268.6 58.5L268.5 57.2L267.9 55.9L267.4 55.4L266.1 54.9L264.9 55.0L263.6 55.5L262.3 55.9L262.3 55.9L261.0 56.2L259.8 56.5L258.5 56.6L257.2 56.7L256.0 56.5L254.7 56.2L254.2 55.9L253.4 55.4L252.7 54.6L252.1 53.7L251.9 53.4L251.4 52.1L251.2 50.8L251.3 49.5L252.0 48.2L252.1 48.1L253.4 47.2L254.0 46.9L254.7 46.7L256.0 46.3L257.2 46.0L258.5 45.8L259.8 45.6L259.8 45.6L261.0 45.5L262.3 45.2L263.6 44.7L264.1 44.3L264.9 43.7L265.4 43.0L266.1 41.8L266.2 41.8L266.8 40.5L267.4 39.2L267.4 39.1L268.0 37.9L268.6 36.6L268.7 36.5L269.4 35.3L270.0 34.4L270.2 34.0L271.2 32.7ZM270.1 44.3L270.0 45.6L270.0 45.6L270.0 45.6L271.2 45.6L271.2 45.6L271.3 44.3L271.2 43.1ZM256.5 49.5L256.0 50.1L255.6 50.8L255.8 52.1L256.0 52.3L257.1 53.4L257.2 53.4L258.5 53.5L258.9 53.4L259.8 52.9L260.6 52.1L260.9 50.8L260.2 49.5L259.8 49.3L258.5 49.0L257.2 49.1ZM273.1 59.8L272.5 60.3L271.9 61.1L271.2 61.9L270.9 62.4L270.0 63.7L270.0 63.7L269.0 65.0L268.7 65.3L267.9 66.2L267.4 66.8L266.7 67.5L266.1 68.1L265.5 68.8L264.9 69.5L264.4 70.1L263.7 71.4L263.6 72.1L263.5 72.7L263.6 74.0L263.6 74.1L263.8 75.3L264.2 76.5L264.6 77.8L264.9 78.7L265.1 79.1L265.9 80.4L266.1 80.7L267.4 81.6L267.7 81.7L268.7 82.1L270.0 82.4L271.2 82.7L272.5 82.9L273.8 82.9L275.0 82.6L276.3 81.9L276.5 81.7L277.6 80.5L277.7 80.4L278.9 79.2L279.0 79.1L280.1 78.3L280.9 77.8L281.4 77.5L282.7 76.8L283.1 76.5L283.9 76.0L285.0 75.3L285.2 75.0L286.0 74.0L286.5 72.8L286.5 72.7L286.6 71.4L286.5 70.3L286.4 70.1L286.0 68.8L285.3 67.5L285.2 67.4L284.4 66.2L283.9 65.7L283.3 65.0L282.7 64.1L282.2 63.7L281.4 62.5L281.3 62.4L280.3 61.1L280.1 60.9L278.9 59.8L278.9 59.8L277.6 59.1L276.3 58.8L275.0 58.8L273.8 59.2ZM217.8 49.3L219.1 49.1L220.4 49.1L221.6 49.2L222.9 49.4L223.4 49.5L224.2 49.6L225.4 49.9L226.7 50.1L228.0 50.3L229.3 50.5L230.5 50.7L231.1 50.8L231.8 50.9L233.1 51.3L234.3 51.8L234.8 52.1L235.6 52.6L236.5 53.4L236.9 53.9L237.3 54.6L237.4 55.9L237.2 57.2L236.9 58.2L236.8 58.5L236.4 59.8L235.9 61.1L235.6 61.9L235.5 62.4L234.9 63.7L234.3 64.9L234.3 65.0L233.6 66.2L233.1 67.2L232.9 67.5L232.1 68.8L231.8 69.4L231.5 70.1L230.9 71.4L230.6 72.7L230.5 72.8L230.3 74.0L230.1 75.3L229.9 76.5L229.8 77.8L229.7 79.1L229.6 80.4L229.4 81.7L229.3 82.8L229.2 83.0L228.5 84.3L228.0 84.7L226.7 85.1L225.4 85.1L224.2 85.0L222.9 84.7L221.6 84.3L221.6 84.3L220.4 83.7L219.1 83.1L218.8 83.0L217.8 82.7L216.5 82.9L216.5 83.0L215.3 83.6L214.0 84.2L213.7 84.3L212.7 84.6L211.5 84.7L210.2 84.5L209.7 84.3L208.9 84.0L207.6 83.1L207.5 83.0L206.4 81.8L206.3 81.7L205.6 80.4L205.2 79.1L205.2 77.8L205.4 76.5L205.6 75.3L205.8 74.0L206.1 72.7L206.2 71.4L206.3 70.1L206.3 68.8L206.3 67.5L206.2 66.2L206.2 65.0L206.2 63.7L206.2 62.4L206.3 61.1L206.4 60.9L206.5 59.8L206.8 58.5L207.2 57.2L207.6 56.1L207.7 55.9L208.5 54.6L208.9 54.1L209.6 53.4L210.2 52.8L211.1 52.1L211.5 51.8L212.7 51.1L213.3 50.8L214.0 50.5L215.3 49.9L216.5 49.6L216.9 49.5ZM216.4 52.1L215.3 52.5L214.0 53.1L213.6 53.4L212.7 54.0L212.0 54.6L211.5 55.2L210.9 55.9L210.2 57.0L210.1 57.2L209.4 58.5L209.0 59.8L208.9 60.0L208.6 61.1L208.4 62.4L208.2 63.7L208.2 65.0L208.1 66.2L208.2 67.5L208.2 68.8L208.2 70.1L208.2 71.4L208.1 72.7L208.1 74.0L208.0 75.3L208.0 76.5L208.1 77.8L208.7 79.1L208.9 79.4L210.2 80.2L211.5 80.1L212.7 79.6L213.5 79.1L214.0 78.8L215.3 78.0L215.7 77.8L216.5 77.5L217.8 77.3L219.1 77.5L219.7 77.8L220.4 78.2L221.6 79.0L221.8 79.1L222.9 79.9L224.1 80.4L224.2 80.4L225.2 80.4L225.4 80.4L226.7 79.1L226.7 79.1L227.1 77.8L227.4 76.5L227.7 75.3L227.9 74.0L228.0 73.4L228.1 72.7L228.3 71.4L228.6 70.1L229.0 68.8L229.3 68.3L229.6 67.5L230.3 66.2L230.5 65.8L231.0 65.0L231.8 63.7L231.8 63.6L232.2 62.4L232.5 61.1L232.5 59.8L232.0 58.5L231.8 58.3L230.5 57.3L230.3 57.2L229.3 56.8L228.0 56.1L227.7 55.9L226.7 55.3L225.9 54.6L225.4 54.4L224.2 53.4L224.1 53.4L222.9 52.7L221.6 52.2L221.2 52.1L220.4 51.9L219.1 51.7L217.8 51.8L216.5 52.0ZM314.5 50.5L315.7 50.5L316.4 50.8L317.0 51.8L317.1 52.1L317.0 52.2L316.3 53.4L315.7 53.7L314.5 54.4L314.1 54.6L313.2 54.9L311.9 55.2L310.6 55.4L309.4 55.6L308.1 55.6L306.8 55.3L305.7 54.6L306.8 53.6L307.1 53.4L308.1 53.0L309.4 52.4L310.1 52.1L310.6 51.9L311.9 51.4L313.2 50.8L313.2 50.8ZM338.6 50.5L339.9 50.4L341.2 50.5L342.4 50.7L342.7 50.8L343.7 51.2L345.0 51.4L345.0 52.1L345.0 53.4L345.0 53.7L343.7 53.9L342.4 54.3L341.4 54.6L341.2 54.7L339.9 55.0L338.6 54.8L338.3 54.6L337.3 54.0L336.8 53.4L336.6 52.1L337.3 51.0L337.7 50.8ZM338.6 61.6L339.9 61.2L341.2 61.8L341.7 62.4L342.4 62.8L343.6 63.7L343.7 63.7L345.0 64.0L345.0 65.0L345.0 66.2L345.0 67.5L345.0 68.8L345.0 70.1L345.0 70.8L343.7 70.6L342.4 70.3L341.6 70.1L341.2 70.0L339.9 69.8L338.6 69.9L338.3 70.1L337.3 70.5L336.4 71.4L336.1 71.7L335.4 72.7L334.8 73.6L334.6 74.0L334.1 75.3L333.8 76.5L333.8 77.8L334.0 79.1L334.6 80.4L334.8 80.6L336.1 81.6L336.3 81.7L337.3 82.0L338.6 82.2L339.9 82.2L341.2 82.2L342.4 82.1L343.7 82.0L345.0 81.9L345.0 83.0L345.0 84.3L345.0 84.8L343.7 84.8L342.4 84.8L341.2 84.8L339.9 84.8L338.6 84.8L337.3 84.8L336.1 84.7L334.8 84.5L334.1 84.3L333.5 84.1L332.3 83.0L332.2 83.0L331.6 81.7L331.2 80.4L331.1 79.1L331.1 77.8L331.2 76.5L331.4 75.3L331.7 74.0L332.2 72.7L332.3 72.6L332.9 71.4L333.5 70.3L333.6 70.1L334.4 68.8L334.8 68.1L335.2 67.5L335.9 66.2L336.1 65.9L336.6 65.0L337.3 63.7L337.3 63.5L338.2 62.4ZM296.7 82.5L297.9 82.4L299.2 82.6L300.5 82.9L300.7 83.0L301.7 83.4L303.0 83.8L304.2 84.3L304.3 84.3L305.6 84.8L306.8 85.2L308.0 85.6L308.1 85.7L309.2 86.9L308.1 88.0L308.0 88.1L306.8 88.7L305.8 89.4L305.6 89.5L304.3 90.2L303.4 90.7L303.0 90.9L301.7 91.5L300.6 92.0L300.5 92.1L299.2 92.5L297.9 92.8L296.7 92.7L295.7 92.0L295.4 91.7L294.9 90.7L294.5 89.4L294.3 88.1L294.2 86.9L294.4 85.6L294.7 84.3L295.4 83.2L295.7 83.0ZM297.7 85.6L296.9 86.9L297.0 88.1L297.9 89.4L298.0 89.4L299.2 89.7L300.5 89.4L300.5 89.4L301.7 88.7L302.4 88.1L302.6 86.9L301.7 86.2L300.8 85.6L300.5 85.4L299.2 85.2L297.9 85.4ZM187.3 84.9L188.6 84.9L189.8 84.8L191.1 84.8L192.4 84.8L193.7 84.9L194.9 85.2L195.8 85.6L196.2 85.8L197.3 86.9L197.5 87.2L197.8 88.1L197.8 89.4L197.5 90.7L197.5 90.7L196.5 92.0L196.2 92.3L194.9 93.0L193.7 93.3L193.6 93.3L192.4 93.4L191.1 93.5L189.8 93.4L188.6 93.3L187.9 93.3L187.3 93.3L186.0 93.2L186.0 92.0L186.0 90.7L186.0 90.1L187.3 90.2L188.6 90.5L189.6 90.7L189.8 90.8L191.1 90.8L192.4 90.8L192.6 90.7L193.7 90.3L194.7 89.4L194.9 88.1L193.7 86.9L193.5 86.9L192.4 86.6L191.1 86.6L189.8 86.6L188.6 86.8L187.9 86.9L187.3 87.0L186.0 87.2L186.0 86.9L186.0 85.6L186.0 85.0ZM336.1 93.2L337.3 93.0L338.6 93.0L339.9 93.0L341.2 93.0L342.4 93.0L343.7 93.0L345.0 93.1L345.0 93.3L345.0 94.6L345.0 95.9L345.0 97.2L345.0 98.5L345.0 99.7L345.0 101.0L345.0 102.3L345.0 103.6L345.0 104.9L345.0 106.2L345.0 106.7L343.7 106.7L342.4 106.8L341.2 106.8L339.9 106.9L338.6 106.8L337.3 106.7L336.1 106.5L334.8 106.2L334.7 106.2L333.5 105.7L332.3 104.9L332.3 104.9L331.3 103.6L331.0 102.8L330.9 102.3L330.7 101.0L330.8 99.7L331.0 98.6L331.0 98.5L331.4 97.2L332.0 95.9L332.3 95.4L332.9 94.6L333.5 94.0L334.8 93.4L335.4 93.3ZM203.8 98.2L205.1 97.9L206.4 97.8L207.6 97.9L208.9 98.3L209.2 98.5L210.2 99.2L210.7 99.7L211.4 101.0L211.5 101.4L211.6 102.3L211.6 103.6L211.5 104.2L211.2 104.9L210.5 106.2L210.2 106.6L209.5 107.5L208.9 108.1L208.4 108.8L207.6 109.7L207.4 110.0L206.4 111.3L206.4 111.3L205.1 112.6L205.1 112.6L203.8 113.4L202.6 113.9L202.6 113.9L201.3 114.2L200.0 114.2L198.7 114.2L197.5 114.0L197.0 113.9L196.2 113.7L194.9 113.4L193.7 113.2L192.4 113.0L191.1 113.0L189.8 113.1L188.6 113.1L187.3 113.2L186.0 113.2L186.0 112.6L186.0 111.3L186.0 110.0L186.0 108.8L186.0 108.7L187.3 107.9L187.7 107.5L187.3 107.3L186.0 107.1L186.0 106.2L186.0 104.9L186.0 103.6L186.0 102.3L186.0 101.4L187.3 101.5L188.6 101.5L189.8 101.6L191.1 101.6L192.4 101.6L193.7 101.5L194.9 101.3L195.9 101.0L196.2 100.9L197.5 100.5L198.7 100.0L199.5 99.7L200.0 99.5L201.3 99.0L202.6 98.5L202.8 98.5ZM200.2 103.6L200.0 103.7L198.7 104.1L197.5 104.6L196.9 104.9L196.2 105.3L194.9 106.1L194.7 106.2L193.7 107.5L193.9 108.8L194.9 109.8L195.1 110.0L196.2 110.8L197.0 111.3L197.5 111.5L198.7 111.9L200.0 112.1L201.3 112.1L202.6 111.7L203.1 111.3L203.8 110.7L204.4 110.0L205.1 109.0L205.3 108.8L206.0 107.5L206.4 106.7L206.7 106.2L207.2 104.9L207.3 103.6L206.4 102.6L205.1 102.4L203.8 102.6L202.6 102.9L201.3 103.3ZM263.6 98.1L264.9 97.7L266.1 98.2L266.4 98.5L267.4 99.3L267.8 99.7L268.7 100.6L269.2 101.0L270.0 101.6L271.2 102.2L271.6 102.3L272.5 102.6L273.8 102.7L275.0 102.6L276.3 102.3L276.3 102.3L277.6 101.9L278.9 101.3L279.3 101.0L280.1 100.6L281.4 99.8L281.6 99.7L282.7 99.1L283.9 98.6L284.3 98.5L285.2 98.1L286.5 97.8L287.8 97.7L289.0 97.6L290.3 97.6L291.6 97.6L292.8 97.9L293.7 98.5L294.1 98.8L294.8 99.7L295.4 100.9L295.4 101.0L295.7 102.3L295.8 103.6L295.6 104.9L295.4 105.7L295.3 106.2L294.8 107.5L294.4 108.8L294.1 109.8L294.0 110.0L293.7 111.3L293.5 112.6L293.4 113.9L293.4 115.2L293.5 116.5L293.8 117.8L294.1 118.6L294.3 119.1L295.3 120.4L295.4 120.4L296.7 121.3L297.2 121.6L297.9 122.1L299.2 122.9L299.2 122.9L300.4 124.2L300.5 124.3L301.0 125.5L301.5 126.8L301.7 127.6L301.9 128.1L302.3 129.4L302.9 130.7L303.0 130.8L303.6 132.0L304.3 132.9L304.6 133.2L305.6 134.5L305.6 134.5L306.6 135.8L306.8 136.2L307.5 137.1L308.1 138.0L308.4 138.4L309.2 139.7L309.4 140.1L309.8 141.0L310.2 142.3L310.1 143.5L309.5 144.8L309.4 145.1L308.7 146.1L308.1 147.1L307.9 147.4L307.3 148.7L307.0 150.0L307.0 151.3L307.4 152.6L308.1 153.5L308.3 153.9L309.4 154.7L309.9 155.1L310.6 155.5L311.9 156.0L313.2 156.2L314.5 156.3L315.7 156.1L317.0 155.8L318.3 155.3L318.7 155.1L319.5 154.8L320.8 154.3L322.1 154.1L323.4 154.2L324.6 154.6L325.9 155.0L326.2 155.1L327.2 155.5L328.4 155.8L329.7 156.2L330.7 156.4L331.0 156.5L332.3 156.8L333.5 157.0L334.8 157.2L336.1 157.4L337.3 157.5L338.6 157.6L339.9 157.6L341.2 157.6L342.4 157.5L343.7 157.5L345.0 157.5L345.0 157.7L345.0 159.0L345.0 159.7L343.7 159.7L342.4 159.8L341.2 159.8L339.9 159.8L338.6 159.8L337.3 159.7L336.1 159.5L334.8 159.3L333.7 159.0L333.5 159.0L332.3 158.7L331.0 158.5L329.7 158.2L328.4 157.9L327.4 157.7L327.2 157.7L325.9 157.4L324.6 157.2L323.4 157.1L322.1 157.1L320.8 157.3L319.5 157.5L318.7 157.7L318.3 157.8L317.0 158.1L315.7 158.2L314.5 158.3L313.2 158.2L311.9 158.0L311.0 157.7L310.6 157.6L309.4 157.1L308.1 156.5L308.0 156.4L306.8 155.7L306.1 155.1L305.6 154.7L304.3 154.0L303.6 153.9L303.0 153.7L302.4 153.9L301.7 154.0L300.5 154.5L299.2 155.1L299.1 155.1L297.9 155.6L296.7 156.1L295.4 156.4L295.4 156.4L294.1 156.8L292.8 157.1L291.6 157.5L290.8 157.7L290.3 157.9L289.0 158.4L287.8 159.0L287.8 159.0L286.5 159.8L285.6 160.3L285.2 160.7L284.2 161.6L283.9 162.7L283.9 162.9L283.9 163.0L284.4 164.2L285.2 165.4L285.2 165.5L285.8 166.7L286.1 168.0L285.2 168.0L283.9 168.0L282.7 168.0L281.4 168.0L280.1 168.0L278.9 168.0L279.1 166.7L279.6 165.4L280.1 164.2L280.1 164.0L280.6 162.9L280.2 161.6L280.1 161.5L279.2 160.3L278.9 160.0L277.9 159.0L277.6 158.7L276.6 157.7L276.3 157.4L275.2 156.4L275.0 156.2L273.8 155.5L272.5 156.4L272.5 156.5L272.0 157.7L271.6 159.0L271.3 160.3L271.2 160.9L271.2 161.6L271.1 162.9L271.2 164.2L271.2 165.2L271.2 165.4L271.3 166.7L271.3 168.0L271.2 168.0L270.0 168.0L269.4 168.0L269.4 166.7L269.3 165.4L269.3 164.2L269.2 162.9L269.2 161.6L269.4 160.3L269.6 159.0L269.9 157.7L270.0 157.4L270.2 156.4L270.6 155.1L270.9 153.9L271.0 152.6L271.1 151.3L271.0 150.0L270.8 148.7L270.5 147.4L270.3 146.1L270.2 144.8L270.4 143.5L271.2 142.3L271.2 142.3L272.5 141.4L273.8 141.0L275.0 141.2L276.3 141.8L276.9 142.3L277.5 143.5L277.3 144.8L276.7 146.1L276.3 147.2L276.2 147.4L275.8 148.7L275.5 150.0L275.4 151.3L275.7 152.6L276.2 153.9L276.3 154.0L277.0 155.1L277.6 155.9L278.0 156.4L278.9 157.2L279.5 157.7L280.1 158.1L281.4 158.7L282.7 158.8L283.9 158.6L285.2 158.2L286.5 157.7L286.5 157.7L287.8 157.2L289.0 156.6L289.4 156.4L290.3 156.0L291.6 155.5L292.5 155.1L292.8 155.0L294.1 154.4L295.4 153.9L295.4 153.8L296.7 152.9L297.1 152.6L297.8 151.3L297.7 150.0L296.7 148.7L296.7 148.7L295.4 147.9L294.3 147.4L294.1 147.3L292.8 146.9L291.6 146.4L290.8 146.1L290.3 145.9L289.0 145.3L288.1 144.8L287.8 144.6L286.5 143.6L286.3 143.5L285.5 142.3L285.5 141.0L285.9 139.7L286.4 138.4L286.5 138.2L286.8 137.1L286.7 135.8L286.5 135.5L285.5 134.5L285.2 134.4L283.9 134.0L282.7 133.9L281.4 133.9L280.1 133.9L278.9 134.0L277.6 134.1L276.3 134.1L275.0 133.8L273.9 133.2L273.8 133.2L272.5 132.0L272.5 131.9L271.8 130.7L271.2 129.5L271.2 129.4L270.6 128.1L270.1 126.8L270.0 126.5L269.4 125.5L268.7 124.6L268.2 124.2L267.4 123.7L266.1 123.3L264.9 123.2L263.6 123.3L262.3 123.6L261.0 124.0L260.7 124.2L259.8 124.7L258.5 125.4L258.4 125.5L257.2 126.4L256.6 126.8L256.0 127.3L254.8 128.1L254.7 128.2L253.4 129.0L252.7 129.4L252.1 129.7L250.9 130.1L249.6 130.2L248.3 129.7L247.9 129.4L247.1 128.8L246.2 128.1L245.8 127.8L244.5 126.9L244.4 126.8L243.2 126.1L242.2 125.5L242.0 125.4L240.7 124.6L240.2 124.2L239.4 123.4L239.1 122.9L238.5 121.6L238.2 120.8L238.0 120.4L237.7 119.1L237.5 117.8L237.3 116.5L237.1 115.2L236.9 113.9L236.9 113.9L236.7 112.6L236.7 111.3L236.7 110.0L236.8 108.8L236.9 108.0L237.0 107.5L237.4 106.2L237.9 104.9L238.2 104.4L238.6 103.6L239.4 102.5L239.6 102.3L240.7 101.4L241.5 101.0L242.0 100.9L243.2 100.6L244.5 100.4L245.8 100.3L247.1 100.3L248.3 100.4L249.6 100.5L250.9 100.7L252.1 100.8L253.4 101.0L253.9 101.0L254.7 101.1L256.0 101.2L257.2 101.1L257.7 101.0L258.5 100.9L259.8 100.5L261.0 99.8L261.2 99.7L262.3 99.0L263.1 98.5ZM263.0 101.0L262.3 101.3L261.0 101.7L259.8 102.1L258.5 102.3L258.5 102.3L257.2 102.5L256.0 102.5L254.7 102.4L253.9 102.3L253.4 102.3L252.1 102.2L250.9 102.1L249.6 102.0L248.3 102.1L247.1 102.2L246.8 102.3L245.8 102.7L244.5 103.4L244.2 103.6L243.2 104.6L243.0 104.9L242.0 106.0L241.8 106.2L240.7 107.5L240.7 107.5L239.9 108.8L239.4 109.8L239.3 110.0L239.0 111.3L238.9 112.6L238.9 113.9L238.9 115.2L239.1 116.5L239.3 117.8L239.4 118.3L239.7 119.1L240.2 120.4L240.7 121.2L241.1 121.6L242.0 122.5L242.6 122.9L243.2 123.4L244.5 124.1L244.8 124.2L245.8 124.7L247.1 125.3L247.6 125.5L248.3 125.8L249.6 126.2L250.9 126.3L252.1 126.2L253.4 125.8L254.1 125.5L254.7 125.3L256.0 124.6L256.7 124.2L257.2 123.9L258.5 123.3L259.2 122.9L259.8 122.7L261.0 122.2L262.3 121.9L263.6 121.7L263.7 121.6L264.9 121.5L266.1 121.4L267.4 121.5L268.2 121.6L268.7 121.8L270.0 122.6L270.2 122.9L270.9 124.2L271.2 124.9L271.4 125.5L271.8 126.8L272.3 128.1L272.5 128.6L272.9 129.4L273.8 130.5L274.0 130.7L275.0 131.4L276.3 131.8L277.3 132.0L277.6 132.0L278.9 132.0L279.4 132.0L280.1 131.9L281.4 131.8L282.7 131.6L283.9 131.5L285.2 131.3L286.5 131.3L287.8 131.3L289.0 131.7L289.3 132.0L290.3 132.8L290.6 133.2L291.3 134.5L291.6 135.4L291.7 135.8L291.7 137.1L291.6 137.7L291.4 138.4L291.0 139.7L290.7 141.0L291.1 142.3L291.6 142.6L292.8 143.4L293.3 143.5L294.1 143.7L295.4 144.0L296.7 144.3L297.9 144.7L298.3 144.8L299.2 145.2L300.5 145.7L301.5 146.1L301.7 146.2L303.0 146.4L303.6 146.1L304.3 145.9L305.3 144.8L305.6 144.5L306.0 143.5L306.3 142.3L306.2 141.0L305.9 139.7L305.6 138.8L305.4 138.4L304.6 137.1L304.3 136.6L303.7 135.8L303.0 134.9L302.8 134.5L301.9 133.2L301.7 133.0L301.2 132.0L300.7 130.7L300.5 130.1L300.2 129.4L299.7 128.1L299.2 126.9L299.1 126.8L298.2 125.5L297.9 125.3L296.7 124.4L296.3 124.2L295.4 123.7L294.1 123.0L293.9 122.9L292.8 122.0L292.5 121.6L291.8 120.4L291.6 119.6L291.4 119.1L291.2 117.8L291.1 116.5L291.1 115.2L291.2 113.9L291.3 112.6L291.6 111.3L291.6 111.3L291.8 110.0L292.1 108.8L292.5 107.5L292.8 106.2L292.8 105.4L292.9 104.9L292.8 104.2L292.8 103.6L292.1 102.3L291.6 101.7L290.5 101.0L290.3 100.9L289.0 100.6L287.8 100.4L286.5 100.4L285.2 100.5L283.9 100.8L283.3 101.0L282.7 101.2L281.4 101.8L280.3 102.3L280.1 102.4L278.9 103.1L277.6 103.6L277.6 103.6L276.3 104.2L275.0 104.5L273.8 104.7L272.5 104.6L271.2 104.4L270.0 103.9L269.6 103.6L268.7 103.1L267.7 102.3L267.4 102.1L266.1 101.1L265.9 101.0L264.9 100.7L263.6 100.8ZM247.1 109.7L248.3 109.1L249.6 109.1L250.9 109.6L251.5 110.0L252.1 110.8L252.5 111.3L252.6 112.6L252.1 113.5L251.8 113.9L250.9 114.5L249.6 114.6L248.3 114.2L248.0 113.9L247.1 112.9L246.8 112.6L246.4 111.3L246.8 110.0ZM210.2 122.6L211.5 122.3L212.7 122.2L214.0 122.3L215.3 122.5L216.5 122.8L217.0 122.9L217.8 123.2L219.1 123.7L219.9 124.2L220.4 124.5L221.5 125.5L221.6 125.6L222.5 126.8L222.9 127.5L223.2 128.1L223.5 129.4L223.7 130.7L223.7 132.0L223.6 133.2L223.6 134.5L223.5 135.8L223.5 137.1L223.5 138.4L223.4 139.7L223.0 141.0L222.9 141.1L222.1 142.3L221.6 142.6L220.4 143.5L220.4 143.6L219.1 144.2L217.8 144.8L217.8 144.8L216.5 145.4L215.3 146.0L215.0 146.1L214.0 146.6L212.7 147.3L212.4 147.4L211.5 147.8L210.2 148.1L208.9 147.8L208.3 147.4L207.6 147.0L206.5 146.1L206.4 146.0L205.1 144.8L205.1 144.8L204.0 143.5L203.8 143.3L203.2 142.3L203.0 141.0L203.0 139.7L203.2 138.4L203.4 137.1L203.4 135.8L203.3 134.5L203.2 133.2L203.0 132.0L202.9 130.7L203.0 129.4L203.4 128.1L203.8 127.3L204.2 126.8L205.1 125.8L205.4 125.5L206.4 124.7L207.0 124.2L207.6 123.8L208.9 123.1L209.3 122.9ZM208.3 125.5L207.6 126.0L206.7 126.8L206.4 127.2L205.7 128.1L205.2 129.4L205.1 130.2L205.0 130.7L205.1 132.0L205.1 132.2L205.2 133.2L205.4 134.5L205.5 135.8L205.5 137.1L205.5 138.4L205.5 139.7L205.7 141.0L206.0 142.3L206.4 142.9L206.8 143.5L207.6 144.5L208.1 144.8L208.9 145.4L210.2 145.8L211.5 145.7L212.7 145.3L214.0 144.9L214.0 144.8L215.3 144.2L216.5 143.6L216.7 143.5L217.8 142.8L218.6 142.3L219.1 141.8L219.8 141.0L220.4 140.0L220.5 139.7L220.8 138.4L221.0 137.1L221.0 135.8L221.1 134.5L221.1 133.2L221.1 132.0L221.0 130.7L220.7 129.4L220.4 128.4L220.2 128.1L219.3 126.8L219.1 126.6L217.8 125.7L217.5 125.5L216.5 125.0L215.3 124.6L214.0 124.3L212.7 124.2L211.5 124.3L210.2 124.6L208.9 125.1ZM323.4 131.9L323.5 132.0L324.5 133.2L324.6 134.5L324.4 135.8L324.1 137.1L323.7 138.4L323.4 139.0L322.8 139.7L322.1 140.3L320.8 140.7L319.5 140.4L318.8 139.7L318.4 138.4L318.5 137.1L318.9 135.8L319.5 134.5L319.5 134.4L320.6 133.2L320.8 133.0L322.1 132.2L323.1 132.0ZM187.3 157.7L188.6 157.6L189.8 157.5L191.1 157.4L192.4 157.5L193.7 157.7L193.8 157.7L194.9 158.1L196.2 158.9L196.4 159.0L197.5 160.0L197.7 160.3L198.3 161.6L198.4 162.9L198.3 164.2L197.9 165.4L197.6 166.7L197.5 168.0L197.5 168.0L196.2 168.0L194.9 168.0L194.4 168.0L194.7 166.7L194.9 166.2L195.2 165.4L195.6 164.2L195.8 162.9L195.6 161.6L194.9 160.4L194.9 160.3L193.7 159.6L192.4 159.3L191.1 159.2L189.8 159.3L188.6 159.5L187.3 159.7L186.0 159.7L186.0 159.0L186.0 157.8L187.1 157.7Z" fill="#c4c8e8" fill-rule="evenodd"/><path d="M196.2 7.0L197.5 7.0L198.7 7.0L200.0 7.0L201.0 7.0L201.2 8.3L201.3 8.4L201.5 9.6L201.7 10.8L201.8 12.1L201.7 13.4L201.3 14.7L201.3 14.8L200.0 15.4L198.7 15.4L197.5 15.3L196.2 15.0L195.1 14.7L194.9 14.6L193.7 14.1L192.4 13.8L191.1 13.7L189.8 13.8L188.6 14.0L187.3 14.1L186.0 14.2L186.0 13.4L186.0 12.1L186.0 10.8L186.0 9.6L187.3 9.8L188.6 10.0L189.8 10.3L191.1 10.5L192.4 10.3L193.7 9.8L194.0 9.6L194.9 8.8L195.5 8.3L196.1 7.0ZM242.0 7.6L242.1 7.0L243.2 7.0L244.5 7.0L245.8 7.0L247.1 7.0L247.9 7.0L247.4 8.3L247.1 8.8L246.7 9.6L246.1 10.8L245.8 11.9L245.8 12.1L245.8 12.4L246.0 13.4L247.1 14.7L247.1 14.7L248.3 15.1L249.6 15.2L250.9 15.1L252.1 14.8L252.5 14.7L253.4 14.0L253.9 13.4L254.2 12.1L253.8 10.8L253.4 10.1L253.1 9.6L252.2 8.3L252.1 8.2L251.6 7.0L252.1 7.0L253.4 7.0L254.7 7.0L256.0 7.0L257.2 7.0L257.2 7.1L257.5 8.3L257.9 9.6L258.3 10.8L258.5 12.1L258.3 13.4L257.6 14.7L257.2 15.0L256.0 15.7L255.4 16.0L254.7 16.2L253.4 16.5L252.1 16.8L250.9 17.0L249.6 17.1L248.3 17.2L247.1 17.1L245.8 16.8L244.5 16.5L243.4 16.0L243.2 15.9L242.0 14.9L241.7 14.7L241.0 13.4L240.8 12.1L241.0 10.8L241.4 9.6L241.9 8.3ZM275.0 7.0L276.3 7.0L277.6 7.0L278.9 7.0L280.1 7.0L281.4 7.0L282.7 7.0L283.9 7.0L285.2 7.0L286.5 7.0L287.8 7.0L288.8 7.0L288.7 8.3L288.5 9.6L288.2 10.8L288.1 12.1L288.2 13.4L288.6 14.7L289.0 15.5L289.2 16.0L289.7 17.3L289.9 18.6L289.9 19.9L289.8 21.1L289.4 22.4L289.0 23.4L288.9 23.7L288.2 25.0L287.8 25.7L287.4 26.3L286.5 27.6L286.5 27.6L285.6 28.9L285.2 29.5L284.7 30.2L284.2 31.5L284.2 32.7L284.6 34.0L285.2 35.2L285.3 35.3L285.9 36.6L286.5 37.9L286.5 38.0L286.9 39.2L287.3 40.5L287.5 41.8L287.7 43.0L287.8 43.8L287.8 44.3L287.8 45.3L287.7 45.6L287.5 46.9L287.1 48.2L286.5 49.3L286.3 49.5L285.2 50.7L285.1 50.8L283.9 51.5L282.7 51.9L281.4 51.9L280.1 51.5L279.0 50.8L278.9 50.7L277.9 49.5L277.6 48.7L277.4 48.2L277.1 46.9L276.9 45.6L276.8 44.3L276.8 43.0L276.9 41.8L277.0 40.5L277.2 39.2L277.5 37.9L277.6 37.3L277.8 36.6L278.1 35.3L278.5 34.0L278.7 32.7L278.5 31.5L278.0 30.2L277.6 29.4L277.3 28.9L276.5 27.6L276.3 27.3L275.7 26.3L275.0 25.0L275.0 25.0L274.2 23.7L273.8 22.6L273.1 22.4L272.5 21.8L272.4 22.4L271.9 23.7L271.2 24.9L271.2 25.0L270.6 26.3L270.0 27.5L269.9 27.6L269.1 28.9L268.7 29.6L268.3 30.2L267.4 31.5L267.4 31.5L266.6 32.7L266.1 33.6L265.9 34.0L265.3 35.3L264.9 36.4L264.8 36.6L264.2 37.9L263.6 39.2L263.6 39.2L262.7 40.5L262.3 40.9L261.3 41.8L261.0 41.9L259.8 42.6L258.5 43.0L258.5 43.0L257.2 43.4L256.0 43.7L254.7 44.0L253.4 44.3L253.0 44.3L252.1 44.5L250.9 44.9L249.6 45.2L248.3 45.5L247.9 45.6L247.1 45.9L245.8 46.3L244.5 46.7L243.2 46.9L242.0 46.9L240.7 46.4L239.5 45.6L239.4 45.5L238.5 44.3L238.2 43.0L238.3 41.8L238.8 40.5L239.4 39.2L239.4 39.1L240.0 37.9L240.6 36.6L240.7 36.5L241.2 35.3L241.8 34.0L242.0 33.6L242.4 32.7L243.2 31.6L243.3 31.5L244.5 30.4L245.0 30.2L245.8 29.8L247.1 29.5L248.3 29.4L249.6 29.4L250.9 29.5L252.1 29.6L253.4 29.8L254.7 29.9L256.0 30.0L257.2 30.0L258.5 29.8L259.8 29.2L260.1 28.9L261.0 27.6L261.0 27.5L261.5 26.3L261.9 25.0L262.1 23.7L262.3 22.5L262.3 22.4L262.7 21.1L263.2 19.9L263.6 19.2L264.4 18.6L264.9 18.3L266.1 18.0L267.4 17.9L268.7 18.0L270.0 18.4L270.6 18.6L271.2 18.9L272.5 19.6L272.9 18.6L273.4 17.3L273.8 16.0L273.8 16.0L274.1 14.7L274.2 13.4L274.3 12.1L274.2 10.8L274.1 9.6L274.0 8.3L274.0 7.0ZM280.2 17.3L280.1 17.3L278.9 18.0L278.3 18.6L277.6 19.7L277.5 19.9L277.1 21.1L277.1 22.4L277.3 23.7L277.6 24.6L277.7 25.0L278.4 26.3L278.9 27.0L279.4 27.6L280.1 28.3L281.4 28.8L282.7 28.5L283.8 27.6L283.9 27.5L285.0 26.3L285.2 26.0L285.9 25.0L286.5 23.8L286.5 23.7L286.8 22.4L286.8 21.1L286.5 20.0L286.4 19.9L285.5 18.6L285.2 18.3L283.9 17.5L283.3 17.3L282.7 17.1L281.4 17.0ZM265.5 22.4L264.9 23.1L264.6 23.7L264.4 25.0L264.4 26.3L264.7 27.6L264.9 27.8L265.8 27.6L266.1 27.5L267.1 26.3L267.4 25.7L267.6 25.0L267.7 23.7L267.4 22.8L267.1 22.4L266.1 22.1ZM247.1 31.5L247.1 31.5L245.8 32.3L245.3 32.7L244.5 33.9L244.4 34.0L243.9 35.3L243.6 36.6L243.4 37.9L243.5 39.2L243.8 40.5L244.5 41.4L245.0 41.8L245.8 42.2L247.1 42.6L248.3 42.7L249.6 42.7L250.9 42.7L252.1 42.5L253.4 42.3L254.7 42.1L256.0 41.8L256.0 41.8L257.2 41.3L258.5 40.7L259.0 40.5L259.8 39.8L260.4 39.2L261.0 38.0L261.1 37.9L261.5 36.6L261.5 35.3L261.3 34.0L261.0 33.7L259.8 32.8L259.6 32.7L258.5 32.5L257.2 32.2L256.0 31.9L254.7 31.6L254.1 31.5L253.4 31.3L252.1 31.1L250.9 31.0L249.6 31.0L248.3 31.1ZM280.6 36.6L280.1 37.0L279.7 37.9L279.1 39.2L278.9 40.0L278.7 40.5L278.5 41.8L278.4 43.0L278.4 44.3L278.6 45.6L278.9 46.8L278.9 46.9L279.6 48.2L280.1 48.8L281.4 49.4L282.7 49.3L283.9 48.6L284.3 48.2L285.2 46.9L285.2 46.9L285.6 45.6L285.8 44.3L285.8 43.0L285.6 41.8L285.4 40.5L285.2 40.0L284.9 39.2L284.1 37.9L283.9 37.6L283.0 36.6L282.7 36.3L281.4 36.0ZM315.7 7.0L317.0 7.0L318.3 7.0L319.0 7.0L318.9 8.3L318.7 9.6L318.5 10.8L318.5 12.1L318.5 13.4L318.8 14.7L319.5 15.8L320.8 15.9L322.0 14.7L322.1 14.5L322.4 13.4L322.4 12.1L322.3 10.8L322.1 9.6L322.1 9.1L321.8 8.3L321.7 7.0L322.1 7.0L323.4 7.0L324.5 7.0L324.5 8.3L324.6 9.1L324.7 9.6L324.8 10.8L324.9 12.1L324.8 13.4L324.6 14.5L324.6 14.7L324.0 16.0L323.4 17.1L323.2 17.3L322.2 18.6L322.1 18.7L320.8 19.8L320.8 19.9L319.5 21.0L319.4 21.1L318.7 22.4L318.6 23.7L318.8 25.0L319.4 26.3L319.5 26.6L320.3 27.6L320.8 28.1L321.9 28.9L322.1 29.0L323.4 29.4L324.6 29.7L325.9 29.8L327.2 29.8L328.4 29.8L329.7 29.8L331.0 29.7L332.3 29.6L333.5 29.5L334.8 29.3L336.1 29.1L337.3 28.9L337.7 28.9L338.6 28.8L339.9 28.7L341.2 28.8L342.4 28.9L342.5 28.9L343.7 28.9L345.0 29.0L345.0 30.2L345.0 31.5L345.0 32.6L343.7 32.6L342.4 32.6L341.2 32.6L339.9 32.7L338.6 32.6L337.3 32.6L336.1 32.6L334.8 32.5L333.5 32.5L332.3 32.5L331.0 32.5L329.7 32.5L328.4 32.6L327.7 32.7L327.2 32.9L325.9 33.2L324.6 33.8L324.2 34.0L323.4 35.2L323.3 35.3L323.2 36.6L323.4 37.1L323.6 37.9L324.2 39.2L324.6 39.7L325.2 40.5L325.9 41.2L326.6 41.8L327.2 42.2L328.4 42.9L329.0 43.0L329.7 43.2L331.0 43.4L332.3 43.4L333.5 43.4L334.8 43.4L336.1 43.3L337.3 43.3L338.6 43.3L339.9 43.3L341.2 43.3L342.4 43.3L343.7 43.3L345.0 43.3L345.0 44.3L345.0 45.5L343.7 45.5L342.4 45.5L341.2 45.4L339.9 45.4L338.6 45.4L337.3 45.5L336.1 45.6L336.1 45.6L334.8 45.9L333.5 46.1L332.3 46.4L331.0 46.7L329.8 46.9L329.7 46.9L328.4 47.0L328.0 46.9L327.2 46.8L325.9 46.4L324.6 45.7L324.5 45.6L323.4 44.8L322.7 44.3L322.1 43.8L321.2 43.0L320.8 42.7L319.7 41.8L319.5 41.6L318.3 40.7L317.6 40.5L317.0 40.3L315.9 40.5L315.7 40.5L314.5 41.7L314.4 41.8L313.7 43.0L313.2 43.7L312.9 44.3L312.0 45.6L311.9 45.7L310.8 46.9L310.6 47.0L309.4 48.0L309.1 48.2L308.1 48.8L306.8 49.3L306.2 49.5L305.6 49.7L304.3 50.0L303.0 50.2L301.7 50.4L300.5 50.3L299.2 50.1L298.2 49.5L297.9 49.1L297.5 48.2L297.6 46.9L297.9 45.9L298.0 45.6L298.5 44.3L299.0 43.0L299.2 42.6L299.5 41.8L300.0 40.5L300.5 39.4L300.6 39.2L301.3 37.9L301.7 37.3L302.4 36.6L303.0 36.1L304.3 35.3L304.3 35.3L305.6 34.8L306.8 34.4L308.0 34.0L308.1 34.0L309.4 33.4L310.2 32.7L310.6 32.1L311.0 31.5L311.1 30.2L311.0 28.9L310.7 27.6L310.6 27.5L310.2 26.3L309.7 25.0L309.4 24.3L309.1 23.7L308.8 22.4L309.3 21.1L309.4 21.1L310.6 20.4L311.9 19.9L312.0 19.9L313.2 19.4L314.3 18.6L314.5 18.4L315.0 17.3L315.3 16.0L315.5 14.7L315.5 13.4L315.5 12.1L315.5 10.8L315.5 9.6L315.5 8.3L315.4 7.0ZM305.1 36.6L304.3 37.0L303.1 37.9L303.0 38.0L302.2 39.2L301.7 40.1L301.6 40.5L301.2 41.8L300.9 43.0L300.8 44.3L300.9 45.6L301.7 46.9L301.7 46.9L303.0 47.5L304.3 47.6L305.6 47.4L306.8 47.0L307.0 46.9L308.1 46.3L308.9 45.6L309.4 45.2L310.0 44.3L310.6 43.3L310.8 43.0L311.3 41.8L311.6 40.5L311.6 39.2L311.4 37.9L310.6 36.8L310.3 36.6L309.4 36.2L308.1 36.1L306.8 36.1L305.6 36.4ZM205.1 19.3L206.4 18.8L207.6 18.9L208.9 19.3L209.7 19.9L210.2 20.3L210.6 21.1L211.0 22.4L211.1 23.7L211.0 25.0L210.6 26.3L210.2 27.1L209.5 27.6L208.9 27.9L207.6 27.8L207.2 27.6L206.4 27.1L205.7 26.3L205.1 25.4L204.9 25.0L204.5 23.7L204.3 22.4L204.3 21.1L204.7 19.9ZM191.1 25.0L191.4 25.0L192.4 25.0L193.7 25.2L194.9 25.6L196.2 26.2L196.3 26.3L197.5 27.2L197.9 27.6L198.7 28.6L198.9 28.9L199.6 30.2L199.9 31.5L200.0 32.4L200.1 32.7L200.1 34.0L200.0 35.3L200.0 35.6L199.9 36.6L199.7 37.9L199.3 39.2L198.7 40.5L198.7 40.5L198.0 41.8L197.5 42.4L196.7 43.0L196.2 43.5L194.9 44.1L194.2 44.3L193.7 44.5L192.4 44.7L191.1 44.7L189.8 44.6L188.6 44.6L187.3 44.5L186.0 44.4L186.0 44.3L186.0 43.0L186.0 41.8L186.0 41.4L187.3 41.4L188.6 41.6L189.8 41.7L190.3 41.8L191.1 41.8L192.3 41.8L192.4 41.8L193.7 41.5L194.9 40.8L195.3 40.5L196.2 39.6L196.5 39.2L197.1 37.9L197.5 37.0L197.6 36.6L197.8 35.3L197.9 34.0L197.9 32.7L197.6 31.5L197.5 31.1L197.0 30.2L196.2 29.1L196.0 28.9L194.9 28.1L193.7 27.6L193.7 27.6L192.4 27.3L191.1 27.3L189.8 27.3L188.6 27.5L187.4 27.6L187.3 27.6L186.0 27.7L186.0 27.6L186.0 26.3L186.0 25.3L187.3 25.2L188.6 25.1L189.8 25.1L190.9 25.0ZM210.2 39.7L211.5 40.0L212.2 40.5L212.7 40.9L213.5 41.8L214.0 42.7L214.2 43.0L214.2 44.3L214.0 44.7L213.2 45.6L212.7 45.9L211.5 46.5L210.2 46.8L208.9 46.4L208.3 45.6L207.9 44.3L208.0 43.0L208.3 41.8L208.9 40.5L208.9 40.5ZM224.2 40.1L225.4 39.6L226.7 39.7L228.0 40.3L228.3 40.5L229.0 41.8L228.3 43.0L228.0 43.2L226.7 43.7L225.4 43.8L224.2 43.5L223.4 43.0L222.9 41.8L223.7 40.5ZM187.3 55.6L188.6 55.6L189.8 55.6L191.1 55.7L192.4 55.6L193.7 55.6L194.9 55.4L196.2 55.2L197.5 55.0L198.7 54.9L200.0 54.9L201.3 55.3L201.8 55.9L202.5 57.2L202.6 57.3L202.8 58.5L203.0 59.8L203.2 61.1L203.3 62.4L203.4 63.7L203.5 65.0L203.6 66.2L203.7 67.5L203.8 68.8L203.7 70.1L203.5 71.4L203.3 72.7L202.9 74.0L202.6 75.3L202.6 75.4L202.2 76.5L202.0 77.8L201.8 79.1L201.6 80.4L201.4 81.7L201.3 82.5L201.0 83.0L200.0 83.5L198.7 83.4L197.5 83.2L196.2 83.1L194.9 83.0L194.6 83.0L193.7 82.9L192.4 82.9L191.1 82.9L189.8 82.9L188.6 82.9L187.3 82.9L186.0 83.0L186.0 81.7L186.0 81.3L187.3 81.3L188.6 81.3L189.8 81.3L191.1 81.3L192.4 81.3L193.7 81.3L194.9 81.2L196.2 80.9L197.4 80.4L197.5 80.4L198.5 79.1L198.7 78.0L198.8 77.8L198.7 77.5L198.6 76.5L197.7 75.3L197.5 75.2L196.2 75.0L194.9 75.0L193.7 75.0L192.4 75.0L191.1 75.0L189.8 75.0L188.6 75.0L187.3 75.0L186.0 75.0L186.0 74.0L186.0 72.7L186.0 71.7L187.3 71.8L188.6 71.9L189.8 72.1L191.1 72.2L192.4 72.1L193.7 71.8L194.4 71.4L194.7 70.1L193.7 68.8L193.7 68.8L192.4 68.4L191.1 68.3L189.8 68.4L188.6 68.6L187.5 68.8L187.3 68.9L186.0 69.1L186.0 68.8L186.0 67.5L186.0 66.2L186.0 65.0L186.0 64.2L187.3 64.1L188.6 64.1L189.8 64.0L191.1 64.0L192.4 64.0L193.7 64.1L194.9 64.4L196.2 64.9L196.2 65.0L197.5 65.4L198.7 65.7L199.5 65.0L199.6 63.7L199.2 62.4L198.7 61.6L198.2 61.1L197.5 60.7L196.2 60.4L194.9 60.3L193.7 60.4L192.4 60.4L191.1 60.4L189.8 60.4L188.6 60.4L187.3 60.4L186.0 60.4L186.0 59.8L186.0 58.5L186.0 57.2L186.0 55.9L186.0 55.5ZM315.7 58.5L317.0 58.3L318.3 58.0L319.5 57.8L320.8 57.6L322.1 57.4L323.4 57.3L324.6 57.3L325.9 57.4L327.2 57.6L328.4 57.9L329.7 58.4L329.8 58.5L331.0 59.4L331.4 59.8L332.2 61.1L332.3 61.2L332.6 62.4L332.7 63.7L332.4 65.0L332.3 65.5L332.0 66.2L331.4 67.5L331.0 68.2L330.6 68.8L329.8 70.1L329.7 70.2L328.8 71.4L328.4 72.1L328.1 72.7L327.5 74.0L327.2 75.0L327.1 75.3L326.8 76.5L326.5 77.8L326.4 79.1L326.2 80.4L325.9 81.7L325.9 81.9L325.7 83.0L325.5 84.3L325.3 85.6L325.3 86.9L325.3 88.1L325.5 89.4L325.7 90.7L325.9 91.5L326.0 92.0L326.3 93.3L326.6 94.6L326.8 95.9L327.0 97.2L327.1 98.5L327.2 98.8L327.3 99.7L327.4 101.0L327.5 102.3L327.6 103.6L327.8 104.9L328.1 106.2L328.4 107.1L328.6 107.5L329.5 108.8L329.7 109.0L330.7 110.0L331.0 110.3L331.9 111.3L332.3 112.0L332.6 112.6L332.7 113.9L332.6 115.2L332.3 116.5L332.3 116.7L332.0 117.8L331.6 119.1L331.1 120.4L331.0 120.5L330.3 121.6L329.7 122.1L328.8 122.9L328.4 123.1L327.2 124.2L327.1 124.2L325.9 125.2L325.6 125.5L324.6 126.3L324.0 126.8L323.4 127.3L322.3 128.1L322.1 128.3L320.8 129.3L320.7 129.4L319.5 130.5L319.4 130.7L318.3 131.9L318.2 132.0L317.3 133.2L317.0 133.6L316.4 134.5L315.7 135.5L315.4 135.8L314.5 137.0L314.2 137.1L313.2 137.6L311.9 137.3L311.6 137.1L310.6 136.5L309.9 135.8L309.4 135.4L308.6 134.5L308.1 134.0L307.4 133.2L306.8 132.5L306.4 132.0L305.6 130.8L305.5 130.7L304.8 129.4L304.3 128.1L304.3 127.9L304.1 126.8L303.9 125.5L303.9 124.2L303.9 122.9L303.7 121.6L303.0 120.4L303.0 120.4L301.7 119.6L300.5 119.1L300.3 119.1L299.2 118.6L297.9 117.9L297.8 117.8L296.8 116.5L296.7 116.3L296.3 115.2L296.1 113.9L296.1 112.6L296.3 111.3L296.6 110.0L296.7 109.8L297.0 108.8L297.5 107.5L297.9 106.2L297.9 106.2L298.3 104.9L298.6 103.6L298.7 102.3L298.7 101.0L298.7 99.7L298.7 98.5L299.0 97.2L299.2 96.8L299.7 95.9L300.5 95.2L301.1 94.6L301.7 94.2L303.0 93.4L303.2 93.3L304.3 92.8L305.6 92.1L305.9 92.0L306.8 91.6L308.1 91.1L309.3 90.7L309.4 90.7L310.6 90.3L311.9 89.9L313.2 89.5L313.2 89.4L314.5 88.9L315.7 88.1L315.7 88.1L316.9 86.9L317.0 86.5L317.3 85.6L317.3 84.3L317.0 83.6L316.7 83.0L315.7 82.2L314.8 81.7L314.5 81.6L313.2 81.4L311.9 81.5L310.6 81.7L310.5 81.7L309.4 81.9L308.1 82.0L306.8 82.0L305.6 81.9L304.5 81.7L304.3 81.7L303.0 81.3L301.7 80.9L300.5 80.4L300.5 80.4L299.2 80.0L297.9 79.5L296.7 79.1L296.7 79.1L295.4 78.6L294.2 77.8L294.1 77.8L293.1 76.5L292.8 75.9L292.6 75.3L292.3 74.0L292.0 72.7L291.9 71.4L291.7 70.1L291.6 68.8L291.6 68.5L291.5 67.5L291.5 66.2L291.5 65.0L291.6 64.8L291.8 63.7L292.5 62.4L292.8 62.0L293.8 61.1L294.1 60.8L295.4 60.1L296.1 59.8L296.7 59.6L297.9 59.3L299.2 59.1L300.5 59.1L301.7 59.2L303.0 59.2L304.3 59.3L305.6 59.3L306.8 59.3L308.1 59.3L309.4 59.2L310.6 59.1L311.9 59.0L313.2 58.9L314.5 58.7L315.6 58.5ZM315.1 61.1L314.5 61.1L313.2 61.2L311.9 61.3L310.6 61.4L309.4 61.4L308.1 61.4L306.8 61.5L305.6 61.5L304.3 61.6L303.0 61.7L301.7 61.8L300.5 61.9L299.2 62.2L298.7 62.4L297.9 62.7L296.7 63.3L296.1 63.7L295.4 64.4L294.9 65.0L294.2 66.2L294.1 66.6L293.9 67.5L293.7 68.8L293.7 70.1L293.9 71.4L294.1 72.5L294.2 72.7L294.7 74.0L295.4 75.2L295.5 75.3L296.7 76.4L296.9 76.5L297.9 77.1L299.2 77.7L299.4 77.8L300.5 78.3L301.7 78.8L302.7 79.1L303.0 79.2L304.3 79.6L305.6 79.7L306.8 79.7L308.1 79.5L309.4 79.1L309.4 79.1L310.6 78.5L311.9 77.8L311.9 77.8L313.2 77.1L314.3 76.5L314.5 76.4L315.7 75.8L316.8 75.3L317.0 75.1L318.3 74.4L318.9 74.0L319.5 73.5L320.6 72.7L320.8 72.6L322.1 71.7L322.5 71.4L323.4 70.9L324.6 70.1L324.6 70.1L325.9 69.3L326.5 68.8L327.2 68.3L327.9 67.5L328.4 66.9L328.9 66.2L329.4 65.0L329.6 63.7L329.1 62.4L328.4 61.6L327.6 61.1L327.2 60.9L325.9 60.5L324.6 60.4L323.4 60.4L322.1 60.4L320.8 60.5L319.5 60.7L318.3 60.8L317.0 60.9L315.7 61.0ZM310.8 92.0L310.6 92.1L309.4 92.4L308.1 92.8L306.9 93.3L306.8 93.3L305.6 93.9L304.4 94.6L304.3 94.6L303.0 95.6L302.7 95.9L301.7 97.1L301.7 97.2L301.2 98.5L301.0 99.7L300.8 101.0L300.7 102.3L300.5 103.6L300.5 103.9L300.3 104.9L299.9 106.2L299.4 107.5L299.2 108.2L299.0 108.8L298.6 110.0L298.4 111.3L298.4 112.6L298.7 113.9L299.2 114.8L299.6 115.2L300.5 115.8L301.7 116.4L302.1 116.5L303.0 116.8L304.3 117.2L305.5 117.8L305.6 117.8L306.7 119.1L306.8 119.4L307.1 120.4L307.0 121.6L306.8 122.4L306.7 122.9L306.4 124.2L306.1 125.5L306.1 126.8L306.3 128.1L306.8 129.4L306.8 129.5L307.6 130.7L308.1 131.3L308.6 132.0L309.4 132.7L310.0 133.2L310.6 133.8L311.9 134.4L313.2 134.4L314.5 133.7L314.8 133.2L315.7 132.3L316.0 132.0L317.0 130.8L317.1 130.7L318.3 129.4L318.3 129.4L319.5 128.1L319.5 128.1L320.8 126.9L321.0 126.8L322.1 125.8L322.5 125.5L323.4 124.7L323.9 124.2L324.6 123.4L325.1 122.9L325.9 122.0L326.2 121.6L327.1 120.4L327.2 120.3L327.8 119.1L328.1 117.8L328.2 116.5L328.1 115.2L327.6 113.9L327.2 113.2L326.7 112.6L325.9 111.4L325.8 111.3L325.5 110.0L325.4 108.8L325.5 107.5L325.6 106.2L325.6 104.9L325.6 103.6L325.5 102.3L325.3 101.0L325.1 99.7L324.8 98.5L324.6 98.0L324.3 97.2L323.7 95.9L323.4 95.1L323.0 94.6L322.3 93.3L322.1 93.0L321.3 92.0L320.8 91.5L319.5 90.8L318.3 90.7L317.0 90.8L315.7 91.0L314.5 91.2L313.2 91.5L311.9 91.7ZM242.0 59.0L243.2 58.8L244.5 59.0L245.5 59.8L245.8 60.0L246.6 61.1L247.1 61.6L247.7 62.4L248.3 62.9L249.6 63.6L250.9 63.4L252.1 62.4L252.2 62.4L253.4 61.2L253.6 61.1L254.7 60.4L256.0 59.9L256.6 59.8L257.2 59.7L258.5 59.5L259.8 59.5L261.0 59.6L261.7 59.8L262.3 60.0L263.6 61.1L263.6 61.2L263.8 62.4L263.6 63.6L263.6 63.7L262.8 65.0L262.3 65.6L261.8 66.2L261.0 67.1L260.7 67.5L259.8 68.6L259.6 68.8L259.0 70.1L258.8 71.4L259.1 72.7L259.6 74.0L259.8 74.3L260.1 75.3L260.6 76.5L260.8 77.8L260.9 79.1L260.6 80.4L259.8 81.4L259.5 81.7L258.5 82.3L257.3 83.0L257.2 83.0L256.0 83.9L255.5 84.3L254.7 85.3L254.5 85.6L254.2 86.9L254.4 88.1L254.7 88.8L255.1 89.4L256.0 90.4L256.4 90.7L257.2 91.3L258.5 92.0L258.5 92.0L259.8 92.7L260.7 93.3L261.0 93.8L261.5 94.6L261.5 95.9L261.0 96.7L260.8 97.2L259.8 98.2L259.5 98.5L258.5 99.0L257.2 99.4L256.0 99.6L254.7 99.6L253.4 99.5L252.1 99.3L250.9 99.1L249.6 98.8L248.3 98.6L247.7 98.5L247.1 98.3L245.8 97.9L244.5 97.5L243.9 97.2L243.2 96.8L242.2 95.9L242.0 95.7L241.1 94.6L240.7 94.0L240.2 93.3L239.5 92.0L239.4 91.9L238.7 90.7L238.2 89.7L238.0 89.4L237.2 88.1L236.9 87.7L236.3 86.9L235.6 86.0L235.3 85.6L234.4 84.3L234.3 84.3L233.6 83.0L233.1 81.8L233.1 81.7L232.7 80.4L232.5 79.1L232.5 77.8L232.5 76.5L232.7 75.3L232.9 74.0L233.1 73.5L233.3 72.7L233.8 71.4L234.3 70.3L234.4 70.1L235.1 68.8L235.6 67.9L235.8 67.5L236.4 66.2L236.9 65.4L237.1 65.0L237.8 63.7L238.2 62.9L238.5 62.4L239.4 61.1L239.4 61.1L240.7 59.8L240.7 59.8ZM240.5 63.7L239.4 64.9L239.4 65.0L238.6 66.2L238.2 67.0L237.9 67.5L237.2 68.8L236.9 69.5L236.6 70.1L236.0 71.4L235.6 72.3L235.5 72.7L235.1 74.0L234.8 75.3L234.6 76.5L234.6 77.8L234.8 79.1L235.1 80.4L235.6 81.4L235.8 81.7L236.6 83.0L236.9 83.4L237.5 84.3L238.2 85.1L238.5 85.6L239.4 86.9L239.4 86.9L240.2 88.1L240.7 89.1L240.9 89.4L241.5 90.7L242.0 91.5L242.2 92.0L243.0 93.3L243.2 93.6L244.0 94.6L244.5 95.1L245.5 95.9L245.8 96.1L247.1 96.7L248.2 97.2L248.3 97.2L249.6 97.6L250.9 97.9L252.1 98.1L253.4 98.3L254.7 98.4L256.0 98.3L257.2 97.9L258.5 97.2L258.5 97.2L259.2 95.9L259.0 94.6L258.5 94.1L257.7 93.3L257.2 93.0L256.0 92.1L255.9 92.0L254.7 91.0L254.5 90.7L253.5 89.4L253.4 89.2L253.0 88.1L252.8 86.9L253.0 85.6L253.4 84.5L253.5 84.3L254.7 83.0L254.7 83.0L256.0 82.1L256.7 81.7L257.2 81.3L258.5 80.4L258.5 80.3L259.2 79.1L259.2 77.8L258.9 76.5L258.5 75.4L258.4 75.3L257.7 74.0L257.2 73.2L256.8 72.7L256.1 71.4L256.0 70.9L255.6 70.1L255.4 68.8L255.4 67.5L256.0 67.2L257.2 66.5L257.6 66.2L258.5 65.6L259.1 65.0L259.8 63.7L259.8 63.7L259.8 63.6L258.5 62.6L257.2 62.8L256.1 63.7L256.0 63.9L255.5 65.0L255.2 66.2L254.7 67.0L253.4 67.4L252.1 67.5L250.9 67.4L249.6 67.1L248.3 66.5L247.9 66.2L247.1 65.7L246.1 65.0L245.8 64.7L244.5 63.7L244.4 63.7L243.2 63.0L242.0 62.8L240.7 63.5ZM289.0 82.9L289.1 83.0L290.3 83.8L290.5 84.3L291.0 85.6L291.2 86.9L291.3 88.1L291.2 89.4L291.0 90.7L290.4 92.0L290.3 92.2L289.0 93.2L288.7 93.3L287.8 93.6L286.5 93.8L285.2 94.2L284.6 94.6L283.9 94.9L282.9 95.9L282.7 96.0L281.5 97.2L281.4 97.2L280.1 98.3L280.0 98.5L278.9 99.2L278.0 99.7L277.6 100.0L276.3 100.5L275.0 100.8L273.8 100.9L272.5 100.7L271.2 100.1L270.7 99.7L270.0 99.1L269.3 98.5L268.7 97.6L268.3 97.2L267.6 95.9L267.4 95.4L267.0 94.6L266.6 93.3L266.4 92.0L266.6 90.7L267.2 89.4L267.4 89.2L268.7 88.6L270.0 88.4L271.2 88.4L272.5 88.5L273.8 88.7L275.0 88.9L276.3 89.1L277.6 89.4L277.9 89.4L278.9 89.6L280.1 89.9L281.4 90.0L282.7 89.7L282.9 89.4L283.9 88.1L283.9 88.1L284.5 86.9L285.2 85.6L285.2 85.5L286.1 84.3L286.5 83.9L287.8 83.1L288.7 83.0ZM270.6 90.7L270.0 91.2L269.3 92.0L269.0 93.3L269.0 94.6L269.4 95.9L270.0 96.9L270.1 97.2L271.2 98.4L271.2 98.5L272.5 99.2L273.8 99.5L275.0 99.5L276.3 99.1L277.6 98.5L277.6 98.5L278.9 97.4L279.1 97.2L280.1 95.9L280.1 95.7L280.5 94.6L280.2 93.3L280.1 93.3L279.0 92.0L278.9 91.9L277.6 91.2L276.3 90.8L276.2 90.7L275.0 90.4L273.8 90.3L272.5 90.3L271.2 90.5ZM203.8 86.8L203.9 86.9L205.1 87.9L205.3 88.1L205.8 89.4L205.2 90.7L205.1 90.8L203.8 90.9L203.6 90.7L202.6 89.4L202.6 89.3L202.4 88.1L202.6 87.0L202.8 86.9ZM219.1 90.7L220.4 90.1L221.6 89.7L222.9 89.5L224.2 89.4L225.4 89.6L226.7 90.0L228.0 90.6L228.1 90.7L229.3 91.9L229.4 92.0L230.2 93.3L230.5 94.4L230.6 94.6L230.8 95.9L230.6 97.2L230.5 97.4L230.2 98.5L229.4 99.7L229.3 99.9L228.1 101.0L228.0 101.2L226.7 102.2L226.5 102.3L225.4 103.5L225.3 103.6L224.9 104.9L225.0 106.2L225.4 106.8L226.5 107.5L226.7 107.6L228.0 107.8L229.3 108.0L230.5 108.3L231.3 108.8L231.8 109.0L232.6 110.0L233.1 110.7L233.3 111.3L233.8 112.6L234.3 113.9L234.3 114.2L234.6 115.2L234.8 116.5L235.0 117.8L235.2 119.1L235.1 120.4L235.0 121.6L234.4 122.9L234.3 123.1L233.1 124.1L232.8 124.2L231.8 124.6L230.5 124.8L229.3 124.8L228.0 124.5L227.4 124.2L226.7 123.9L225.4 122.9L225.4 122.9L224.2 122.0L223.7 121.6L222.9 121.2L221.6 120.5L221.1 120.4L220.4 120.1L219.1 119.7L217.8 119.4L216.5 119.2L215.3 119.1L214.4 119.1L214.0 119.0L212.7 119.0L212.6 119.1L211.5 119.1L210.2 119.4L208.9 119.8L208.1 120.4L207.6 120.6L206.4 121.6L206.3 121.6L205.1 122.6L204.7 122.9L203.8 123.7L203.2 124.2L202.6 124.8L201.8 125.5L201.3 126.1L200.6 126.8L200.0 127.8L199.8 128.1L199.5 129.4L199.5 130.7L199.6 132.0L199.8 133.2L199.8 134.5L199.6 135.8L198.8 137.1L198.7 137.2L197.5 137.8L196.2 138.0L194.9 138.0L193.7 138.0L192.4 138.0L191.1 138.0L189.8 138.0L188.6 138.0L187.3 138.0L186.0 138.0L186.0 137.1L186.0 135.8L186.0 134.5L186.0 133.2L186.0 132.0L186.0 130.7L187.3 131.0L188.6 131.7L189.2 132.0L189.8 132.1L191.1 132.3L192.4 132.2L192.8 132.0L193.7 131.2L193.9 130.7L194.4 129.4L194.9 128.3L195.0 128.1L195.9 126.8L196.2 126.5L197.2 125.5L197.5 125.3L198.7 124.4L199.0 124.2L200.0 123.5L200.8 122.9L201.3 122.5L202.3 121.6L202.6 121.1L203.0 120.4L202.6 119.5L201.9 119.1L201.3 119.0L200.0 118.9L198.7 118.9L197.5 118.9L196.2 119.0L195.6 119.1L194.9 119.2L193.7 119.3L192.4 119.4L191.1 119.4L189.8 119.4L188.6 119.3L187.3 119.3L186.0 119.3L186.0 119.1L186.0 117.8L186.0 116.5L186.0 116.4L187.3 116.4L188.6 116.4L189.8 116.4L191.1 116.4L192.4 116.4L193.7 116.4L194.9 116.4L196.2 116.5L196.2 116.5L197.5 116.5L198.7 116.6L200.0 116.6L201.3 116.5L201.8 116.5L202.6 116.4L203.8 116.3L205.1 116.0L206.4 115.4L206.7 115.2L207.6 114.5L208.2 113.9L208.9 113.1L209.3 112.6L210.2 111.6L210.5 111.3L211.5 110.4L211.9 110.0L212.7 109.3L213.3 108.8L214.0 107.9L214.3 107.5L215.0 106.2L215.3 104.9L215.3 104.9L215.5 103.6L215.5 102.3L215.4 101.0L215.3 100.0L215.2 99.7L215.1 98.5L214.9 97.2L214.8 95.9L215.0 94.6L215.3 94.0L215.7 93.3L216.5 92.4L217.0 92.0L217.8 91.4L219.0 90.7ZM221.5 94.6L220.6 95.9L220.4 97.0L220.3 97.2L220.4 97.4L220.7 98.5L221.6 99.0L222.9 98.8L224.0 98.5L224.2 98.4L225.4 97.5L225.8 97.2L226.5 95.9L226.3 94.6L225.4 93.8L224.2 93.4L222.9 93.7L221.6 94.5ZM228.8 116.5L228.9 117.8L229.3 118.3L230.5 118.9L231.3 117.8L231.0 116.5L230.5 115.8L229.3 115.7ZM334.8 122.8L336.1 122.4L337.3 122.2L338.6 122.1L339.9 122.1L341.2 122.2L342.4 122.2L343.7 122.2L345.0 122.3L345.0 122.9L345.0 124.2L345.0 125.2L343.7 125.1L342.4 125.0L341.2 124.9L339.9 124.8L338.6 124.8L337.3 125.1L336.5 125.5L336.1 125.8L335.1 126.8L334.8 127.2L334.3 128.1L333.7 129.4L333.5 129.9L333.2 130.7L332.6 132.0L332.3 132.7L331.9 133.2L331.2 134.5L331.0 135.1L330.7 135.8L330.5 137.1L330.6 138.4L330.9 139.7L331.0 140.0L331.4 141.0L331.7 142.3L331.6 143.5L331.2 144.8L331.0 145.2L330.5 146.1L329.9 147.4L329.7 148.3L329.6 148.7L329.7 149.8L329.7 150.0L330.5 151.3L331.0 151.6L332.3 152.4L332.7 152.6L333.5 152.8L334.8 153.2L336.1 153.4L337.3 153.6L338.6 153.6L339.9 153.6L341.2 153.6L342.4 153.6L343.7 153.5L345.0 153.5L345.0 153.9L345.0 155.1L345.0 155.3L343.7 155.3L342.4 155.4L341.2 155.4L339.9 155.4L338.6 155.4L337.3 155.3L336.1 155.2L335.5 155.1L334.8 155.0L333.5 154.8L332.3 154.5L331.0 154.1L330.1 153.9L329.7 153.7L328.4 153.0L327.6 152.6L327.2 152.2L326.2 151.3L325.9 150.8L325.2 150.0L324.8 148.7L324.7 147.4L325.2 146.1L325.9 144.8L325.9 144.8L326.5 143.5L326.9 142.3L327.1 141.0L327.2 140.0L327.2 139.7L327.3 138.4L327.5 137.1L327.7 135.8L328.1 134.5L328.4 133.7L328.7 133.2L329.4 132.0L329.7 131.5L330.2 130.7L330.9 129.4L331.0 129.2L331.5 128.1L331.9 126.8L332.3 125.8L332.4 125.5L333.0 124.2L333.5 123.6L334.5 122.9ZM263.6 125.4L264.9 125.4L265.6 125.5L266.1 125.6L267.4 126.5L267.7 126.8L268.5 128.1L268.7 128.4L269.0 129.4L269.5 130.7L269.8 132.0L270.0 132.4L270.2 133.2L270.4 134.5L270.4 135.8L270.0 136.8L269.8 137.1L268.7 138.4L268.6 138.4L267.4 139.5L267.2 139.7L266.1 140.6L265.6 141.0L264.9 141.9L264.3 142.3L264.8 143.5L264.9 143.6L265.8 144.8L266.1 145.1L266.7 146.1L267.4 147.3L267.5 147.4L268.0 148.7L268.4 150.0L268.6 151.3L268.7 152.6L268.5 153.9L268.3 155.1L268.0 156.4L267.6 157.7L267.4 158.3L267.2 159.0L266.8 160.3L266.6 161.6L266.6 162.9L266.6 164.2L266.7 165.4L266.8 166.7L266.9 168.0L266.1 168.0L264.9 168.0L263.6 168.0L262.3 168.0L261.0 168.0L259.8 168.0L258.5 168.0L257.2 168.0L256.0 168.0L254.7 168.0L254.7 167.5L254.6 166.7L254.4 165.4L254.2 164.2L254.1 162.9L254.2 161.6L254.6 160.3L254.7 160.1L255.6 159.0L256.0 158.7L257.2 158.1L258.5 158.0L259.8 158.3L261.0 158.7L262.3 159.0L263.6 158.9L264.9 158.2L265.2 157.7L266.0 156.4L266.1 156.2L266.5 155.1L266.8 153.9L267.0 152.6L266.8 151.3L266.5 150.0L266.1 149.3L265.7 148.7L264.9 147.8L264.0 147.4L263.6 147.2L262.3 147.0L261.0 147.0L259.8 147.2L258.5 147.3L257.2 147.3L256.0 147.1L254.7 146.8L253.4 146.4L252.4 146.1L252.1 146.0L250.9 145.7L249.6 145.4L248.3 145.2L247.1 145.2L245.8 145.2L244.5 145.3L243.2 145.5L242.0 145.6L240.7 145.6L239.4 145.6L238.2 145.6L236.9 145.5L235.6 145.4L234.3 145.4L233.1 145.5L231.8 145.6L230.5 145.7L229.3 145.9L228.4 146.1L228.0 146.2L226.7 146.4L225.4 146.6L224.2 146.8L222.9 147.0L221.6 147.2L220.6 147.4L220.4 147.5L219.1 147.8L217.8 148.3L216.9 148.7L216.5 148.9L215.3 149.8L215.1 150.0L214.0 151.2L213.9 151.3L213.2 152.6L213.0 153.9L213.1 155.1L213.4 156.4L213.8 157.7L214.0 158.3L214.2 159.0L214.6 160.3L214.7 161.6L214.8 162.9L214.7 164.2L214.6 165.4L214.5 166.7L214.5 168.0L214.0 168.0L212.7 168.0L212.2 168.0L212.2 166.7L212.3 165.4L212.4 164.2L212.5 162.9L212.4 161.6L212.2 160.3L211.9 159.0L211.5 157.8L211.4 157.7L210.7 156.4L210.2 155.4L209.3 155.1L208.9 155.0L208.8 155.1L207.6 156.2L207.5 156.4L206.4 157.5L206.2 157.7L205.1 158.7L204.6 159.0L203.8 159.6L202.6 159.9L201.3 159.5L200.5 159.0L200.0 158.8L198.7 158.0L198.4 157.7L197.5 157.2L196.2 156.6L195.9 156.4L194.9 156.0L193.7 155.7L192.4 155.5L191.1 155.5L189.8 155.5L188.6 155.6L187.3 155.7L186.0 155.7L186.0 155.1L186.0 154.0L187.3 154.0L188.6 153.9L189.1 153.9L189.8 153.8L191.1 153.7L192.4 153.8L192.9 153.9L193.7 154.0L194.9 154.3L196.2 154.8L196.8 155.1L197.5 155.4L198.7 156.0L199.7 156.4L200.0 156.6L201.3 156.9L202.6 156.8L203.4 156.4L203.8 156.2L204.9 155.1L205.1 154.7L205.5 153.9L205.7 152.6L205.4 151.3L205.1 150.8L204.6 150.0L203.8 149.2L203.3 148.7L202.6 148.1L201.3 147.6L200.5 147.4L200.0 147.3L198.7 147.3L197.9 147.4L197.5 147.5L196.2 147.8L194.9 148.1L193.7 148.3L192.4 148.5L191.1 148.5L189.8 148.5L188.6 148.4L187.3 148.3L186.0 148.3L186.0 147.4L186.0 146.1L186.0 145.9L187.3 145.9L188.6 146.0L189.8 146.1L191.1 146.1L192.4 146.1L193.7 146.0L194.9 145.7L196.2 145.4L197.5 145.2L198.7 145.0L200.0 145.1L201.3 145.4L202.6 146.0L202.7 146.1L203.8 146.8L204.5 147.4L205.1 147.9L205.9 148.7L206.4 149.2L207.2 150.0L207.6 150.7L208.4 151.3L208.9 152.1L210.2 152.3L211.1 151.3L211.5 151.1L212.6 150.0L212.7 149.9L214.0 148.9L214.3 148.7L215.3 148.1L216.4 147.4L216.5 147.4L217.8 146.8L219.1 146.3L219.7 146.1L220.4 145.9L221.6 145.5L222.9 145.1L223.9 144.8L224.2 144.7L225.4 144.2L226.7 143.6L226.8 143.5L228.0 142.8L229.3 142.3L229.3 142.3L230.5 141.8L231.8 141.6L233.1 141.5L234.3 141.5L235.6 141.5L236.9 141.5L238.2 141.6L239.4 141.6L240.7 141.6L242.0 141.6L243.2 141.5L244.5 141.4L245.8 141.4L247.1 141.4L248.3 141.4L249.6 141.5L250.9 141.7L252.1 142.2L252.2 142.3L253.4 142.7L254.7 143.4L254.9 143.5L256.0 143.8L257.2 144.1L258.5 144.0L259.8 143.7L260.4 143.5L261.0 142.8L261.6 142.3L261.0 141.9L259.9 141.0L259.8 140.9L258.5 140.3L257.4 139.7L257.2 139.6L256.0 138.8L255.5 138.4L254.8 137.1L254.7 136.5L254.6 135.8L254.7 135.5L254.9 134.5L255.4 133.2L256.0 132.3L256.1 132.0L257.0 130.7L257.2 130.4L257.9 129.4L258.5 128.7L259.0 128.1L259.8 127.4L260.5 126.8L261.0 126.4L262.3 125.8L263.3 125.5ZM262.0 128.1L261.0 129.0L260.7 129.4L260.0 130.7L259.8 131.2L259.5 132.0L259.3 133.2L259.5 134.5L259.8 135.0L260.5 135.8L261.0 136.2L262.3 136.7L263.6 136.8L264.9 136.6L266.1 135.9L266.3 135.8L267.3 134.5L267.4 134.2L267.7 133.2L267.7 132.0L267.6 130.7L267.4 130.2L267.1 129.4L266.3 128.1L266.1 127.9L264.9 127.3L263.6 127.4L262.3 127.9ZM281.4 146.0L282.7 145.8L283.9 146.0L284.3 146.1L285.2 146.4L286.5 147.0L287.3 147.4L287.8 147.7L289.0 148.5L289.3 148.7L290.3 149.6L290.8 150.0L291.4 151.3L290.9 152.6L290.3 153.1L289.4 153.9L289.0 154.1L287.8 154.9L287.3 155.1L286.5 155.6L285.2 156.1L283.9 156.4L283.4 156.4L282.7 156.5L282.4 156.4L281.4 156.2L280.1 155.5L279.7 155.1L278.9 154.1L278.7 153.9L278.1 152.6L277.9 151.3L278.1 150.0L278.6 148.7L278.9 148.2L279.4 147.4L280.1 146.7L281.1 146.1ZM281.0 148.7L280.1 149.8L280.0 150.0L279.7 151.3L279.9 152.6L280.1 153.0L280.8 153.9L281.4 154.3L282.7 154.7L283.9 154.6L285.2 154.3L286.0 153.9L286.5 153.5L287.5 152.6L287.8 151.8L287.9 151.3L287.8 151.0L287.2 150.0L286.5 149.4L285.5 148.7L285.2 148.5L283.9 148.1L282.7 148.0L281.4 148.4ZM313.2 146.9L314.5 146.5L315.7 146.5L317.0 146.8L317.9 147.4L318.3 147.8L318.8 148.7L318.7 150.0L318.3 150.8L318.1 151.3L317.0 152.5L316.9 152.6L315.7 153.2L314.5 153.6L313.2 153.6L311.9 153.1L311.2 152.6L310.6 151.5L310.5 151.3L310.6 150.0L310.6 149.9L311.2 148.7L311.9 147.8L312.5 147.4ZM230.5 157.6L231.8 157.0L233.1 156.7L234.3 156.6L235.6 156.8L236.9 157.3L237.5 157.7L238.2 158.3L238.7 159.0L239.3 160.3L239.4 160.9L239.6 161.6L239.6 162.9L239.5 164.2L239.4 165.1L239.4 165.4L239.3 166.7L239.2 168.0L238.2 168.0L236.9 168.0L235.6 168.0L234.6 168.0L234.9 166.7L235.5 165.4L235.6 165.2L235.9 164.2L236.1 162.9L235.9 161.6L235.6 160.9L235.1 160.3L234.3 159.9L233.1 159.8L232.1 160.3L231.8 160.6L231.2 161.6L231.1 162.9L231.3 164.2L231.7 165.4L231.8 165.8L232.3 166.7L232.7 168.0L231.8 168.0L230.5 168.0L229.3 168.0L228.1 168.0L228.0 166.7L228.0 166.7L227.8 165.4L227.6 164.2L227.5 162.9L227.6 161.6L227.9 160.3L228.0 160.2L228.8 159.0L229.3 158.5L230.3 157.7Z" fill="#f6b0b4" fill-rule="evenodd"/><path d="M248.3 7.0L249.6 7.0L250.9 7.0L251.6 7.0L252.1 8.2L252.2 8.3L253.1 9.6L253.4 10.1L253.8 10.8L254.2 12.1L253.9 13.4L253.4 14.0L252.5 14.7L252.1 14.8L250.9 15.1L249.6 15.2L248.3 15.1L247.1 14.7L247.1 14.7L246.0 13.4L245.8 12.4L245.8 12.1L245.8 11.9L246.1 10.8L246.7 9.6L247.1 8.8L247.4 8.3L247.9 7.0ZM319.5 7.0L320.8 7.0L321.7 7.0L321.8 8.3L322.1 9.1L322.1 9.6L322.3 10.8L322.4 12.1L322.4 13.4L322.1 14.5L322.0 14.7L320.8 15.9L319.5 15.8L318.8 14.7L318.5 13.4L318.5 12.1L318.5 10.8L318.7 9.6L318.9 8.3L319.0 7.0ZM281.4 17.0L282.7 17.1L283.3 17.3L283.9 17.5L285.2 18.3L285.5 18.6L286.4 19.9L286.5 20.0L286.8 21.1L286.8 22.4L286.5 23.7L286.5 23.8L285.9 25.0L285.2 26.0L285.0 26.3L283.9 27.5L283.8 27.6L282.7 28.5L281.4 28.8L280.1 28.3L279.4 27.6L278.9 27.0L278.4 26.3L277.7 25.0L277.6 24.6L277.3 23.7L277.1 22.4L277.1 21.1L277.5 19.9L277.6 19.7L278.3 18.6L278.9 18.0L280.1 17.3L280.2 17.3ZM280.8 22.4L280.9 23.7L281.4 24.2L282.7 23.9L282.8 23.7L283.0 22.4L282.7 21.9L281.4 21.6ZM266.1 22.1L267.1 22.4L267.4 22.8L267.7 23.7L267.6 25.0L267.4 25.7L267.1 26.3L266.1 27.5L265.8 27.6L264.9 27.8L264.7 27.6L264.4 26.3L264.4 25.0L264.6 23.7L264.9 23.1L265.5 22.4ZM188.6 27.5L189.8 27.3L191.1 27.3L192.4 27.3L193.7 27.6L193.7 27.6L194.9 28.1L196.0 28.9L196.2 29.1L197.0 30.2L197.5 31.1L197.6 31.5L197.9 32.7L197.9 34.0L197.8 35.3L197.6 36.6L197.5 37.0L197.1 37.9L196.5 39.2L196.2 39.6L195.3 40.5L194.9 40.8L193.7 41.5L192.4 41.8L192.3 41.8L191.1 41.8L190.3 41.8L189.8 41.7L188.6 41.6L187.3 41.4L186.0 41.4L186.0 40.5L186.0 39.2L186.0 37.9L186.0 37.4L187.3 37.5L188.5 37.9L188.6 37.9L189.8 38.2L191.1 38.3L192.4 38.2L193.2 37.9L193.7 37.7L194.6 36.6L194.9 35.9L195.1 35.3L195.3 34.0L195.2 32.7L194.9 32.0L194.6 31.5L193.7 30.5L192.8 30.2L192.4 30.0L191.1 30.0L189.8 30.1L189.3 30.2L188.6 30.3L187.3 30.6L186.0 30.8L186.0 30.2L186.0 28.9L186.0 27.7L187.3 27.6L187.4 27.6ZM248.3 31.1L249.6 31.0L250.9 31.0L252.1 31.1L253.4 31.3L254.1 31.5L254.7 31.6L256.0 31.9L257.2 32.2L258.5 32.5L259.6 32.7L259.8 32.8L261.0 33.7L261.3 34.0L261.5 35.3L261.5 36.6L261.1 37.9L261.0 38.0L260.4 39.2L259.8 39.8L259.0 40.5L258.5 40.7L257.2 41.3L256.0 41.8L256.0 41.8L254.7 42.1L253.4 42.3L252.1 42.5L250.9 42.7L249.6 42.7L248.3 42.7L247.1 42.6L245.8 42.2L245.0 41.8L244.5 41.4L243.8 40.5L243.5 39.2L243.4 37.9L243.6 36.6L243.9 35.3L244.4 34.0L244.5 33.9L245.3 32.7L245.8 32.3L247.1 31.5L247.1 31.5ZM248.7 34.0L248.3 34.3L247.6 35.3L247.3 36.6L247.6 37.9L248.3 38.9L248.7 39.2L249.6 39.6L250.9 39.8L252.1 39.8L253.4 39.6L254.7 39.2L254.8 39.2L256.0 38.3L256.3 37.9L256.5 36.6L256.0 35.7L255.7 35.3L254.7 34.6L253.7 34.0L253.4 33.9L252.1 33.6L250.9 33.5L249.6 33.6ZM328.4 32.6L329.7 32.5L331.0 32.5L332.3 32.5L333.5 32.5L334.8 32.5L336.1 32.6L337.3 32.6L338.6 32.6L339.9 32.7L341.2 32.6L342.4 32.6L343.7 32.6L345.0 32.6L345.0 32.7L345.0 34.0L345.0 35.3L345.0 36.6L345.0 36.8L343.7 36.8L342.4 36.7L341.2 36.7L339.9 36.6L338.6 36.7L337.3 36.7L336.1 36.9L334.8 37.3L333.6 37.9L334.2 39.2L334.8 39.4L336.1 39.7L337.3 39.8L338.6 39.9L339.9 39.9L341.2 39.9L342.4 39.9L343.7 39.8L345.0 39.8L345.0 40.5L345.0 41.8L345.0 43.0L345.0 43.3L343.7 43.3L342.4 43.3L341.2 43.3L339.9 43.3L338.6 43.3L337.3 43.3L336.1 43.3L334.8 43.4L333.5 43.4L332.3 43.4L331.0 43.4L329.7 43.2L329.0 43.0L328.4 42.9L327.2 42.2L326.6 41.8L325.9 41.2L325.2 40.5L324.6 39.7L324.2 39.2L323.6 37.9L323.4 37.1L323.2 36.6L323.3 35.3L323.4 35.2L324.2 34.0L324.6 33.8L325.9 33.2L327.2 32.9L327.7 32.7ZM281.4 36.0L282.7 36.3L283.0 36.6L283.9 37.6L284.1 37.9L284.9 39.2L285.2 40.0L285.4 40.5L285.6 41.8L285.8 43.0L285.8 44.3L285.6 45.6L285.2 46.9L285.2 46.9L284.3 48.2L283.9 48.6L282.7 49.3L281.4 49.4L280.1 48.8L279.6 48.2L278.9 46.9L278.9 46.8L278.6 45.6L278.4 44.3L278.4 43.0L278.5 41.8L278.7 40.5L278.9 40.0L279.1 39.2L279.7 37.9L280.1 37.0L280.6 36.6ZM305.6 36.4L306.8 36.1L308.1 36.1L309.4 36.2L310.3 36.6L310.6 36.8L311.4 37.9L311.6 39.2L311.6 40.5L311.3 41.8L310.8 43.0L310.6 43.3L310.0 44.3L309.4 45.2L308.9 45.6L308.1 46.3L307.0 46.9L306.8 47.0L305.6 47.4L304.3 47.6L303.0 47.5L301.7 46.9L301.7 46.9L300.9 45.6L300.8 44.3L300.9 43.0L301.2 41.8L301.6 40.5L301.7 40.1L302.2 39.2L303.0 38.0L303.1 37.9L304.3 37.0L305.1 36.6ZM304.9 39.2L304.3 39.8L303.9 40.5L303.6 41.8L303.7 43.0L304.3 44.0L305.4 44.3L305.6 44.4L305.6 44.3L306.8 43.8L307.6 43.0L308.1 42.3L308.3 41.8L308.5 40.5L308.1 39.4L307.9 39.2L306.8 38.7L305.6 38.8ZM187.3 60.4L188.6 60.4L189.8 60.4L191.1 60.4L192.4 60.4L193.7 60.4L194.9 60.3L196.2 60.4L197.5 60.7L198.2 61.1L198.7 61.6L199.2 62.4L199.6 63.7L199.5 65.0L198.7 65.7L197.5 65.4L196.2 65.0L196.2 64.9L194.9 64.4L193.7 64.1L192.4 64.0L191.1 64.0L189.8 64.0L188.6 64.1L187.3 64.1L186.0 64.2L186.0 63.7L186.0 62.4L186.0 61.1L186.0 60.4ZM315.7 61.0L317.0 60.9L318.3 60.8L319.5 60.7L320.8 60.5L322.1 60.4L323.4 60.4L324.6 60.4L325.9 60.5L327.2 60.9L327.6 61.1L328.4 61.6L329.1 62.4L329.6 63.7L329.4 65.0L328.9 66.2L328.4 66.9L327.9 67.5L327.2 68.3L326.5 68.8L325.9 69.3L324.6 70.1L324.6 70.1L323.4 70.9L322.5 71.4L322.1 71.7L320.8 72.6L320.6 72.7L319.5 73.5L318.9 74.0L318.3 74.4L317.0 75.1L316.8 75.3L315.7 75.8L314.5 76.4L314.3 76.5L313.2 77.1L311.9 77.8L311.9 77.8L310.6 78.5L309.4 79.1L309.4 79.1L308.1 79.5L306.8 79.7L305.6 79.7L304.3 79.6L303.0 79.2L302.7 79.1L301.7 78.8L300.5 78.3L299.4 77.8L299.2 77.7L297.9 77.1L296.9 76.5L296.7 76.4L295.5 75.3L295.4 75.2L294.7 74.0L294.2 72.7L294.1 72.5L293.9 71.4L293.7 70.1L293.7 68.8L293.9 67.5L294.1 66.6L294.2 66.2L294.9 65.0L295.4 64.4L296.1 63.7L296.7 63.3L297.9 62.7L298.7 62.4L299.2 62.2L300.5 61.9L301.7 61.8L303.0 61.7L304.3 61.6L305.6 61.5L306.8 61.5L308.1 61.4L309.4 61.4L310.6 61.4L311.9 61.3L313.2 61.2L314.5 61.1L315.1 61.1ZM299.5 66.2L299.2 66.4L297.9 67.3L297.7 67.5L297.0 68.8L296.7 70.1L296.9 71.4L297.5 72.7L297.9 73.2L298.9 74.0L299.2 74.1L300.5 74.6L301.7 75.0L303.0 75.0L304.3 74.7L305.3 74.0L305.6 73.5L306.0 72.7L306.5 71.4L306.8 70.8L307.4 70.1L308.1 69.3L308.7 68.8L309.4 68.1L310.1 67.5L309.7 66.2L309.4 66.1L308.1 65.8L306.8 65.6L305.6 65.5L304.3 65.4L303.0 65.5L301.7 65.6L300.5 65.9ZM240.7 63.5L242.0 62.8L243.2 63.0L244.4 63.7L244.5 63.7L245.8 64.7L246.1 65.0L247.1 65.7L247.9 66.2L248.3 66.5L249.6 67.1L250.9 67.4L252.1 67.5L253.4 67.4L254.7 67.0L255.2 66.2L255.5 65.0L256.0 63.9L256.1 63.7L257.2 62.8L258.5 62.6L259.8 63.6L259.8 63.7L259.8 63.7L259.1 65.0L258.5 65.6L257.6 66.2L257.2 66.5L256.0 67.2L255.4 67.5L255.4 68.8L255.6 70.1L256.0 70.9L256.1 71.4L256.8 72.7L257.2 73.2L257.7 74.0L258.4 75.3L258.5 75.4L258.9 76.5L259.2 77.8L259.2 79.1L258.5 80.3L258.5 80.4L257.2 81.3L256.7 81.7L256.0 82.1L254.7 83.0L254.7 83.0L253.5 84.3L253.4 84.5L253.0 85.6L252.8 86.9L253.0 88.1L253.4 89.2L253.5 89.4L254.5 90.7L254.7 91.0L255.9 92.0L256.0 92.1L257.2 93.0L257.7 93.3L258.5 94.1L259.0 94.6L259.2 95.9L258.5 97.2L258.5 97.2L257.2 97.9L256.0 98.3L254.7 98.4L253.4 98.3L252.1 98.1L250.9 97.9L249.6 97.6L248.3 97.2L248.2 97.2L247.1 96.7L245.8 96.1L245.5 95.9L244.5 95.1L244.0 94.6L243.2 93.6L243.0 93.3L242.2 92.0L242.0 91.5L241.5 90.7L240.9 89.4L240.7 89.1L240.2 88.1L239.4 86.9L239.4 86.9L238.5 85.6L238.2 85.1L237.5 84.3L236.9 83.4L236.6 83.0L235.8 81.7L235.6 81.4L235.1 80.4L234.8 79.1L234.6 77.8L234.6 76.5L234.8 75.3L235.1 74.0L235.5 72.7L235.6 72.3L236.0 71.4L236.6 70.1L236.9 69.5L237.2 68.8L237.9 67.5L238.2 67.0L238.6 66.2L239.4 65.0L239.4 64.9L240.5 63.7ZM241.6 67.5L240.7 68.2L240.3 68.8L239.5 70.1L239.4 70.2L238.9 71.4L238.4 72.7L238.2 73.4L238.0 74.0L237.7 75.3L237.6 76.5L237.8 77.8L238.1 79.1L238.2 79.3L238.7 80.4L239.4 81.5L239.6 81.7L240.5 83.0L240.7 83.3L241.3 84.3L242.0 85.5L242.0 85.6L242.6 86.9L243.2 88.1L243.2 88.4L243.7 89.4L244.3 90.7L244.5 91.1L245.1 92.0L245.8 93.0L246.0 93.3L247.1 94.3L247.4 94.6L248.3 95.2L249.6 95.8L249.9 95.9L250.9 96.1L252.1 96.4L253.4 96.5L254.7 96.3L255.8 95.9L255.7 94.6L254.7 93.5L254.6 93.3L253.4 92.2L253.3 92.0L252.3 90.7L252.1 90.4L251.6 89.4L251.2 88.1L251.0 86.9L251.0 85.6L251.2 84.3L251.7 83.0L252.1 82.4L252.8 81.7L253.4 81.2L254.7 80.5L254.8 80.4L256.0 79.5L256.3 79.1L256.7 77.8L256.3 76.5L256.0 76.1L255.2 75.3L254.7 74.7L253.7 74.0L253.4 73.7L252.1 72.7L252.1 72.7L250.9 71.8L250.3 71.4L249.6 70.9L248.4 70.1L248.3 70.1L247.1 69.3L246.3 68.8L245.8 68.5L244.5 67.8L243.9 67.5L243.2 67.3L242.0 67.3ZM187.3 75.0L188.6 75.0L189.8 75.0L191.1 75.0L192.4 75.0L193.7 75.0L194.9 75.0L196.2 75.0L197.5 75.2L197.7 75.3L198.6 76.5L198.7 77.5L198.8 77.8L198.7 78.0L198.5 79.1L197.5 80.4L197.4 80.4L196.2 80.9L194.9 81.2L193.7 81.3L192.4 81.3L191.1 81.3L189.8 81.3L188.6 81.3L187.3 81.3L186.0 81.3L186.0 80.4L186.0 79.1L186.0 77.8L186.0 76.5L186.0 75.3L186.0 75.0ZM271.2 90.5L272.5 90.3L273.8 90.3L275.0 90.4L276.2 90.7L276.3 90.8L277.6 91.2L278.9 91.9L279.0 92.0L280.1 93.3L280.2 93.3L280.5 94.6L280.1 95.7L280.1 95.9L279.1 97.2L278.9 97.4L277.6 98.5L277.6 98.5L276.3 99.1L275.0 99.5L273.8 99.5L272.5 99.2L271.2 98.5L271.2 98.4L270.1 97.2L270.0 96.9L269.4 95.9L269.0 94.6L269.0 93.3L269.3 92.0L270.0 91.2L270.6 90.7ZM271.8 93.3L271.3 94.6L271.5 95.9L272.5 97.2L272.5 97.2L273.8 97.7L275.0 97.6L276.2 97.2L276.3 97.1L277.4 95.9L277.5 94.6L276.6 93.3L276.3 93.1L275.0 92.5L273.8 92.4L272.5 92.7ZM311.9 91.7L313.2 91.5L314.5 91.2L315.7 91.0L317.0 90.8L318.3 90.7L319.5 90.8L320.8 91.5L321.3 92.0L322.1 93.0L322.3 93.3L323.0 94.6L323.4 95.1L323.7 95.9L324.3 97.2L324.6 98.0L324.8 98.5L325.1 99.7L325.3 101.0L325.5 102.3L325.6 103.6L325.6 104.9L325.6 106.2L325.5 107.5L325.4 108.8L325.5 110.0L325.8 111.3L325.9 111.4L326.7 112.6L327.2 113.2L327.6 113.9L328.1 115.2L328.2 116.5L328.1 117.8L327.8 119.1L327.2 120.3L327.1 120.4L326.2 121.6L325.9 122.0L325.1 122.9L324.6 123.4L323.9 124.2L323.4 124.7L322.5 125.5L322.1 125.8L321.0 126.8L320.8 126.9L319.5 128.1L319.5 128.1L318.3 129.4L318.3 129.4L317.1 130.7L317.0 130.8L316.0 132.0L315.7 132.3L314.8 133.2L314.5 133.7L313.2 134.4L311.9 134.4L310.6 133.8L310.0 133.2L309.4 132.7L308.6 132.0L308.1 131.3L307.6 130.7L306.8 129.5L306.8 129.4L306.3 128.1L306.1 126.8L306.1 125.5L306.4 124.2L306.7 122.9L306.8 122.4L307.0 121.6L307.1 120.4L306.8 119.4L306.7 119.1L305.6 117.8L305.5 117.8L304.3 117.2L303.0 116.8L302.1 116.5L301.7 116.4L300.5 115.8L299.6 115.2L299.2 114.8L298.7 113.9L298.4 112.6L298.4 111.3L298.6 110.0L299.0 108.8L299.2 108.2L299.4 107.5L299.9 106.2L300.3 104.9L300.5 103.9L300.5 103.6L300.7 102.3L300.8 101.0L301.0 99.7L301.2 98.5L301.7 97.2L301.7 97.1L302.7 95.9L303.0 95.6L304.3 94.6L304.4 94.6L305.6 93.9L306.8 93.3L306.9 93.3L308.1 92.8L309.4 92.4L310.6 92.1L310.8 92.0ZM309.2 94.6L308.1 95.1L306.8 95.7L306.5 95.9L305.6 96.7L305.1 97.2L304.3 98.3L304.2 98.5L303.7 99.7L303.5 101.0L303.3 102.3L303.0 103.6L303.0 103.7L302.7 104.9L302.4 106.2L302.0 107.5L301.7 108.6L301.7 108.8L301.5 110.0L301.7 111.3L301.7 111.5L302.4 112.6L303.0 113.1L304.3 113.8L304.6 113.9L305.6 114.3L306.8 114.8L307.6 115.2L308.1 115.5L309.3 116.5L309.4 116.6L310.2 117.8L310.6 119.1L310.6 120.4L310.3 121.6L309.9 122.9L309.4 124.2L309.4 124.4L309.1 125.5L308.9 126.8L309.1 128.1L309.4 128.7L309.8 129.4L310.6 130.2L311.4 130.7L311.9 130.9L313.2 130.8L313.5 130.7L314.5 130.0L315.1 129.4L315.7 128.8L316.4 128.1L317.0 127.4L317.6 126.8L318.3 126.2L319.0 125.5L319.5 125.0L320.4 124.2L320.8 123.9L321.7 122.9L322.1 122.5L322.8 121.6L323.4 120.7L323.6 120.4L323.9 119.1L323.7 117.8L323.4 117.1L322.9 116.5L322.1 115.7L321.4 115.2L320.8 114.8L319.7 113.9L319.5 113.8L318.5 112.6L318.3 111.7L318.2 111.3L318.3 111.0L318.6 110.0L319.5 109.1L319.9 108.8L320.8 108.1L321.5 107.5L322.1 106.8L322.4 106.2L322.9 104.9L323.2 103.6L323.1 102.3L322.8 101.0L322.4 99.7L322.1 99.1L321.7 98.5L320.8 97.3L320.7 97.2L319.5 95.9L319.5 95.9L318.3 94.9L317.8 94.6L317.0 94.2L315.7 93.9L314.5 93.8L313.2 93.8L311.9 93.9L310.6 94.2L309.4 94.5ZM221.6 94.5L222.9 93.7L224.2 93.4L225.4 93.8L226.3 94.6L226.5 95.9L225.8 97.2L225.4 97.5L224.2 98.4L224.0 98.5L222.9 98.8L221.6 99.0L220.7 98.5L220.4 97.4L220.3 97.2L220.4 97.0L220.6 95.9L221.5 94.6ZM229.3 115.7L230.5 115.8L231.0 116.5L231.3 117.8L230.5 118.9L229.3 118.3L228.9 117.8L228.8 116.5ZM196.2 119.0L197.5 118.9L198.7 118.9L200.0 118.9L201.3 119.0L201.9 119.1L202.6 119.5L203.0 120.4L202.6 121.1L202.3 121.6L201.3 122.5L200.8 122.9L200.0 123.5L199.0 124.2L198.7 124.4L197.5 125.3L197.2 125.5L196.2 126.5L195.9 126.8L195.0 128.1L194.9 128.3L194.4 129.4L193.9 130.7L193.7 131.2L192.8 132.0L192.4 132.2L191.1 132.3L189.8 132.1L189.2 132.0L188.6 131.7L187.3 131.0L186.0 130.7L186.0 130.7L186.0 129.4L186.0 128.1L186.0 126.8L186.0 125.5L186.0 124.2L186.0 122.9L186.0 121.6L186.0 120.4L186.0 119.3L187.3 119.3L188.6 119.3L189.8 119.4L191.1 119.4L192.4 119.4L193.7 119.3L194.9 119.2L195.6 119.1ZM337.3 125.1L338.6 124.8L339.9 124.8L341.2 124.9L342.4 125.0L343.7 125.1L345.0 125.2L345.0 125.5L345.0 126.8L345.0 128.1L345.0 129.4L345.0 130.7L345.0 132.0L345.0 133.2L345.0 134.5L345.0 135.8L345.0 137.1L345.0 138.4L345.0 139.7L345.0 141.0L345.0 142.3L345.0 143.5L345.0 144.8L345.0 146.1L345.0 147.4L345.0 148.7L345.0 150.0L345.0 151.3L345.0 152.6L345.0 153.5L343.7 153.5L342.4 153.6L341.2 153.6L339.9 153.6L338.6 153.6L337.3 153.6L336.1 153.4L334.8 153.2L333.5 152.8L332.7 152.6L332.3 152.4L331.0 151.6L330.5 151.3L329.7 150.0L329.7 149.8L329.6 148.7L329.7 148.3L329.9 147.4L330.5 146.1L331.0 145.2L331.2 144.8L331.6 143.5L331.7 142.3L331.4 141.0L331.0 140.0L330.9 139.7L330.6 138.4L330.5 137.1L330.7 135.8L331.0 135.1L331.2 134.5L331.9 133.2L332.3 132.7L332.6 132.0L333.2 130.7L333.5 129.9L333.7 129.4L334.3 128.1L334.8 127.2L335.1 126.8L336.1 125.8L336.5 125.5ZM338.5 147.4L337.3 148.4L337.1 148.7L337.3 149.0L338.6 150.0L338.6 150.0L339.9 150.0L340.9 150.0L341.2 149.9L342.4 149.4L343.7 148.9L344.5 148.7L343.7 148.5L342.4 148.0L341.2 147.4L341.2 147.4L339.9 147.3L338.6 147.4ZM262.3 127.9L263.6 127.4L264.9 127.3L266.1 127.9L266.3 128.1L267.1 129.4L267.4 130.2L267.6 130.7L267.7 132.0L267.7 133.2L267.4 134.2L267.3 134.5L266.3 135.8L266.1 135.9L264.9 136.6L263.6 136.8L262.3 136.7L261.0 136.2L260.5 135.8L259.8 135.0L259.5 134.5L259.3 133.2L259.5 132.0L259.8 131.2L260.0 130.7L260.7 129.4L261.0 129.0L262.0 128.1ZM229.3 145.9L230.5 145.7L231.8 145.6L233.1 145.5L234.3 145.4L235.6 145.4L236.9 145.5L238.2 145.6L239.4 145.6L240.7 145.6L242.0 145.6L243.2 145.5L244.5 145.3L245.8 145.2L247.1 145.2L248.3 145.2L249.6 145.4L250.9 145.7L252.1 146.0L252.4 146.1L253.4 146.4L254.7 146.8L256.0 147.1L257.2 147.3L258.5 147.3L259.8 147.2L261.0 147.0L262.3 147.0L263.6 147.2L264.0 147.4L264.9 147.8L265.7 148.7L266.1 149.3L266.5 150.0L266.8 151.3L267.0 152.6L266.8 153.9L266.5 155.1L266.1 156.2L266.0 156.4L265.2 157.7L264.9 158.2L263.6 158.9L262.3 159.0L261.0 158.7L259.8 158.3L258.5 158.0L257.2 158.1L256.0 158.7L255.6 159.0L254.7 160.1L254.6 160.3L254.2 161.6L254.1 162.9L254.2 164.2L254.4 165.4L254.6 166.7L254.7 167.5L254.7 168.0L254.7 168.0L253.4 168.0L252.1 168.0L250.9 168.0L250.2 168.0L250.1 166.7L249.9 165.4L249.8 164.2L249.7 162.9L249.8 161.6L250.1 160.3L250.8 159.0L250.9 158.9L251.7 157.7L252.1 157.3L253.0 156.4L253.4 156.0L254.6 155.1L254.7 155.0L256.0 154.2L257.2 153.9L257.2 153.8L258.5 153.8L258.6 153.9L259.8 154.1L261.0 154.3L262.3 154.3L263.3 153.9L263.6 153.4L263.9 152.6L263.6 151.6L263.4 151.3L262.3 150.8L261.0 150.7L259.8 150.8L258.5 151.0L257.2 151.0L256.0 150.7L254.7 150.3L254.0 150.0L253.4 149.8L252.1 149.4L250.9 149.1L249.6 148.8L248.3 148.8L247.1 149.0L245.8 149.3L244.5 149.7L243.6 150.0L243.2 150.1L242.0 150.7L240.7 151.1L239.8 151.3L239.4 151.9L239.1 152.6L239.4 152.7L240.4 153.9L240.7 154.1L241.4 155.1L242.0 156.0L242.2 156.4L242.9 157.7L243.2 158.6L243.5 159.0L243.9 160.3L244.2 161.6L244.2 162.9L244.1 164.2L244.0 165.4L243.9 166.7L243.8 168.0L243.2 168.0L242.0 168.0L240.7 168.0L239.4 168.0L239.2 168.0L239.3 166.7L239.4 165.4L239.4 165.1L239.5 164.2L239.6 162.9L239.6 161.6L239.4 160.9L239.3 160.3L238.7 159.0L238.2 158.3L237.5 157.7L236.9 157.3L235.6 156.8L234.3 156.6L233.1 156.7L231.8 157.0L230.5 157.6L230.3 157.7L229.3 158.5L228.8 159.0L228.0 160.2L227.9 160.3L227.6 161.6L227.5 162.9L227.6 164.2L227.8 165.4L228.0 166.7L228.0 166.7L228.1 168.0L228.0 168.0L226.7 168.0L225.4 168.0L224.2 168.0L223.9 168.0L223.8 166.7L223.6 165.4L223.3 164.2L223.2 162.9L223.3 161.6L223.7 160.3L224.2 159.7L224.6 159.0L225.4 158.0L225.7 157.7L226.7 156.6L226.9 156.4L228.0 155.5L228.5 155.1L229.3 154.5L230.5 153.9L230.7 153.9L231.8 153.3L233.1 152.9L234.3 152.7L235.0 152.6L235.6 152.3L236.9 151.8L237.9 151.3L236.9 151.0L235.6 150.4L234.8 150.0L234.3 149.9L233.1 149.7L231.8 149.6L230.5 149.5L229.3 149.5L228.0 149.5L226.7 149.4L225.4 149.3L224.2 149.2L222.9 149.2L221.6 149.2L220.4 149.4L219.1 149.7L218.3 150.0L217.8 150.2L216.5 151.2L216.5 151.3L215.7 152.6L215.4 153.9L215.5 155.1L215.9 156.4L216.4 157.7L216.5 158.1L217.0 159.0L217.6 160.3L217.8 161.4L217.9 161.6L218.0 162.9L217.8 164.2L217.8 164.3L217.7 165.4L217.5 166.7L217.5 168.0L216.5 168.0L215.3 168.0L214.5 168.0L214.5 166.7L214.6 165.4L214.7 164.2L214.8 162.9L214.7 161.6L214.6 160.3L214.2 159.0L214.0 158.3L213.8 157.7L213.4 156.4L213.1 155.1L213.0 153.9L213.2 152.6L213.9 151.3L214.0 151.2L215.1 150.0L215.3 149.8L216.5 148.9L216.9 148.7L217.8 148.3L219.1 147.8L220.4 147.5L220.6 147.4L221.6 147.2L222.9 147.0L224.2 146.8L225.4 146.6L226.7 146.4L228.0 146.2L228.4 146.1ZM198.7 147.3L200.0 147.3L200.5 147.4L201.3 147.6L202.6 148.1L203.3 148.7L203.8 149.2L204.6 150.0L205.1 150.8L205.4 151.3L205.7 152.6L205.5 153.9L205.1 154.7L204.9 155.1L203.8 156.2L203.4 156.4L202.6 156.8L201.3 156.9L200.0 156.6L199.7 156.4L198.7 156.0L197.5 155.4L196.8 155.1L196.2 154.8L194.9 154.3L193.7 154.0L192.9 153.9L192.4 153.8L191.1 153.7L189.8 153.8L189.1 153.9L188.6 153.9L187.3 154.0L186.0 154.0L186.0 153.9L186.0 152.6L186.0 151.3L186.0 150.0L186.0 148.7L186.0 148.3L187.3 148.3L188.6 148.4L189.8 148.5L191.1 148.5L192.4 148.5L193.7 148.3L194.9 148.1L196.2 147.8L197.5 147.5L197.9 147.4ZM197.1 151.3L197.5 152.2L197.6 152.6L198.7 153.2L200.0 153.7L201.3 153.7L202.4 152.6L202.1 151.3L201.3 150.6L200.0 150.2L198.7 150.3L197.5 151.0ZM281.4 148.4L282.7 148.0L283.9 148.1L285.2 148.5L285.5 148.7L286.5 149.4L287.2 150.0L287.8 151.0L287.9 151.3L287.8 151.8L287.5 152.6L286.5 153.5L286.0 153.9L285.2 154.3L283.9 154.6L282.7 154.7L281.4 154.3L280.8 153.9L280.1 153.0L279.9 152.6L279.7 151.3L280.0 150.0L280.1 149.8L281.0 148.7Z" fill="#ec3040" fill-rule="evenodd"/><path d="M281.4 21.6L282.7 21.9L283.0 22.4L282.8 23.7L282.7 23.9L281.4 24.2L280.9 23.7L280.8 22.4ZM189.8 30.1L191.1 30.0L192.4 30.0L192.8 30.2L193.7 30.5L194.6 31.5L194.9 32.0L195.2 32.7L195.3 34.0L195.1 35.3L194.9 35.9L194.6 36.6L193.7 37.7L193.2 37.9L192.4 38.2L191.1 38.3L189.8 38.2L188.6 37.9L188.5 37.9L187.3 37.5L186.0 37.4L186.0 36.6L186.0 35.3L186.0 34.0L186.0 32.7L186.0 31.5L186.0 30.8L187.3 30.6L188.6 30.3L189.3 30.2ZM249.6 33.6L250.9 33.5L252.1 33.6L253.4 33.9L253.7 34.0L254.7 34.6L255.7 35.3L256.0 35.7L256.5 36.6L256.3 37.9L256.0 38.3L254.8 39.2L254.7 39.2L253.4 39.6L252.1 39.8L250.9 39.8L249.6 39.6L248.7 39.2L248.3 38.9L247.6 37.9L247.3 36.6L247.6 35.3L248.3 34.3L248.7 34.0ZM334.8 37.3L336.1 36.9L337.3 36.7L338.6 36.7L339.9 36.6L341.2 36.7L342.4 36.7L343.7 36.8L345.0 36.8L345.0 37.9L345.0 39.2L345.0 39.8L343.7 39.8L342.4 39.9L341.2 39.9L339.9 39.9L338.6 39.9L337.3 39.8L336.1 39.7L334.8 39.4L334.2 39.2L333.6 37.9ZM305.6 38.8L306.8 38.7L307.9 39.2L308.1 39.4L308.5 40.5L308.3 41.8L308.1 42.3L307.6 43.0L306.8 43.8L305.6 44.3L305.6 44.4L305.4 44.3L304.3 44.0L303.7 43.0L303.6 41.8L303.9 40.5L304.3 39.8L304.9 39.2ZM300.5 65.9L301.7 65.6L303.0 65.5L304.3 65.4L305.6 65.5L306.8 65.6L308.1 65.8L309.4 66.1L309.7 66.2L310.1 67.5L309.4 68.1L308.7 68.8L308.1 69.3L307.4 70.1L306.8 70.8L306.5 71.4L306.0 72.7L305.6 73.5L305.3 74.0L304.3 74.7L303.0 75.0L301.7 75.0L300.5 74.6L299.2 74.1L298.9 74.0L297.9 73.2L297.5 72.7L296.9 71.4L296.7 70.1L297.0 68.8L297.7 67.5L297.9 67.3L299.2 66.4L299.5 66.2ZM242.0 67.3L243.2 67.3L243.9 67.5L244.5 67.8L245.8 68.5L246.3 68.8L247.1 69.3L248.3 70.1L248.4 70.1L249.6 70.9L250.3 71.4L250.9 71.8L252.1 72.7L252.1 72.7L253.4 73.7L253.7 74.0L254.7 74.7L255.2 75.3L256.0 76.1L256.3 76.5L256.7 77.8L256.3 79.1L256.0 79.5L254.8 80.4L254.7 80.5L253.4 81.2L252.8 81.7L252.1 82.4L251.7 83.0L251.2 84.3L251.0 85.6L251.0 86.9L251.2 88.1L251.6 89.4L252.1 90.4L252.3 90.7L253.3 92.0L253.4 92.2L254.6 93.3L254.7 93.5L255.7 94.6L255.8 95.9L254.7 96.3L253.4 96.5L252.1 96.4L250.9 96.1L249.9 95.9L249.6 95.8L248.3 95.2L247.4 94.6L247.1 94.3L246.0 93.3L245.8 93.0L245.1 92.0L244.5 91.1L244.3 90.7L243.7 89.4L243.2 88.4L243.2 88.1L242.6 86.9L242.0 85.6L242.0 85.5L241.3 84.3L240.7 83.3L240.5 83.0L239.6 81.7L239.4 81.5L238.7 80.4L238.2 79.3L238.1 79.1L237.8 77.8L237.6 76.5L237.7 75.3L238.0 74.0L238.2 73.4L238.4 72.7L238.9 71.4L239.4 70.2L239.5 70.1L240.3 68.8L240.7 68.2L241.6 67.5ZM272.5 92.7L273.8 92.4L275.0 92.5L276.3 93.1L276.6 93.3L277.5 94.6L277.4 95.9L276.3 97.1L276.2 97.2L275.0 97.6L273.8 97.7L272.5 97.2L272.5 97.2L271.5 95.9L271.3 94.6L271.8 93.3ZM309.4 94.5L310.6 94.2L311.9 93.9L313.2 93.8L314.5 93.8L315.7 93.9L317.0 94.2L317.8 94.6L318.3 94.9L319.5 95.9L319.5 95.9L320.7 97.2L320.8 97.3L321.7 98.5L322.1 99.1L322.4 99.7L322.8 101.0L323.1 102.3L323.2 103.6L322.9 104.9L322.4 106.2L322.1 106.8L321.5 107.5L320.8 108.1L319.9 108.8L319.5 109.1L318.6 110.0L318.3 111.0L318.2 111.3L318.3 111.7L318.5 112.6L319.5 113.8L319.7 113.9L320.8 114.8L321.4 115.2L322.1 115.7L322.9 116.5L323.4 117.1L323.7 117.8L323.9 119.1L323.6 120.4L323.4 120.7L322.8 121.6L322.1 122.5L321.7 122.9L320.8 123.9L320.4 124.2L319.5 125.0L319.0 125.5L318.3 126.2L317.6 126.8L317.0 127.4L316.4 128.1L315.7 128.8L315.1 129.4L314.5 130.0L313.5 130.7L313.2 130.8L311.9 130.9L311.4 130.7L310.6 130.2L309.8 129.4L309.4 128.7L309.1 128.1L308.9 126.8L309.1 125.5L309.4 124.4L309.4 124.2L309.9 122.9L310.3 121.6L310.6 120.4L310.6 119.1L310.2 117.8L309.4 116.6L309.3 116.5L308.1 115.5L307.6 115.2L306.8 114.8L305.6 114.3L304.6 113.9L304.3 113.8L303.0 113.1L302.4 112.6L301.7 111.5L301.7 111.3L301.5 110.0L301.7 108.8L301.7 108.6L302.0 107.5L302.4 106.2L302.7 104.9L303.0 103.7L303.0 103.6L303.3 102.3L303.5 101.0L303.7 99.7L304.2 98.5L304.3 98.3L305.1 97.2L305.6 96.7L306.5 95.9L306.8 95.7L308.1 95.1L309.2 94.6ZM338.6 147.4L339.9 147.3L341.2 147.4L341.2 147.4L342.4 148.0L343.7 148.5L344.5 148.7L343.7 148.9L342.4 149.4L341.2 149.9L340.9 150.0L339.9 150.0L338.6 150.0L338.6 150.0L337.3 149.0L337.1 148.7L337.3 148.4L338.5 147.4ZM219.1 149.7L220.4 149.4L221.6 149.2L222.9 149.2L224.2 149.2L225.4 149.3L226.7 149.4L228.0 149.5L229.3 149.5L230.5 149.5L231.8 149.6L233.1 149.7L234.3 149.9L234.8 150.0L235.6 150.4L236.9 151.0L237.9 151.3L236.9 151.8L235.6 152.3L235.0 152.6L234.3 152.7L233.1 152.9L231.8 153.3L230.7 153.9L230.5 153.9L229.3 154.5L228.5 155.1L228.0 155.5L226.9 156.4L226.7 156.6L225.7 157.7L225.4 158.0L224.6 159.0L224.2 159.7L223.7 160.3L223.3 161.6L223.2 162.9L223.3 164.2L223.6 165.4L223.8 166.7L223.9 168.0L222.9 168.0L221.6 168.0L220.4 168.0L219.1 168.0L217.8 168.0L217.5 168.0L217.5 166.7L217.7 165.4L217.8 164.3L217.8 164.2L218.0 162.9L217.9 161.6L217.8 161.4L217.6 160.3L217.0 159.0L216.5 158.1L216.4 157.7L215.9 156.4L215.5 155.1L215.4 153.9L215.7 152.6L216.5 151.3L216.5 151.2L217.8 150.2L218.3 150.0ZM244.5 149.7L245.8 149.3L247.1 149.0L248.3 148.8L249.6 148.8L250.9 149.1L252.1 149.4L253.4 149.8L254.0 150.0L254.7 150.3L256.0 150.7L257.2 151.0L258.5 151.0L259.8 150.8L261.0 150.7L262.3 150.8L263.4 151.3L263.6 151.6L263.9 152.6L263.6 153.4L263.3 153.9L262.3 154.3L261.0 154.3L259.8 154.1L258.6 153.9L258.5 153.8L257.2 153.8L257.2 153.9L256.0 154.2L254.7 155.0L254.6 155.1L253.4 156.0L253.0 156.4L252.1 157.3L251.7 157.7L250.9 158.9L250.8 159.0L250.1 160.3L249.8 161.6L249.7 162.9L249.8 164.2L249.9 165.4L250.1 166.7L250.2 168.0L249.6 168.0L248.3 168.0L247.1 168.0L245.8 168.0L244.5 168.0L243.8 168.0L243.9 166.7L244.0 165.4L244.1 164.2L244.2 162.9L244.2 161.6L243.9 160.3L243.5 159.0L243.2 158.6L242.9 157.7L242.2 156.4L242.0 156.0L241.4 155.1L240.7 154.1L240.4 153.9L239.4 152.7L239.1 152.6L239.4 151.9L239.8 151.3L240.7 151.1L242.0 150.7L243.2 150.1L243.6 150.0ZM197.5 151.0L198.7 150.3L200.0 150.2L201.3 150.6L202.1 151.3L202.4 152.6L201.3 153.7L200.0 153.7L198.7 153.2L197.6 152.6L197.5 152.2L197.1 151.3Z" fill="#e2001a" fill-rule="evenodd"/></g>
</g>
<rect x="323" y="160" width="16" height="1.6" fill="#222"/>
<rect x="269" y="170.2" width="62.4" height="6.9" fill="url(#cbar)" stroke="#666" stroke-width="0.4"/>
<text x="255.2" y="188.4" font-size="9.2" fill="#222">−100</text>
<text x="281.6" y="188.4" font-size="9.2" fill="#222" font-style="italic">E</text>
<text x="287.6" y="190.4" font-size="6.4" fill="#222">d</text>
<text x="293" y="188.4" font-size="9.2" fill="#222" textLength="25.5" lengthAdjust="spacing">(meV)</text>
<text x="323.4" y="188.4" font-size="9.2" fill="#222" textLength="14.4" lengthAdjust="spacingAndGlyphs">100</text>
<polygon points="393,9.5 396,7 504,7 537.5,42.3 536,43.3 423,43.5" fill="url(#hexTop)"/>
<text x="532.6" y="24.2" font-size="8.6" fill="#222">h-BN</text>
<path d="M471.1,45.1 L476.2,45.1 L476.2,52.5 L478.8,52.5 L473.6,58.2 L468.5,52.5 L471.1,52.5 Z" fill="#ee1111"/>
<path d="M470.4,116.7 L475.6,116.7 L475.6,123.8 L478.1,123.8 L473.0,129.7 L467.9,123.8 L470.4,123.8 Z" fill="#ee1111"/>
<circle cx="446.3" cy="63.6" r="2.5" fill="url(#ballS)"/>
<text x="450.5" y="66" font-size="6.6" font-weight="bold" fill="#444">S</text>
<circle cx="461.2" cy="63.6" r="2.4" fill="url(#ballW)"/>
<text x="464.8" y="66" font-size="6.6" font-weight="bold" fill="#444">W</text>
<g><circle cx="409.0" cy="78.9" r="2.8" fill="url(#ballS)"/><circle cx="418.4" cy="78.9" r="2.8" fill="url(#ballS)"/><circle cx="427.8" cy="78.9" r="2.8" fill="url(#ballS)"/><circle cx="437.1" cy="78.9" r="2.8" fill="url(#ballS)"/><circle cx="446.5" cy="78.9" r="2.8" fill="url(#ballS)"/><circle cx="455.8" cy="78.9" r="2.8" fill="url(#ballS)"/><circle cx="465.2" cy="78.9" r="2.8" fill="url(#ballS)"/><circle cx="474.5" cy="78.9" r="2.8" fill="url(#ballS)"/><circle cx="483.9" cy="78.9" r="2.8" fill="url(#ballS)"/><circle cx="493.3" cy="78.9" r="2.8" fill="url(#ballS)"/><circle cx="502.6" cy="78.9" r="2.8" fill="url(#ballS)"/><circle cx="400.1" cy="84.4" r="2.25" fill="url(#ballW)"/><circle cx="404.8" cy="84.4" r="2.8" fill="url(#ballS)"/><circle cx="409.5" cy="84.4" r="2.25" fill="url(#ballW)"/><circle cx="414.2" cy="84.4" r="2.8" fill="url(#ballS)"/><circle cx="418.8" cy="84.4" r="2.25" fill="url(#ballW)"/><circle cx="423.5" cy="84.4" r="2.8" fill="url(#ballS)"/><circle cx="428.2" cy="84.4" r="2.25" fill="url(#ballW)"/><circle cx="432.9" cy="84.4" r="2.8" fill="url(#ballS)"/><circle cx="437.6" cy="84.4" r="2.25" fill="url(#ballW)"/><circle cx="442.2" cy="84.4" r="2.8" fill="url(#ballS)"/><circle cx="446.9" cy="84.4" r="2.25" fill="url(#ballW)"/><circle cx="451.6" cy="84.4" r="2.8" fill="url(#ballS)"/><circle cx="456.3" cy="84.4" r="2.25" fill="url(#ballW)"/><circle cx="461.0" cy="84.4" r="2.8" fill="url(#ballS)"/><circle cx="465.6" cy="84.4" r="2.25" fill="url(#ballW)"/><circle cx="470.3" cy="84.4" r="2.8" fill="url(#ballS)"/><circle cx="475.0" cy="84.4" r="2.25" fill="url(#ballW)"/><circle cx="479.7" cy="84.4" r="2.8" fill="url(#ballS)"/><circle cx="484.4" cy="84.4" r="2.25" fill="url(#ballW)"/><circle cx="489.0" cy="84.4" r="2.8" fill="url(#ballS)"/><circle cx="493.7" cy="84.4" r="2.25" fill="url(#ballW)"/><circle cx="498.4" cy="84.4" r="2.8" fill="url(#ballS)"/><circle cx="503.1" cy="84.4" r="2.25" fill="url(#ballW)"/><circle cx="507.8" cy="84.4" r="2.8" fill="url(#ballS)"/><circle cx="400.6" cy="89.9" r="2.8" fill="url(#ballS)"/><circle cx="405.2" cy="89.9" r="2.25" fill="url(#ballW)"/><circle cx="409.9" cy="89.9" r="2.8" fill="url(#ballS)"/><circle cx="414.6" cy="89.9" r="2.25" fill="url(#ballW)"/><circle cx="419.3" cy="89.9" r="2.8" fill="url(#ballS)"/><circle cx="424.0" cy="89.9" r="2.25" fill="url(#ballW)"/><circle cx="428.6" cy="89.9" r="2.8" fill="url(#ballS)"/><circle cx="433.3" cy="89.9" r="2.25" fill="url(#ballW)"/><circle cx="438.0" cy="89.9" r="2.8" fill="url(#ballS)"/><circle cx="442.7" cy="89.9" r="2.25" fill="url(#ballW)"/><circle cx="447.4" cy="89.9" r="2.8" fill="url(#ballS)"/><circle cx="452.0" cy="89.9" r="2.25" fill="url(#ballW)"/><circle cx="456.7" cy="89.9" r="2.8" fill="url(#ballS)"/><circle cx="461.4" cy="89.9" r="2.25" fill="url(#ballW)"/><circle cx="466.1" cy="89.9" r="2.8" fill="url(#ballS)"/><circle cx="470.8" cy="89.9" r="2.25" fill="url(#ballW)"/><circle cx="475.4" cy="89.9" r="2.8" fill="url(#ballS)"/><circle cx="480.1" cy="89.9" r="2.25" fill="url(#ballW)"/><circle cx="484.8" cy="89.9" r="2.8" fill="url(#ballS)"/><circle cx="489.5" cy="89.9" r="2.25" fill="url(#ballW)"/><circle cx="494.2" cy="89.9" r="2.8" fill="url(#ballS)"/><circle cx="498.8" cy="89.9" r="2.25" fill="url(#ballW)"/><circle cx="503.5" cy="89.9" r="2.8" fill="url(#ballS)"/><circle cx="508.2" cy="89.9" r="2.25" fill="url(#ballW)"/><circle cx="512.9" cy="89.9" r="2.8" fill="url(#ballS)"/><circle cx="405.7" cy="95.4" r="2.8" fill="url(#ballS)"/><circle cx="410.4" cy="95.4" r="2.25" fill="url(#ballW)"/><circle cx="415.1" cy="95.4" r="2.8" fill="url(#ballS)"/><circle cx="419.7" cy="95.4" r="2.25" fill="url(#ballW)"/><circle cx="424.4" cy="95.4" r="2.8" fill="url(#ballS)"/><circle cx="429.1" cy="95.4" r="2.25" fill="url(#ballW)"/><circle cx="433.8" cy="95.4" r="2.8" fill="url(#ballS)"/><circle cx="438.5" cy="95.4" r="2.25" fill="url(#ballW)"/><circle cx="443.1" cy="95.4" r="2.8" fill="url(#ballS)"/><circle cx="447.8" cy="95.4" r="2.25" fill="url(#ballW)"/><circle cx="452.5" cy="95.4" r="2.8" fill="url(#ballS)"/><circle cx="457.2" cy="95.4" r="2.25" fill="url(#ballW)"/><circle cx="461.9" cy="95.4" r="2.8" fill="url(#ballS)"/><circle cx="466.5" cy="95.4" r="2.25" fill="url(#ballW)"/><circle cx="471.2" cy="95.4" r="2.8" fill="url(#ballS)"/><circle cx="475.9" cy="95.4" r="2.25" fill="url(#ballW)"/><circle cx="480.6" cy="95.4" r="2.8" fill="url(#ballS)"/><circle cx="485.3" cy="95.4" r="2.25" fill="url(#ballW)"/><circle cx="489.9" cy="95.4" r="2.8" fill="url(#ballS)"/><circle cx="494.6" cy="95.4" r="2.25" fill="url(#ballW)"/><circle cx="499.3" cy="95.4" r="2.8" fill="url(#ballS)"/><circle cx="504.0" cy="95.4" r="2.25" fill="url(#ballW)"/><circle cx="508.7" cy="95.4" r="2.8" fill="url(#ballS)"/><circle cx="513.3" cy="95.4" r="2.25" fill="url(#ballW)"/><circle cx="518.0" cy="95.4" r="2.8" fill="url(#ballS)"/><circle cx="410.8" cy="100.9" r="2.8" fill="url(#ballS)"/><circle cx="415.5" cy="100.9" r="2.25" fill="url(#ballW)"/><circle cx="420.2" cy="100.9" r="2.8" fill="url(#ballS)"/><circle cx="424.9" cy="100.9" r="2.25" fill="url(#ballW)"/><circle cx="429.6" cy="100.9" r="2.8" fill="url(#ballS)"/><circle cx="434.2" cy="100.9" r="2.25" fill="url(#ballW)"/><circle cx="438.9" cy="100.9" r="2.8" fill="url(#ballS)"/><circle cx="443.6" cy="100.9" r="2.25" fill="url(#ballW)"/><circle cx="448.3" cy="100.9" r="2.8" fill="url(#ballS)"/><circle cx="452.9" cy="100.9" r="2.25" fill="url(#ballW)"/><circle cx="457.6" cy="100.9" r="2.8" fill="url(#ballS)"/><circle cx="462.3" cy="100.9" r="2.25" fill="url(#ballW)"/><circle cx="467.0" cy="100.9" r="2.8" fill="url(#ballS)"/><circle cx="471.7" cy="100.9" r="2.25" fill="url(#ballW)"/><circle cx="476.3" cy="100.9" r="2.8" fill="url(#ballS)"/><circle cx="481.0" cy="100.9" r="2.25" fill="url(#ballW)"/><circle cx="485.7" cy="100.9" r="2.8" fill="url(#ballS)"/><circle cx="490.4" cy="100.9" r="2.25" fill="url(#ballW)"/><circle cx="495.1" cy="100.9" r="2.8" fill="url(#ballS)"/><circle cx="499.8" cy="100.9" r="2.25" fill="url(#ballW)"/><circle cx="504.4" cy="100.9" r="2.8" fill="url(#ballS)"/><circle cx="509.1" cy="100.9" r="2.25" fill="url(#ballW)"/><circle cx="513.8" cy="100.9" r="2.8" fill="url(#ballS)"/><circle cx="518.5" cy="100.9" r="2.25" fill="url(#ballW)"/><circle cx="523.1" cy="100.9" r="2.8" fill="url(#ballS)"/><circle cx="416.0" cy="106.4" r="2.8" fill="url(#ballS)"/><circle cx="420.6" cy="106.4" r="2.25" fill="url(#ballW)"/><circle cx="425.3" cy="106.4" r="2.8" fill="url(#ballS)"/><circle cx="430.0" cy="106.4" r="2.25" fill="url(#ballW)"/><circle cx="434.7" cy="106.4" r="2.8" fill="url(#ballS)"/><circle cx="439.4" cy="106.4" r="2.25" fill="url(#ballW)"/><circle cx="444.0" cy="106.4" r="2.8" fill="url(#ballS)"/><circle cx="448.7" cy="106.4" r="2.25" fill="url(#ballW)"/><circle cx="453.4" cy="106.4" r="2.8" fill="url(#ballS)"/><circle cx="458.1" cy="106.4" r="2.25" fill="url(#ballW)"/><circle cx="462.8" cy="106.4" r="2.8" fill="url(#ballS)"/><circle cx="467.4" cy="106.4" r="2.25" fill="url(#ballW)"/><circle cx="472.1" cy="106.4" r="2.8" fill="url(#ballS)"/><circle cx="476.8" cy="106.4" r="2.25" fill="url(#ballW)"/><circle cx="481.5" cy="106.4" r="2.8" fill="url(#ballS)"/><circle cx="486.2" cy="106.4" r="2.25" fill="url(#ballW)"/><circle cx="490.8" cy="106.4" r="2.8" fill="url(#ballS)"/><circle cx="495.5" cy="106.4" r="2.25" fill="url(#ballW)"/><circle cx="500.2" cy="106.4" r="2.8" fill="url(#ballS)"/><circle cx="504.9" cy="106.4" r="2.25" fill="url(#ballW)"/><circle cx="509.6" cy="106.4" r="2.8" fill="url(#ballS)"/><circle cx="514.2" cy="106.4" r="2.25" fill="url(#ballW)"/><circle cx="518.9" cy="106.4" r="2.8" fill="url(#ballS)"/><circle cx="523.6" cy="106.4" r="2.25" fill="url(#ballW)"/><circle cx="528.3" cy="106.4" r="2.8" fill="url(#ballS)"/><circle cx="421.1" cy="111.9" r="2.8" fill="url(#ballS)"/><circle cx="430.4" cy="111.9" r="2.8" fill="url(#ballS)"/><circle cx="439.8" cy="111.9" r="2.8" fill="url(#ballS)"/><circle cx="449.2" cy="111.9" r="2.8" fill="url(#ballS)"/><circle cx="458.5" cy="111.9" r="2.8" fill="url(#ballS)"/><circle cx="467.9" cy="111.9" r="2.8" fill="url(#ballS)"/><circle cx="477.2" cy="111.9" r="2.8" fill="url(#ballS)"/><circle cx="486.6" cy="111.9" r="2.8" fill="url(#ballS)"/><circle cx="496.0" cy="111.9" r="2.8" fill="url(#ballS)"/><circle cx="505.3" cy="111.9" r="2.8" fill="url(#ballS)"/><circle cx="514.7" cy="111.9" r="2.8" fill="url(#ballS)"/><circle cx="524.0" cy="111.9" r="2.8" fill="url(#ballS)"/><circle cx="533.4" cy="111.9" r="2.8" fill="url(#ballS)"/></g>
<polygon points="397.5,65.8 424.6,93.4 424.6,104.0 397.5,78.7" fill="#c4c7cc"/><polygon points="397.5,65.8 424.6,93.4 424.6,97.5 397.5,70.8" fill="#dc9e0e"/><line x1="397.5" y1="70.8" x2="424.6" y2="97.5" stroke="#4a5a80" stroke-width="0.6"/><rect x="424.6" y="93.4" width="29.5" height="4.1" fill="#e3a512"/><rect x="424.6" y="97.5" width="29.5" height="6.5" fill="#a4a8ae"/><line x1="424.6" y1="97.5" x2="454.1" y2="97.5" stroke="#4a5a80" stroke-width="0.5"/><polygon points="397.5,65.8 425.3,65.0 454.1,93.4 424.6,93.4" fill="url(#goldTop)"/><text x="439.9" y="97.0" font-size="4.6" fill="#4a3500" text-anchor="middle">Au</text><text x="439.9" y="102.9" font-size="4.8" fill="#333" text-anchor="middle">Al</text>
<polygon points="481.2,65.8 509.3,92.8 509.3,103.69999999999999 481.2,78.3" fill="#c4c7cc"/><polygon points="481.2,65.8 509.3,92.8 509.3,97.39999999999999 481.2,71.1" fill="#dc9e0e"/><line x1="481.2" y1="71.1" x2="509.3" y2="97.39999999999999" stroke="#4a5a80" stroke-width="0.6"/><rect x="509.3" y="92.8" width="27.599999999999966" height="4.6" fill="#e3a512"/><rect x="509.3" y="97.39999999999999" width="27.599999999999966" height="6.3" fill="#a4a8ae"/><line x1="509.3" y1="97.39999999999999" x2="536.9" y2="97.39999999999999" stroke="#4a5a80" stroke-width="0.5"/><polygon points="481.2,65.8 509.3,65.8 536.9,92.8 509.3,92.8" fill="url(#goldTop)"/><text x="523.7" y="96.9" font-size="4.6" fill="#4a3500" text-anchor="middle">Au</text><text x="523.7" y="102.6" font-size="4.8" fill="#333" text-anchor="middle">Al</text>
<text x="541.5" y="115.7" font-size="9.3" fill="#222">WS<tspan font-size="6.2" dy="2">2</tspan></text>
<polygon points="388.2,132.5 424,174.5 424,185 388.2,142.5" fill="#3f98e2"/>
<polygon points="424,174.5 552.8,172.5 553.2,183.3 424,185" fill="url(#subFront)"/>
<polygon points="388.2,132.5 516.5,130.1 552.8,172.5 424,174.5" fill="url(#subTop)"/>
<polygon points="400,135.6 512,132.8 543,168.5 429.5,170.4" fill="url(#hexSub)"/>
<text x="461" y="181.8" font-size="8.2" fill="#ffffff">Si/SiO<tspan font-size="5.5" dy="1.6">2</tspan><tspan dy="-1.6"> substrate</tspan></text>
<text x="538.5" y="150.9" font-size="8.6" fill="#222">h-BN</text>
<rect x="70.4" y="199.0" width="203.4" height="150.0" fill="none" stroke="#7c7c7c" stroke-width="1.4"/>
<line x1="70.4" y1="199.0" x2="70.4" y2="349.5" stroke="#4a4a4a" stroke-width="1.4"/>
<line x1="69.9" y1="349.0" x2="273.8" y2="349.0" stroke="#4a4a4a" stroke-width="1.4"/>
<path d="M67.8,349.00H70.4M69.1,343.36H70.4M69.1,340.05H70.4M69.1,337.71H70.4M69.1,335.89H70.4M69.1,334.41H70.4M69.1,333.15H70.4M69.1,332.07H70.4M69.1,331.11H70.4M67.8,330.25H70.4M69.1,324.61H70.4M69.1,321.30H70.4M69.1,318.96H70.4M69.1,317.14H70.4M69.1,315.66H70.4M69.1,314.40H70.4M69.1,313.32H70.4M69.1,312.36H70.4M67.8,311.50H70.4M69.1,305.86H70.4M69.1,302.55H70.4M69.1,300.21H70.4M69.1,298.39H70.4M69.1,296.91H70.4M69.1,295.65H70.4M69.1,294.57H70.4M69.1,293.61H70.4M67.8,292.75H70.4M69.1,287.11H70.4M69.1,283.80H70.4M69.1,281.46H70.4M69.1,279.64H70.4M69.1,278.16H70.4M69.1,276.90H70.4M69.1,275.82H70.4M69.1,274.86H70.4M67.8,274.00H70.4M69.1,268.36H70.4M69.1,265.05H70.4M69.1,262.71H70.4M69.1,260.89H70.4M69.1,259.41H70.4M69.1,258.15H70.4M69.1,257.07H70.4M69.1,256.11H70.4M67.8,255.25H70.4M69.1,249.61H70.4M69.1,246.30H70.4M69.1,243.96H70.4M69.1,242.14H70.4M69.1,240.66H70.4M69.1,239.40H70.4M69.1,238.32H70.4M69.1,237.36H70.4M67.8,236.50H70.4M69.1,230.86H70.4M69.1,227.55H70.4M69.1,225.21H70.4M69.1,223.39H70.4M69.1,221.91H70.4M69.1,220.65H70.4M69.1,219.57H70.4M69.1,218.61H70.4M67.8,217.75H70.4M69.1,212.11H70.4M69.1,208.80H70.4M69.1,206.46H70.4M69.1,204.64H70.4M69.1,203.16H70.4M69.1,201.90H70.4M69.1,200.82H70.4M69.1,199.86H70.4M67.80000000000001,199.00H70.4M85.14,349.0V351.8M99.60,349.0V350.6M114.06,349.0V351.8M128.52,349.0V350.6M142.98,349.0V351.8M157.44,349.0V350.6M171.90,349.0V351.8M186.36,349.0V350.6M200.82,349.0V351.8M215.28,349.0V350.6M229.74,349.0V351.8M244.20,349.0V350.6M258.66,349.0V351.8M273.12,349.0V350.6" stroke="#4a4a4a" stroke-width="0.8" fill="none"/>
<text transform="translate(48 201.6) scale(0.77 1)" font-size="9.4" font-weight="bold" fill="#111" stroke="#111" stroke-width="0.25">10<tspan font-size="6.3" dy="-2.5">1</tspan></text>
<text transform="translate(48 239.1) scale(0.77 1)" font-size="9.4" font-weight="bold" fill="#111" stroke="#111" stroke-width="0.25">10<tspan font-size="6.3" dy="-2.5">-1</tspan></text>
<text transform="translate(48 276.6) scale(0.77 1)" font-size="9.4" font-weight="bold" fill="#111" stroke="#111" stroke-width="0.25">10<tspan font-size="6.3" dy="-2.5">-3</tspan></text>
<text transform="translate(48 314.1) scale(0.77 1)" font-size="9.4" font-weight="bold" fill="#111" stroke="#111" stroke-width="0.25">10<tspan font-size="6.3" dy="-2.5">-5</tspan></text>
<text transform="translate(48 351.6) scale(0.77 1)" font-size="9.4" font-weight="bold" fill="#111" stroke="#111" stroke-width="0.25">10<tspan font-size="6.3" dy="-2.5">-7</tspan></text>
<text transform="translate(83.8 363) scale(0.87 1)" font-size="8.9" font-weight="bold" fill="#111" stroke="#111" stroke-width="0.25" text-anchor="middle">-60</text>
<text transform="translate(112.8 363) scale(0.87 1)" font-size="8.9" font-weight="bold" fill="#111" stroke="#111" stroke-width="0.25" text-anchor="middle">-40</text>
<text transform="translate(141.7 363) scale(0.87 1)" font-size="8.9" font-weight="bold" fill="#111" stroke="#111" stroke-width="0.25" text-anchor="middle">-20</text>
<text transform="translate(171.9 363) scale(0.87 1)" font-size="8.9" font-weight="bold" fill="#111" stroke="#111" stroke-width="0.25" text-anchor="middle">0</text>
<text transform="translate(200.8 363) scale(0.87 1)" font-size="8.9" font-weight="bold" fill="#111" stroke="#111" stroke-width="0.25" text-anchor="middle">20</text>
<text transform="translate(229.7 363) scale(0.87 1)" font-size="8.9" font-weight="bold" fill="#111" stroke="#111" stroke-width="0.25" text-anchor="middle">40</text>
<text transform="translate(258.7 363) scale(0.87 1)" font-size="8.9" font-weight="bold" fill="#111" stroke="#111" stroke-width="0.25" text-anchor="middle">60</text>
<text transform="translate(155.6 377.4) scale(0.88 1)" font-size="10.2" font-weight="bold" fill="#111" stroke="#111" stroke-width="0.2"><tspan font-style="italic">V</tspan><tspan font-size="7" dy="2.2">bg</tspan><tspan dy="-2.2"> (V)</tspan></text>
<text transform="translate(39.2 277.8) rotate(-90)" font-size="9" font-weight="bold" fill="#111" stroke="#111" stroke-width="0.2" text-anchor="middle"><tspan font-style="italic">I</tspan><tspan font-size="6.3" dy="2">ds</tspan><tspan dy="-2"> (μA/μm)</tspan></text>
<polyline points="85.00,321.90 86.90,323.30 89.20,322.80 90.10,320.00 91.40,317.30 92.40,316.00 93.70,311.40 95.00,304.50 96.40,297.70 98.30,290.50" fill="none" stroke="#222" stroke-width="0.7"/>
<polyline points="98.30,290.50 100.20,283.60 103.00,274.00 105.30,265.90 107.50,259.00 109.50,253.50 111.50,248.50 114.00,244.50" fill="none" stroke="#111" stroke-width="1.0"/>
<polyline points="114.00,244.50 117.00,241.30 120.40,239.30 126.70,235.70 134.60,231.70 142.50,228.50 150.00,225.00 158.40,221.40 168.00,218.00 179.00,214.80 191.00,212.40 201.70,210.90 212.00,209.80 222.80,209.00 240.40,208.20 258.90,207.60" fill="none" stroke="#111" stroke-width="1.9" stroke-linejoin="round"/>
<rect x="84.05" y="320.95" width="1.9" height="1.9" fill="#111"/><rect x="86.87" y="322.15" width="1.9" height="1.9" fill="#111"/><rect x="88.83" y="320.05" width="1.9" height="1.9" fill="#111"/><rect x="90.12" y="317.03" width="1.9" height="1.9" fill="#111"/><rect x="91.70" y="314.18" width="1.9" height="1.9" fill="#111"/><rect x="92.59" y="311.00" width="1.9" height="1.9" fill="#111"/><rect x="93.26" y="307.77" width="1.9" height="1.9" fill="#111"/><rect x="93.87" y="304.53" width="1.9" height="1.9" fill="#111"/><rect x="94.52" y="301.29" width="1.9" height="1.9" fill="#111"/><rect x="95.18" y="298.06" width="1.9" height="1.9" fill="#111"/><rect x="95.95" y="294.85" width="1.9" height="1.9" fill="#111"/><rect x="96.79" y="291.66" width="1.9" height="1.9" fill="#111"/><rect x="97.65" y="288.47" width="1.9" height="1.9" fill="#111"/><rect x="98.52" y="285.29" width="1.9" height="1.9" fill="#111"/><rect x="99.41" y="282.11" width="1.9" height="1.9" fill="#111"/><rect x="100.33" y="278.94" width="1.9" height="1.9" fill="#111"/><rect x="101.26" y="275.78" width="1.9" height="1.9" fill="#111"/><rect x="102.18" y="272.61" width="1.9" height="1.9" fill="#111"/><rect x="103.08" y="269.43" width="1.9" height="1.9" fill="#111"/><rect x="103.98" y="266.26" width="1.9" height="1.9" fill="#111"/><rect x="104.94" y="263.10" width="1.9" height="1.9" fill="#111"/><rect x="105.94" y="259.96" width="1.9" height="1.9" fill="#111"/><rect x="106.99" y="256.83" width="1.9" height="1.9" fill="#111"/><rect x="108.12" y="253.73" width="1.9" height="1.9" fill="#111"/><rect x="109.31" y="250.65" width="1.9" height="1.9" fill="#111"/><rect x="110.54" y="247.59" width="1.9" height="1.9" fill="#111"/><rect x="112.28" y="244.78" width="1.9" height="1.9" fill="#111"/>
<polyline points="85.00,329.20 86.40,333.60 88.70,329.20 91.00,333.60 92.80,329.20 95.10,333.60 96.90,329.20 99.70,333.60 101.50,329.20 103.80,333.60 105.60,329.20 108.40,333.60 110.20,329.20 112.50,333.60" fill="none" stroke="#aaa" stroke-width="0.4"/>
<rect x="83.95" y="328.15" width="2.1" height="2.1" fill="#111"/><rect x="85.35" y="332.55" width="2.1" height="2.1" fill="#111"/><rect x="87.65" y="328.15" width="2.1" height="2.1" fill="#111"/><rect x="89.95" y="332.55" width="2.1" height="2.1" fill="#111"/><rect x="91.75" y="328.15" width="2.1" height="2.1" fill="#111"/><rect x="94.05" y="332.55" width="2.1" height="2.1" fill="#111"/><rect x="95.85" y="328.15" width="2.1" height="2.1" fill="#111"/><rect x="98.65" y="332.55" width="2.1" height="2.1" fill="#111"/><rect x="100.45" y="328.15" width="2.1" height="2.1" fill="#111"/><rect x="102.75" y="332.55" width="2.1" height="2.1" fill="#111"/><rect x="104.55" y="328.15" width="2.1" height="2.1" fill="#111"/><rect x="107.35" y="332.55" width="2.1" height="2.1" fill="#111"/><rect x="109.15" y="328.15" width="2.1" height="2.1" fill="#111"/><rect x="111.45" y="332.55" width="2.1" height="2.1" fill="#111"/>
<polyline points="112.50,333.60 114.30,327.90 116.60,328.60 118.90,324.20 121.20,321.40 123.00,316.00 124.40,311.40 125.40,309.50 127.20,303.50 128.90,297.70 130.70,290.50 132.40,283.60 134.20,277.50 136.00,271.80" fill="none" stroke="#222" stroke-width="0.7"/>
<rect x="111.55" y="332.65" width="1.9" height="1.9" fill="#111"/><rect x="112.54" y="329.50" width="1.9" height="1.9" fill="#111"/><rect x="113.95" y="327.13" width="1.9" height="1.9" fill="#111"/><rect x="116.35" y="326.30" width="1.9" height="1.9" fill="#111"/><rect x="117.88" y="323.38" width="1.9" height="1.9" fill="#111"/><rect x="119.95" y="320.81" width="1.9" height="1.9" fill="#111"/><rect x="121.14" y="317.77" width="1.9" height="1.9" fill="#111"/><rect x="122.18" y="314.63" width="1.9" height="1.9" fill="#111"/><rect x="123.14" y="311.47" width="1.9" height="1.9" fill="#111"/><rect x="124.47" y="308.47" width="1.9" height="1.9" fill="#111"/><rect x="125.42" y="305.31" width="1.9" height="1.9" fill="#111"/><rect x="126.37" y="302.15" width="1.9" height="1.9" fill="#111"/><rect x="127.30" y="298.98" width="1.9" height="1.9" fill="#111"/><rect x="128.19" y="295.80" width="1.9" height="1.9" fill="#111"/><rect x="128.99" y="292.60" width="1.9" height="1.9" fill="#111"/><rect x="129.79" y="289.40" width="1.9" height="1.9" fill="#111"/><rect x="130.58" y="286.20" width="1.9" height="1.9" fill="#111"/><rect x="131.37" y="282.99" width="1.9" height="1.9" fill="#111"/><rect x="132.28" y="279.82" width="1.9" height="1.9" fill="#111"/><rect x="133.22" y="276.66" width="1.9" height="1.9" fill="#111"/><rect x="134.21" y="273.51" width="1.9" height="1.9" fill="#111"/><rect x="135.19" y="270.36" width="1.9" height="1.9" fill="#111"/><rect x="136.10" y="267.19" width="1.9" height="1.9" fill="#111"/>
<polyline points="136.00,271.80 137.80,265.50 139.50,260.00 142.00,252.00 145.50,245.30 150.00,240.50 158.00,235.90 165.00,231.20 170.00,227.60 177.00,224.60 187.60,221.00 198.20,217.80 210.50,214.70 222.80,212.10 236.90,210.00 244.00,208.90 258.90,207.60" fill="none" stroke="#111" stroke-width="1.8" stroke-linejoin="round"/>
<line x1="88.8" y1="320" x2="97.1" y2="287.8" stroke="#7a7ae8" stroke-width="0.8"/>
<line x1="165.1" y1="296.2" x2="165.1" y2="328.5" stroke="#8888e8" stroke-width="0.8"/>
<polyline points="178.90,213.30 176.50,217.00 174.30,221.50 172.70,225.00 171.50,228.90 170.60,234.00 170.00,239.90 169.60,246.00 169.30,252.70 168.80,275.00 168.20,295.00 167.50,315.40 166.60,325.00 166.10,331.60 164.60,333.00" fill="none" stroke="#e81010" stroke-width="0.9"/>
<polyline points="178.90,213.30 177.00,219.70 175.50,224.00 174.30,228.90 173.60,235.00 173.30,241.70 173.00,254.50 172.40,275.00 171.80,295.00 171.20,315.40 170.60,326.00 170.20,333.60" fill="none" stroke="#e81010" stroke-width="0.9"/>
<rect x="177.95" y="212.35" width="1.9" height="1.9" fill="#e81010"/><rect x="176.21" y="215.03" width="1.9" height="1.9" fill="#e81010"/><rect x="174.68" y="217.84" width="1.9" height="1.9" fill="#e81010"/><rect x="173.27" y="220.71" width="1.9" height="1.9" fill="#e81010"/><rect x="171.94" y="223.62" width="1.9" height="1.9" fill="#e81010"/><rect x="170.95" y="226.66" width="1.9" height="1.9" fill="#e81010"/><rect x="170.23" y="229.77" width="1.9" height="1.9" fill="#e81010"/><rect x="169.67" y="232.93" width="1.9" height="1.9" fill="#e81010"/><rect x="169.34" y="236.11" width="1.9" height="1.9" fill="#e81010"/><rect x="169.03" y="239.29" width="1.9" height="1.9" fill="#e81010"/><rect x="168.82" y="242.49" width="1.9" height="1.9" fill="#e81010"/><rect x="168.62" y="245.68" width="1.9" height="1.9" fill="#e81010"/><rect x="168.48" y="248.88" width="1.9" height="1.9" fill="#e81010"/><rect x="168.34" y="252.07" width="1.9" height="1.9" fill="#e81010"/><rect x="168.27" y="255.27" width="1.9" height="1.9" fill="#e81010"/><rect x="168.20" y="258.47" width="1.9" height="1.9" fill="#e81010"/><rect x="168.13" y="261.67" width="1.9" height="1.9" fill="#e81010"/><rect x="168.06" y="264.87" width="1.9" height="1.9" fill="#e81010"/><rect x="167.98" y="268.07" width="1.9" height="1.9" fill="#e81010"/><rect x="167.91" y="271.27" width="1.9" height="1.9" fill="#e81010"/><rect x="167.84" y="274.47" width="1.9" height="1.9" fill="#e81010"/><rect x="167.74" y="277.67" width="1.9" height="1.9" fill="#e81010"/><rect x="167.65" y="280.86" width="1.9" height="1.9" fill="#e81010"/><rect x="167.55" y="284.06" width="1.9" height="1.9" fill="#e81010"/><rect x="167.45" y="287.26" width="1.9" height="1.9" fill="#e81010"/><rect x="167.36" y="290.46" width="1.9" height="1.9" fill="#e81010"/><rect x="167.26" y="293.66" width="1.9" height="1.9" fill="#e81010"/><rect x="167.15" y="296.86" width="1.9" height="1.9" fill="#e81010"/><rect x="167.04" y="300.05" width="1.9" height="1.9" fill="#e81010"/><rect x="166.93" y="303.25" width="1.9" height="1.9" fill="#e81010"/><rect x="166.82" y="306.45" width="1.9" height="1.9" fill="#e81010"/><rect x="166.71" y="309.65" width="1.9" height="1.9" fill="#e81010"/><rect x="166.60" y="312.85" width="1.9" height="1.9" fill="#e81010"/><rect x="166.40" y="316.04" width="1.9" height="1.9" fill="#e81010"/><rect x="166.10" y="319.23" width="1.9" height="1.9" fill="#e81010"/><rect x="165.80" y="322.41" width="1.9" height="1.9" fill="#e81010"/><rect x="165.53" y="325.60" width="1.9" height="1.9" fill="#e81010"/><rect x="165.29" y="328.79" width="1.9" height="1.9" fill="#e81010"/><rect x="164.17" y="331.56" width="1.9" height="1.9" fill="#e81010"/>
<rect x="177.95" y="212.35" width="1.9" height="1.9" fill="#e81010"/><rect x="177.04" y="215.42" width="1.9" height="1.9" fill="#e81010"/><rect x="176.13" y="218.49" width="1.9" height="1.9" fill="#e81010"/><rect x="175.09" y="221.51" width="1.9" height="1.9" fill="#e81010"/><rect x="174.18" y="224.57" width="1.9" height="1.9" fill="#e81010"/><rect x="173.42" y="227.68" width="1.9" height="1.9" fill="#e81010"/><rect x="173.02" y="230.86" width="1.9" height="1.9" fill="#e81010"/><rect x="172.65" y="234.04" width="1.9" height="1.9" fill="#e81010"/><rect x="172.51" y="237.23" width="1.9" height="1.9" fill="#e81010"/><rect x="172.36" y="240.43" width="1.9" height="1.9" fill="#e81010"/><rect x="172.28" y="243.63" width="1.9" height="1.9" fill="#e81010"/><rect x="172.21" y="246.83" width="1.9" height="1.9" fill="#e81010"/><rect x="172.13" y="250.03" width="1.9" height="1.9" fill="#e81010"/><rect x="172.06" y="253.22" width="1.9" height="1.9" fill="#e81010"/><rect x="171.97" y="256.42" width="1.9" height="1.9" fill="#e81010"/><rect x="171.87" y="259.62" width="1.9" height="1.9" fill="#e81010"/><rect x="171.78" y="262.82" width="1.9" height="1.9" fill="#e81010"/><rect x="171.69" y="266.02" width="1.9" height="1.9" fill="#e81010"/><rect x="171.59" y="269.22" width="1.9" height="1.9" fill="#e81010"/><rect x="171.50" y="272.42" width="1.9" height="1.9" fill="#e81010"/><rect x="171.40" y="275.62" width="1.9" height="1.9" fill="#e81010"/><rect x="171.31" y="278.81" width="1.9" height="1.9" fill="#e81010"/><rect x="171.21" y="282.01" width="1.9" height="1.9" fill="#e81010"/><rect x="171.12" y="285.21" width="1.9" height="1.9" fill="#e81010"/><rect x="171.02" y="288.41" width="1.9" height="1.9" fill="#e81010"/><rect x="170.92" y="291.61" width="1.9" height="1.9" fill="#e81010"/><rect x="170.83" y="294.81" width="1.9" height="1.9" fill="#e81010"/><rect x="170.73" y="298.01" width="1.9" height="1.9" fill="#e81010"/><rect x="170.64" y="301.20" width="1.9" height="1.9" fill="#e81010"/><rect x="170.55" y="304.40" width="1.9" height="1.9" fill="#e81010"/><rect x="170.45" y="307.60" width="1.9" height="1.9" fill="#e81010"/><rect x="170.36" y="310.80" width="1.9" height="1.9" fill="#e81010"/><rect x="170.26" y="314.00" width="1.9" height="1.9" fill="#e81010"/><rect x="170.09" y="317.19" width="1.9" height="1.9" fill="#e81010"/><rect x="169.91" y="320.39" width="1.9" height="1.9" fill="#e81010"/><rect x="169.73" y="323.58" width="1.9" height="1.9" fill="#e81010"/><rect x="169.56" y="326.78" width="1.9" height="1.9" fill="#e81010"/><rect x="169.39" y="329.97" width="1.9" height="1.9" fill="#e81010"/>
<polyline points="164.6,332.6 165.3,341.5 167,345.5 167.2,349 M" fill="none" stroke="#e81010" stroke-width="1.8"/>
<path d="M164.6,332.6 L165.3,341.5 L167,345.5 L167.2,349 M170.2,333.6 L167.6,338.5 L165.6,341" fill="none" stroke="#e81010" stroke-width="1.8"/>
<text x="76.9" y="271.7" font-size="9.2" fill="#333" textLength="16.7" lengthAdjust="spacingAndGlyphs">2617</text>
<text x="84.9" y="280.9" font-size="7.5" fill="#222" text-anchor="middle">mv/dec</text>
<text x="147.5" y="306.7" font-size="8.1" fill="#333" text-anchor="middle">233</text>
<text x="147.4" y="316.8" font-size="7.6" fill="#222" text-anchor="middle">mv/dec</text>
<text x="191" y="258.3" font-size="8" fill="#222"><tspan font-style="italic">V</tspan><tspan font-size="5.6" dy="1.8">ds</tspan><tspan dy="-1.8"> = 0.6 V</tspan></text>
<line x1="197" y1="324.6" x2="203.9" y2="324.6" stroke="#aaaaaa" stroke-width="0.7"/><line x1="208.9" y1="324.6" x2="215.8" y2="324.6" stroke="#aaaaaa" stroke-width="0.7"/><rect x="205.4" y="323.6" width="2" height="2" fill="#111"/><text x="218.8" y="327.5" font-size="8.9" fill="#222" textLength="47.2" lengthAdjust="spacingAndGlyphs">MoS<tspan font-size="6" dy="1.8">2</tspan><tspan dy="-1.8">/SiO</tspan><tspan font-size="6" dy="1.8">2</tspan><tspan dy="-1.8">/Si</tspan></text>
<line x1="197" y1="337.9" x2="203.9" y2="337.9" stroke="#f4a0a8" stroke-width="0.7"/><line x1="208.9" y1="337.9" x2="215.8" y2="337.9" stroke="#f4a0a8" stroke-width="0.7"/><rect x="205.4" y="336.9" width="2" height="2" fill="#e81010"/><text x="218.8" y="340.8" font-size="8.9" fill="#222" textLength="48.9" lengthAdjust="spacingAndGlyphs">MoS<tspan font-size="6" dy="1.8">2</tspan><tspan dy="-1.8">/Al</tspan><tspan font-size="6" dy="1.8">2</tspan><tspan dy="-1.8">O</tspan><tspan font-size="6" dy="1.8">3</tspan><tspan dy="-1.8">/Si</tspan></text>
<rect x="338.6" y="200.3" width="200.60000000000002" height="147.5" fill="none" stroke="#7c7c7c" stroke-width="1.4"/>
<line x1="338.6" y1="200.3" x2="338.6" y2="348.3" stroke="#4a4a4a" stroke-width="1.4"/>
<line x1="338.1" y1="347.8" x2="539.2" y2="347.8" stroke="#4a4a4a" stroke-width="1.4"/>
<path d="M335.8,347.30H338.6M337.1,331.00H338.6M335.8,314.70H338.6M337.1,298.40H338.6M335.8,282.10H338.6M337.1,265.80H338.6M335.8,249.50H338.6M337.1,233.20H338.6M335.8,216.90H338.6M353.28,347.8V350.6M367.65,347.8V349.40000000000003M382.02,347.8V350.6M396.39,347.8V349.40000000000003M410.76,347.8V350.6M425.13,347.8V349.40000000000003M439.50,347.8V350.6M453.87,347.8V349.40000000000003M468.24,347.8V350.6M482.61,347.8V349.40000000000003M496.98,347.8V350.6M511.35,347.8V349.40000000000003M525.72,347.8V350.6M540.09,347.8V349.40000000000003" stroke="#4a4a4a" stroke-width="0.8" fill="none"/>
<text transform="translate(327.6 350.0) scale(0.87 1)" font-size="9" font-weight="bold" fill="#111" stroke="#111" stroke-width="0.25" text-anchor="end">0</text>
<text transform="translate(327.6 317.4) scale(0.87 1)" font-size="9" font-weight="bold" fill="#111" stroke="#111" stroke-width="0.25" text-anchor="end">5</text>
<text transform="translate(327.6 284.8) scale(0.87 1)" font-size="9" font-weight="bold" fill="#111" stroke="#111" stroke-width="0.25" text-anchor="end">10</text>
<text transform="translate(327.6 252.2) scale(0.87 1)" font-size="9" font-weight="bold" fill="#111" stroke="#111" stroke-width="0.25" text-anchor="end">15</text>
<text transform="translate(327.6 219.6) scale(0.87 1)" font-size="9" font-weight="bold" fill="#111" stroke="#111" stroke-width="0.25" text-anchor="end">20</text>
<text transform="translate(352.0 362.8) scale(0.87 1)" font-size="8.9" font-weight="bold" fill="#111" stroke="#111" stroke-width="0.25" text-anchor="middle">-60</text>
<text transform="translate(380.7 362.8) scale(0.87 1)" font-size="8.9" font-weight="bold" fill="#111" stroke="#111" stroke-width="0.25" text-anchor="middle">-40</text>
<text transform="translate(409.5 362.8) scale(0.87 1)" font-size="8.9" font-weight="bold" fill="#111" stroke="#111" stroke-width="0.25" text-anchor="middle">-20</text>
<text transform="translate(439.5 362.8) scale(0.87 1)" font-size="8.9" font-weight="bold" fill="#111" stroke="#111" stroke-width="0.25" text-anchor="middle">0</text>
<text transform="translate(468.2 362.8) scale(0.87 1)" font-size="8.9" font-weight="bold" fill="#111" stroke="#111" stroke-width="0.25" text-anchor="middle">20</text>
<text transform="translate(497.0 362.8) scale(0.87 1)" font-size="8.9" font-weight="bold" fill="#111" stroke="#111" stroke-width="0.25" text-anchor="middle">40</text>
<text transform="translate(525.7 362.8) scale(0.87 1)" font-size="8.9" font-weight="bold" fill="#111" stroke="#111" stroke-width="0.25" text-anchor="middle">60</text>
<text transform="translate(424.3 377.4) scale(0.86 1)" font-size="10.2" font-weight="bold" fill="#111" stroke="#111" stroke-width="0.2"><tspan font-style="italic">V</tspan><tspan font-size="7" dy="2.2">bg</tspan><tspan dy="-2.2"> (V)</tspan></text>
<text transform="translate(312.3 276.6) rotate(-90)" font-size="9" font-weight="bold" fill="#111" stroke="#111" stroke-width="0.2" text-anchor="middle"><tspan font-style="italic">μ</tspan><tspan font-size="6.3" dy="2" font-weight="normal">FE</tspan><tspan dy="-2"> (cm</tspan><tspan font-size="6" dy="-3">2</tspan><tspan dy="3">/Vs)</tspan></text>
<polyline points="352.30,347.30 353.74,347.20 355.17,347.20 356.61,347.20 358.05,347.20 359.49,347.20 360.92,347.20 362.36,347.20 363.80,347.20 365.23,347.20 366.67,347.20 368.11,347.20 369.54,347.20 370.98,347.20 372.42,347.20 373.45,345.37 375.20,343.94 376.55,343.40 377.90,342.94 379.65,342.19 381.40,341.82 382.70,341.63 384.00,342.77 385.35,343.44 386.70,343.35 388.45,342.35 390.20,340.31 391.50,341.02 392.80,341.15 394.15,340.39 395.50,339.37 396.80,338.36 398.10,338.12 400.70,330.80 403.40,342.00 406.00,332.30 408.70,333.10 411.30,336.10 413.00,330.80 415.40,312.90 417.50,327.00 419.20,327.00 420.60,308.50 422.40,312.00 424.50,322.60 427.10,319.00 428.90,305.80 431.50,321.70 433.30,302.30 435.10,303.20 436.80,311.10 437.90,312.90 440.20,308.50 442.00,313.80 443.20,323.50 445.00,310.20 446.20,299.20 447.60,312.90 449.00,317.30 450.80,314.60 452.00,308.50 453.20,305.80 455.00,316.40 456.40,308.50 457.80,305.00 459.00,331.90 460.30,319.90 462.00,308.50 463.50,318.20 464.90,314.60 466.10,310.20 467.50,319.90 469.10,306.20 470.50,312.00 471.90,332.30 473.10,323.50 474.90,318.20 476.10,327.00 477.50,341.10 478.90,323.50 480.70,320.80 481.90,330.10 483.20,330.10 484.60,306.20 486.00,311.50 487.70,318.20 489.00,327.00 490.40,334.90 491.60,325.20 493.00,320.80 494.80,314.60 496.00,329.60 497.80,332.30 499.50,334.00 501.30,335.40 502.20,338.90 503.60,327.90 504.80,318.50 506.10,340.20 507.50,337.50 508.90,318.50 510.10,336.10 511.90,342.80 513.10,334.00 514.50,334.00 516.30,333.70 517.50,327.90 518.90,339.60 520.70,339.30 521.90,316.10 523.30,337.50" fill="none" stroke="#444" stroke-width="0.6"/>
<polyline points="352.30,347.30 353.74,347.20 355.17,347.20 356.61,347.20 358.05,347.20 359.49,347.20 360.92,347.20 362.36,347.20 363.80,347.20 365.23,347.20 366.67,347.20 368.11,347.20" fill="none" stroke="#111" stroke-width="1.3"/>
<rect x="351.35" y="346.35" width="1.9" height="1.9" fill="#111"/><rect x="352.79" y="346.25" width="1.9" height="1.9" fill="#111"/><rect x="354.22" y="346.25" width="1.9" height="1.9" fill="#111"/><rect x="355.66" y="346.25" width="1.9" height="1.9" fill="#111"/><rect x="357.10" y="346.25" width="1.9" height="1.9" fill="#111"/><rect x="358.54" y="346.25" width="1.9" height="1.9" fill="#111"/><rect x="359.97" y="346.25" width="1.9" height="1.9" fill="#111"/><rect x="361.41" y="346.25" width="1.9" height="1.9" fill="#111"/><rect x="362.85" y="346.25" width="1.9" height="1.9" fill="#111"/><rect x="364.28" y="346.25" width="1.9" height="1.9" fill="#111"/><rect x="365.72" y="346.25" width="1.9" height="1.9" fill="#111"/><rect x="367.16" y="346.25" width="1.9" height="1.9" fill="#111"/><rect x="368.59" y="346.25" width="1.9" height="1.9" fill="#111"/><rect x="370.03" y="346.25" width="1.9" height="1.9" fill="#111"/><rect x="371.47" y="346.25" width="1.9" height="1.9" fill="#111"/><rect x="372.50" y="344.42" width="1.9" height="1.9" fill="#111"/><rect x="374.25" y="342.99" width="1.9" height="1.9" fill="#111"/><rect x="375.60" y="342.45" width="1.9" height="1.9" fill="#111"/><rect x="376.95" y="341.99" width="1.9" height="1.9" fill="#111"/><rect x="378.70" y="341.24" width="1.9" height="1.9" fill="#111"/><rect x="380.45" y="340.87" width="1.9" height="1.9" fill="#111"/><rect x="381.75" y="340.68" width="1.9" height="1.9" fill="#111"/><rect x="383.05" y="341.82" width="1.9" height="1.9" fill="#111"/><rect x="384.40" y="342.49" width="1.9" height="1.9" fill="#111"/><rect x="385.75" y="342.40" width="1.9" height="1.9" fill="#111"/><rect x="387.50" y="341.40" width="1.9" height="1.9" fill="#111"/><rect x="389.25" y="339.36" width="1.9" height="1.9" fill="#111"/><rect x="390.55" y="340.07" width="1.9" height="1.9" fill="#111"/><rect x="391.85" y="340.20" width="1.9" height="1.9" fill="#111"/><rect x="393.20" y="339.44" width="1.9" height="1.9" fill="#111"/><rect x="394.55" y="338.42" width="1.9" height="1.9" fill="#111"/><rect x="395.85" y="337.41" width="1.9" height="1.9" fill="#111"/><rect x="397.15" y="337.17" width="1.9" height="1.9" fill="#111"/><rect x="399.75" y="329.85" width="1.9" height="1.9" fill="#111"/><rect x="402.45" y="341.05" width="1.9" height="1.9" fill="#111"/><rect x="405.05" y="331.35" width="1.9" height="1.9" fill="#111"/><rect x="407.75" y="332.15" width="1.9" height="1.9" fill="#111"/><rect x="410.35" y="335.15" width="1.9" height="1.9" fill="#111"/><rect x="412.05" y="329.85" width="1.9" height="1.9" fill="#111"/><rect x="414.45" y="311.95" width="1.9" height="1.9" fill="#111"/><rect x="416.55" y="326.05" width="1.9" height="1.9" fill="#111"/><rect x="418.25" y="326.05" width="1.9" height="1.9" fill="#111"/><rect x="419.65" y="307.55" width="1.9" height="1.9" fill="#111"/><rect x="421.45" y="311.05" width="1.9" height="1.9" fill="#111"/><rect x="423.55" y="321.65" width="1.9" height="1.9" fill="#111"/><rect x="426.15" y="318.05" width="1.9" height="1.9" fill="#111"/><rect x="427.95" y="304.85" width="1.9" height="1.9" fill="#111"/><rect x="430.55" y="320.75" width="1.9" height="1.9" fill="#111"/><rect x="432.35" y="301.35" width="1.9" height="1.9" fill="#111"/><rect x="434.15" y="302.25" width="1.9" height="1.9" fill="#111"/><rect x="435.85" y="310.15" width="1.9" height="1.9" fill="#111"/><rect x="436.95" y="311.95" width="1.9" height="1.9" fill="#111"/><rect x="439.25" y="307.55" width="1.9" height="1.9" fill="#111"/><rect x="441.05" y="312.85" width="1.9" height="1.9" fill="#111"/><rect x="442.25" y="322.55" width="1.9" height="1.9" fill="#111"/><rect x="444.05" y="309.25" width="1.9" height="1.9" fill="#111"/><rect x="445.25" y="298.25" width="1.9" height="1.9" fill="#111"/><rect x="446.65" y="311.95" width="1.9" height="1.9" fill="#111"/><rect x="448.05" y="316.35" width="1.9" height="1.9" fill="#111"/><rect x="449.85" y="313.65" width="1.9" height="1.9" fill="#111"/><rect x="451.05" y="307.55" width="1.9" height="1.9" fill="#111"/><rect x="452.25" y="304.85" width="1.9" height="1.9" fill="#111"/><rect x="454.05" y="315.45" width="1.9" height="1.9" fill="#111"/><rect x="455.45" y="307.55" width="1.9" height="1.9" fill="#111"/><rect x="456.85" y="304.05" width="1.9" height="1.9" fill="#111"/><rect x="458.05" y="330.95" width="1.9" height="1.9" fill="#111"/><rect x="459.35" y="318.95" width="1.9" height="1.9" fill="#111"/><rect x="461.05" y="307.55" width="1.9" height="1.9" fill="#111"/><rect x="462.55" y="317.25" width="1.9" height="1.9" fill="#111"/><rect x="463.95" y="313.65" width="1.9" height="1.9" fill="#111"/><rect x="465.15" y="309.25" width="1.9" height="1.9" fill="#111"/><rect x="466.55" y="318.95" width="1.9" height="1.9" fill="#111"/><rect x="468.15" y="305.25" width="1.9" height="1.9" fill="#111"/><rect x="469.55" y="311.05" width="1.9" height="1.9" fill="#111"/><rect x="470.95" y="331.35" width="1.9" height="1.9" fill="#111"/><rect x="472.15" y="322.55" width="1.9" height="1.9" fill="#111"/><rect x="473.95" y="317.25" width="1.9" height="1.9" fill="#111"/><rect x="475.15" y="326.05" width="1.9" height="1.9" fill="#111"/><rect x="476.55" y="340.15" width="1.9" height="1.9" fill="#111"/><rect x="477.95" y="322.55" width="1.9" height="1.9" fill="#111"/><rect x="479.75" y="319.85" width="1.9" height="1.9" fill="#111"/><rect x="480.95" y="329.15" width="1.9" height="1.9" fill="#111"/><rect x="482.25" y="329.15" width="1.9" height="1.9" fill="#111"/><rect x="483.65" y="305.25" width="1.9" height="1.9" fill="#111"/><rect x="485.05" y="310.55" width="1.9" height="1.9" fill="#111"/><rect x="486.75" y="317.25" width="1.9" height="1.9" fill="#111"/><rect x="488.05" y="326.05" width="1.9" height="1.9" fill="#111"/><rect x="489.45" y="333.95" width="1.9" height="1.9" fill="#111"/><rect x="490.65" y="324.25" width="1.9" height="1.9" fill="#111"/><rect x="492.05" y="319.85" width="1.9" height="1.9" fill="#111"/><rect x="493.85" y="313.65" width="1.9" height="1.9" fill="#111"/><rect x="495.05" y="328.65" width="1.9" height="1.9" fill="#111"/><rect x="496.85" y="331.35" width="1.9" height="1.9" fill="#111"/><rect x="498.55" y="333.05" width="1.9" height="1.9" fill="#111"/><rect x="500.35" y="334.45" width="1.9" height="1.9" fill="#111"/><rect x="501.25" y="337.95" width="1.9" height="1.9" fill="#111"/><rect x="502.65" y="326.95" width="1.9" height="1.9" fill="#111"/><rect x="503.85" y="317.55" width="1.9" height="1.9" fill="#111"/><rect x="505.15" y="339.25" width="1.9" height="1.9" fill="#111"/><rect x="506.55" y="336.55" width="1.9" height="1.9" fill="#111"/><rect x="507.95" y="317.55" width="1.9" height="1.9" fill="#111"/><rect x="509.15" y="335.15" width="1.9" height="1.9" fill="#111"/><rect x="510.95" y="341.85" width="1.9" height="1.9" fill="#111"/><rect x="512.15" y="333.05" width="1.9" height="1.9" fill="#111"/><rect x="513.55" y="333.05" width="1.9" height="1.9" fill="#111"/><rect x="515.35" y="332.75" width="1.9" height="1.9" fill="#111"/><rect x="516.55" y="326.95" width="1.9" height="1.9" fill="#111"/><rect x="517.95" y="338.65" width="1.9" height="1.9" fill="#111"/><rect x="519.75" y="338.35" width="1.9" height="1.9" fill="#111"/><rect x="520.95" y="315.15" width="1.9" height="1.9" fill="#111"/><rect x="522.35" y="336.55" width="1.9" height="1.9" fill="#111"/>
<polyline points="431.00,347.30 433.00,347.30 435.00,347.30 436.80,347.00 437.50,345.50 437.60,343.20 437.60,340.80 437.60,338.50 437.60,334.70 437.60,330.00 437.60,323.40 437.60,312.00 437.60,301.70 437.70,290.40 437.80,280.50 438.00,270.70 438.00,262.00 438.00,254.00 438.10,245.50 438.20,237.20 438.40,229.50 438.60,222.60 439.00,218.50 439.30,216.00 439.70,214.20 440.10,213.10 440.10,213.10 440.50,213.60 440.80,214.80 441.10,216.50 441.40,218.50 441.50,220.50 441.70,223.50 441.80,226.80 442.10,230.00 442.50,234.00 442.90,237.70 443.40,241.40 443.70,245.50 444.00,250.00 444.30,254.00 444.50,258.00 444.70,261.30 444.90,264.50 445.10,268.00 445.40,274.00 445.60,279.00 445.90,284.30" fill="none" stroke="#f07078" stroke-width="0.6"/>
<rect x="430.10" y="346.40" width="1.8" height="1.8" fill="#e81010"/><rect x="432.10" y="346.40" width="1.8" height="1.8" fill="#e81010"/><rect x="434.10" y="346.40" width="1.8" height="1.8" fill="#e81010"/><rect x="435.90" y="346.10" width="1.8" height="1.8" fill="#e81010"/><rect x="436.60" y="344.60" width="1.8" height="1.8" fill="#e81010"/><rect x="436.70" y="342.30" width="1.8" height="1.8" fill="#e81010"/><rect x="436.70" y="339.90" width="1.8" height="1.8" fill="#e81010"/><rect x="436.70" y="337.60" width="1.8" height="1.8" fill="#e81010"/><rect x="436.70" y="333.80" width="1.8" height="1.8" fill="#e81010"/><rect x="436.70" y="329.10" width="1.8" height="1.8" fill="#e81010"/><rect x="436.70" y="322.50" width="1.8" height="1.8" fill="#e81010"/><rect x="436.70" y="311.10" width="1.8" height="1.8" fill="#e81010"/><rect x="436.70" y="300.80" width="1.8" height="1.8" fill="#e81010"/><rect x="436.80" y="289.50" width="1.8" height="1.8" fill="#e81010"/><rect x="436.90" y="279.60" width="1.8" height="1.8" fill="#e81010"/><rect x="437.10" y="269.80" width="1.8" height="1.8" fill="#e81010"/><rect x="437.10" y="261.10" width="1.8" height="1.8" fill="#e81010"/><rect x="437.10" y="253.10" width="1.8" height="1.8" fill="#e81010"/><rect x="437.20" y="244.60" width="1.8" height="1.8" fill="#e81010"/><rect x="437.30" y="236.30" width="1.8" height="1.8" fill="#e81010"/><rect x="437.50" y="228.60" width="1.8" height="1.8" fill="#e81010"/><rect x="437.70" y="221.70" width="1.8" height="1.8" fill="#e81010"/><rect x="438.10" y="217.60" width="1.8" height="1.8" fill="#e81010"/><rect x="438.40" y="215.10" width="1.8" height="1.8" fill="#e81010"/><rect x="438.80" y="213.30" width="1.8" height="1.8" fill="#e81010"/><rect x="439.20" y="212.20" width="1.8" height="1.8" fill="#e81010"/><rect x="439.20" y="212.20" width="1.8" height="1.8" fill="#e81010"/><rect x="439.60" y="212.70" width="1.8" height="1.8" fill="#e81010"/><rect x="439.90" y="213.90" width="1.8" height="1.8" fill="#e81010"/><rect x="440.20" y="215.60" width="1.8" height="1.8" fill="#e81010"/><rect x="440.50" y="217.60" width="1.8" height="1.8" fill="#e81010"/><rect x="440.60" y="219.60" width="1.8" height="1.8" fill="#e81010"/><rect x="440.80" y="222.60" width="1.8" height="1.8" fill="#e81010"/><rect x="440.90" y="225.90" width="1.8" height="1.8" fill="#e81010"/><rect x="441.20" y="229.10" width="1.8" height="1.8" fill="#e81010"/><rect x="441.60" y="233.10" width="1.8" height="1.8" fill="#e81010"/><rect x="442.00" y="236.80" width="1.8" height="1.8" fill="#e81010"/><rect x="442.50" y="240.50" width="1.8" height="1.8" fill="#e81010"/><rect x="442.80" y="244.60" width="1.8" height="1.8" fill="#e81010"/><rect x="443.10" y="249.10" width="1.8" height="1.8" fill="#e81010"/><rect x="443.40" y="253.10" width="1.8" height="1.8" fill="#e81010"/><rect x="443.60" y="257.10" width="1.8" height="1.8" fill="#e81010"/><rect x="443.80" y="260.40" width="1.8" height="1.8" fill="#e81010"/><rect x="444.00" y="263.60" width="1.8" height="1.8" fill="#e81010"/><rect x="444.20" y="267.10" width="1.8" height="1.8" fill="#e81010"/><rect x="444.50" y="273.10" width="1.8" height="1.8" fill="#e81010"/><rect x="444.70" y="278.10" width="1.8" height="1.8" fill="#e81010"/><rect x="445.00" y="283.40" width="1.8" height="1.8" fill="#e81010"/>
<line x1="341.7" y1="207.7" x2="348.7" y2="207.7" stroke="#999999" stroke-width="0.7"/><line x1="353.7" y1="207.7" x2="360.5" y2="207.7" stroke="#999999" stroke-width="0.7"/><rect x="350.2" y="206.7" width="2" height="2" fill="#111"/><text x="363.5" y="210.6" font-size="8.9" fill="#222" textLength="46.3" lengthAdjust="spacingAndGlyphs">MoS<tspan font-size="6" dy="1.8">2</tspan><tspan dy="-1.8">/SiO</tspan><tspan font-size="6" dy="1.8">2</tspan><tspan dy="-1.8">/Si</tspan></text>
<line x1="341.7" y1="221.4" x2="348.7" y2="221.4" stroke="#f4a0a8" stroke-width="0.7"/><line x1="353.7" y1="221.4" x2="360.5" y2="221.4" stroke="#f4a0a8" stroke-width="0.7"/><rect x="350.2" y="220.4" width="2" height="2" fill="#e81010"/><text x="363.5" y="224.3" font-size="8.9" fill="#222" textLength="49" lengthAdjust="spacingAndGlyphs">MoS<tspan font-size="6" dy="1.8">2</tspan><tspan dy="-1.8">/Al</tspan><tspan font-size="6" dy="1.8">2</tspan><tspan dy="-1.8">O</tspan><tspan font-size="6" dy="1.8">3</tspan><tspan dy="-1.8">/Si</tspan></text>
</svg></body></html>
